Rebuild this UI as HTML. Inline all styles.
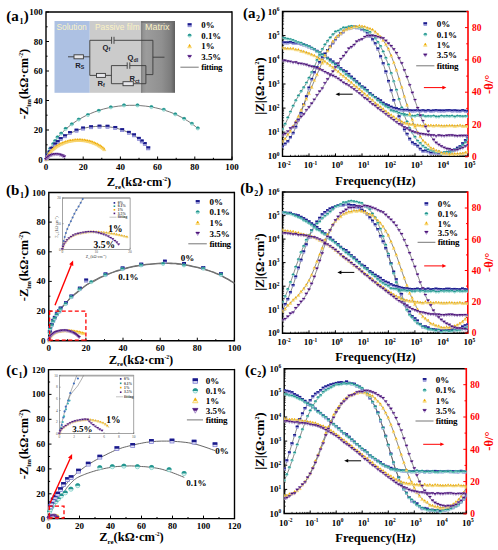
<!DOCTYPE html>
<html><head><meta charset="utf-8"><style>html,body{margin:0;padding:0;background:#fff;}svg{display:block;}</style></head>
<body><svg width="498" height="550" viewBox="0 0 498 550">
<rect width="498" height="550" fill="#fff"/>
<defs><g id="sq0.8"><rect x="-1.0" y="-1.0" width="2.0" height="2.0" fill="#a8a8dc" stroke="#7a7ad0" stroke-width="0.36000000000000004"/><rect x="-1.18" y="-1.18" width="2.36" height="1.23" fill="#1a1a8a"/></g><g id="ci0.8"><circle r="1.0" fill="#a6dcd6" stroke="#7ccfc6" stroke-width="0.36000000000000004"/><path d="M-1.18,0.1 A1.18,1.18 0 0 1 1.18,0.1 Z" fill="#23958f"/></g><g id="tu0.8"><path d="M0,-1.2000000000000002 L1.2000000000000002,0.9600000000000002 L-1.2000000000000002,0.9600000000000002 Z" fill="#f8dc8c" stroke="#f6cf55" stroke-width="0.36000000000000004"/><path d="M0,-1.3800000000000001 L0.7440000000000001,0.06000000000000001 L-0.7440000000000001,0.06000000000000001 Z" fill="#f0aa00"/></g><g id="td0.8"><path d="M0,1.2000000000000002 L1.2000000000000002,-0.9600000000000002 L-1.2000000000000002,-0.9600000000000002 Z" fill="#c4b0dc" stroke="#9a78c0" stroke-width="0.36000000000000004"/><path d="M-1.3200000000000003,-1.02 L1.3200000000000003,-1.02 L0.6240000000000001,0.12000000000000002 L-0.6240000000000001,0.12000000000000002 Z" fill="#4d1478"/></g><g id="sq1"><rect x="-1.25" y="-1.25" width="2.5" height="2.5" fill="#a8a8dc" stroke="#7a7ad0" stroke-width="0.45"/><rect x="-1.475" y="-1.475" width="2.95" height="1.5375" fill="#1a1a8a"/></g><g id="ci1"><circle r="1.25" fill="#a6dcd6" stroke="#7ccfc6" stroke-width="0.45"/><path d="M-1.475,0.1 A1.475,1.475 0 0 1 1.475,0.1 Z" fill="#23958f"/></g><g id="tu1"><path d="M0,-1.5 L1.5,1.2000000000000002 L-1.5,1.2000000000000002 Z" fill="#f8dc8c" stroke="#f6cf55" stroke-width="0.45"/><path d="M0,-1.7249999999999999 L0.9299999999999999,0.07500000000000001 L-0.9299999999999999,0.07500000000000001 Z" fill="#f0aa00"/></g><g id="td1"><path d="M0,1.5 L1.5,-1.2000000000000002 L-1.5,-1.2000000000000002 Z" fill="#c4b0dc" stroke="#9a78c0" stroke-width="0.45"/><path d="M-1.6500000000000001,-1.275 L1.6500000000000001,-1.275 L0.78,0.15000000000000002 L-0.78,0.15000000000000002 Z" fill="#4d1478"/></g><g id="sq1.1"><rect x="-1.375" y="-1.375" width="2.75" height="2.75" fill="#a8a8dc" stroke="#7a7ad0" stroke-width="0.49500000000000005"/><rect x="-1.6225" y="-1.6225" width="3.245" height="1.6912500000000001" fill="#1a1a8a"/></g><g id="ci1.1"><circle r="1.375" fill="#a6dcd6" stroke="#7ccfc6" stroke-width="0.49500000000000005"/><path d="M-1.6225,0.1 A1.6225,1.6225 0 0 1 1.6225,0.1 Z" fill="#23958f"/></g><g id="tu1.1"><path d="M0,-1.6500000000000001 L1.6500000000000001,1.3200000000000003 L-1.6500000000000001,1.3200000000000003 Z" fill="#f8dc8c" stroke="#f6cf55" stroke-width="0.49500000000000005"/><path d="M0,-1.8975 L1.0230000000000001,0.08250000000000002 L-1.0230000000000001,0.08250000000000002 Z" fill="#f0aa00"/></g><g id="td1.1"><path d="M0,1.6500000000000001 L1.6500000000000001,-1.3200000000000003 L-1.6500000000000001,-1.3200000000000003 Z" fill="#c4b0dc" stroke="#9a78c0" stroke-width="0.49500000000000005"/><path d="M-1.8150000000000004,-1.4025 L1.8150000000000004,-1.4025 L0.8580000000000001,0.16500000000000004 L-0.8580000000000001,0.16500000000000004 Z" fill="#4d1478"/></g><g id="sq1.2"><rect x="-1.5" y="-1.5" width="3.0" height="3.0" fill="#a8a8dc" stroke="#7a7ad0" stroke-width="0.54"/><rect x="-1.77" y="-1.77" width="3.54" height="1.8450000000000002" fill="#1a1a8a"/></g><g id="ci1.2"><circle r="1.5" fill="#a6dcd6" stroke="#7ccfc6" stroke-width="0.54"/><path d="M-1.77,0.1 A1.77,1.77 0 0 1 1.77,0.1 Z" fill="#23958f"/></g><g id="tu1.2"><path d="M0,-1.7999999999999998 L1.7999999999999998,1.44 L-1.7999999999999998,1.44 Z" fill="#f8dc8c" stroke="#f6cf55" stroke-width="0.54"/><path d="M0,-2.07 L1.1159999999999999,0.09 L-1.1159999999999999,0.09 Z" fill="#f0aa00"/></g><g id="td1.2"><path d="M0,1.7999999999999998 L1.7999999999999998,-1.44 L-1.7999999999999998,-1.44 Z" fill="#c4b0dc" stroke="#9a78c0" stroke-width="0.54"/><path d="M-1.98,-1.5299999999999998 L1.98,-1.5299999999999998 L0.9359999999999999,0.18 L-0.9359999999999999,0.18 Z" fill="#4d1478"/></g><g id="sq1.3"><rect x="-1.625" y="-1.625" width="3.25" height="3.25" fill="#a8a8dc" stroke="#7a7ad0" stroke-width="0.5850000000000001"/><rect x="-1.9175" y="-1.9175" width="3.835" height="1.99875" fill="#1a1a8a"/></g><g id="ci1.3"><circle r="1.625" fill="#a6dcd6" stroke="#7ccfc6" stroke-width="0.5850000000000001"/><path d="M-1.9175,0.1 A1.9175,1.9175 0 0 1 1.9175,0.1 Z" fill="#23958f"/></g><g id="tu1.3"><path d="M0,-1.9500000000000002 L1.9500000000000002,1.5600000000000003 L-1.9500000000000002,1.5600000000000003 Z" fill="#f8dc8c" stroke="#f6cf55" stroke-width="0.5850000000000001"/><path d="M0,-2.2425 L1.209,0.09750000000000002 L-1.209,0.09750000000000002 Z" fill="#f0aa00"/></g><g id="td1.3"><path d="M0,1.9500000000000002 L1.9500000000000002,-1.5600000000000003 L-1.9500000000000002,-1.5600000000000003 Z" fill="#c4b0dc" stroke="#9a78c0" stroke-width="0.5850000000000001"/><path d="M-2.1450000000000005,-1.6575000000000002 L2.1450000000000005,-1.6575000000000002 L1.0140000000000002,0.19500000000000003 L-1.0140000000000002,0.19500000000000003 Z" fill="#4d1478"/></g><g id="sq1.6"><rect x="-2.0" y="-2.0" width="4.0" height="4.0" fill="#e4e4f6" stroke="#7a7ad0" stroke-width="0.7200000000000001"/><rect x="-2.36" y="-2.36" width="4.72" height="2.46" fill="#1a1a8a"/></g><g id="ci1.6"><circle r="2.0" fill="#e0f4f1" stroke="#7ccfc6" stroke-width="0.7200000000000001"/><path d="M-2.36,0.1 A2.36,2.36 0 0 1 2.36,0.1 Z" fill="#23958f"/></g><g id="tu1.6"><path d="M0,-2.4000000000000004 L2.4000000000000004,1.9200000000000004 L-2.4000000000000004,1.9200000000000004 Z" fill="#fdf2d0" stroke="#f6cf55" stroke-width="0.7200000000000001"/><path d="M0,-2.7600000000000002 L1.4880000000000002,0.12000000000000002 L-1.4880000000000002,0.12000000000000002 Z" fill="#f0aa00"/></g><g id="td1.6"><path d="M0,2.4000000000000004 L2.4000000000000004,-1.9200000000000004 L-2.4000000000000004,-1.9200000000000004 Z" fill="#ece4f6" stroke="#9a78c0" stroke-width="0.7200000000000001"/><path d="M-2.6400000000000006,-2.04 L2.6400000000000006,-2.04 L1.2480000000000002,0.24000000000000005 L-1.2480000000000002,0.24000000000000005 Z" fill="#4d1478"/></g><g id="sq1.7"><rect x="-2.125" y="-2.125" width="4.25" height="4.25" fill="#e4e4f6" stroke="#7a7ad0" stroke-width="0.765"/><rect x="-2.5075" y="-2.5075" width="5.015" height="2.61375" fill="#1a1a8a"/></g><g id="ci1.7"><circle r="2.125" fill="#e0f4f1" stroke="#7ccfc6" stroke-width="0.765"/><path d="M-2.5075,0.1 A2.5075,2.5075 0 0 1 2.5075,0.1 Z" fill="#23958f"/></g><g id="tu1.7"><path d="M0,-2.55 L2.55,2.04 L-2.55,2.04 Z" fill="#fdf2d0" stroke="#f6cf55" stroke-width="0.765"/><path d="M0,-2.9324999999999997 L1.581,0.1275 L-1.581,0.1275 Z" fill="#f0aa00"/></g><g id="td1.7"><path d="M0,2.55 L2.55,-2.04 L-2.55,-2.04 Z" fill="#ece4f6" stroke="#9a78c0" stroke-width="0.765"/><path d="M-2.805,-2.1675 L2.805,-2.1675 L1.3259999999999998,0.255 L-1.3259999999999998,0.255 Z" fill="#4d1478"/></g><g id="sq1.8"><rect x="-2.25" y="-2.25" width="4.5" height="4.5" fill="#e4e4f6" stroke="#7a7ad0" stroke-width="0.81"/><rect x="-2.6550000000000002" y="-2.6550000000000002" width="5.3100000000000005" height="2.7675" fill="#1a1a8a"/></g><g id="ci1.8"><circle r="2.25" fill="#e0f4f1" stroke="#7ccfc6" stroke-width="0.81"/><path d="M-2.6550000000000002,0.1 A2.6550000000000002,2.6550000000000002 0 0 1 2.6550000000000002,0.1 Z" fill="#23958f"/></g><g id="tu1.8"><path d="M0,-2.7 L2.7,2.16 L-2.7,2.16 Z" fill="#fdf2d0" stroke="#f6cf55" stroke-width="0.81"/><path d="M0,-3.105 L1.6740000000000002,0.135 L-1.6740000000000002,0.135 Z" fill="#f0aa00"/></g><g id="td1.8"><path d="M0,2.7 L2.7,-2.16 L-2.7,-2.16 Z" fill="#ece4f6" stroke="#9a78c0" stroke-width="0.81"/><path d="M-2.9700000000000006,-2.295 L2.9700000000000006,-2.295 L1.4040000000000001,0.27 L-1.4040000000000001,0.27 Z" fill="#4d1478"/></g></defs>
<path d="M232,12 L46,12 L46,159.5 L232,159.5" fill="none" stroke="#000" stroke-width="1.4"/>
<line x1="232" y1="11.3" x2="232" y2="160.2" stroke="#000" stroke-width="1.4" />
<line x1="46" y1="159.5" x2="46" y2="156.5" stroke="#000" stroke-width="1" />
<text x="46" y="169.8" font-size="9" text-anchor="middle" fill="#000" font-family="Liberation Serif" font-weight="bold" >0</text>
<line x1="83.2" y1="159.5" x2="83.2" y2="156.5" stroke="#000" stroke-width="1" />
<text x="83.2" y="169.8" font-size="9" text-anchor="middle" fill="#000" font-family="Liberation Serif" font-weight="bold" >20</text>
<line x1="120.4" y1="159.5" x2="120.4" y2="156.5" stroke="#000" stroke-width="1" />
<text x="120.4" y="169.8" font-size="9" text-anchor="middle" fill="#000" font-family="Liberation Serif" font-weight="bold" >40</text>
<line x1="157.6" y1="159.5" x2="157.6" y2="156.5" stroke="#000" stroke-width="1" />
<text x="157.6" y="169.8" font-size="9" text-anchor="middle" fill="#000" font-family="Liberation Serif" font-weight="bold" >60</text>
<line x1="194.8" y1="159.5" x2="194.8" y2="156.5" stroke="#000" stroke-width="1" />
<text x="194.8" y="169.8" font-size="9" text-anchor="middle" fill="#000" font-family="Liberation Serif" font-weight="bold" >80</text>
<line x1="232" y1="159.5" x2="232" y2="156.5" stroke="#000" stroke-width="1" />
<text x="232" y="169.8" font-size="9" text-anchor="middle" fill="#000" font-family="Liberation Serif" font-weight="bold" >100</text>
<line x1="64.6" y1="159.5" x2="64.6" y2="157.8" stroke="#000" stroke-width="1" />
<line x1="101.8" y1="159.5" x2="101.8" y2="157.8" stroke="#000" stroke-width="1" />
<line x1="139" y1="159.5" x2="139" y2="157.8" stroke="#000" stroke-width="1" />
<line x1="176.2" y1="159.5" x2="176.2" y2="157.8" stroke="#000" stroke-width="1" />
<line x1="213.4" y1="159.5" x2="213.4" y2="157.8" stroke="#000" stroke-width="1" />
<line x1="46" y1="159.5" x2="49" y2="159.5" stroke="#000" stroke-width="1" />
<text x="42.8" y="162.5" font-size="9" text-anchor="end" fill="#000" font-family="Liberation Serif" font-weight="bold" >0</text>
<line x1="46" y1="130" x2="49" y2="130" stroke="#000" stroke-width="1" />
<text x="42.8" y="133" font-size="9" text-anchor="end" fill="#000" font-family="Liberation Serif" font-weight="bold" >20</text>
<line x1="46" y1="100.5" x2="49" y2="100.5" stroke="#000" stroke-width="1" />
<text x="42.8" y="103.5" font-size="9" text-anchor="end" fill="#000" font-family="Liberation Serif" font-weight="bold" >40</text>
<line x1="46" y1="71" x2="49" y2="71" stroke="#000" stroke-width="1" />
<text x="42.8" y="74" font-size="9" text-anchor="end" fill="#000" font-family="Liberation Serif" font-weight="bold" >60</text>
<line x1="46" y1="41.5" x2="49" y2="41.5" stroke="#000" stroke-width="1" />
<text x="42.8" y="44.5" font-size="9" text-anchor="end" fill="#000" font-family="Liberation Serif" font-weight="bold" >80</text>
<line x1="46" y1="12" x2="49" y2="12" stroke="#000" stroke-width="1" />
<text x="42.8" y="15" font-size="9" text-anchor="end" fill="#000" font-family="Liberation Serif" font-weight="bold" >100</text>
<line x1="46" y1="144.8" x2="47.6" y2="144.8" stroke="#000" stroke-width="1" />
<line x1="46" y1="115.2" x2="47.6" y2="115.2" stroke="#000" stroke-width="1" />
<line x1="46" y1="85.8" x2="47.6" y2="85.8" stroke="#000" stroke-width="1" />
<line x1="46" y1="56.2" x2="47.6" y2="56.2" stroke="#000" stroke-width="1" />
<line x1="46" y1="26.8" x2="47.6" y2="26.8" stroke="#000" stroke-width="1" />
<defs><linearGradient id="mgrad" x1="0" x2="1" y1="0" y2="0"><stop offset="0" stop-color="#8e8e8e"/><stop offset="0.15" stop-color="#9c9c9c"/><stop offset="0.6" stop-color="#909090"/><stop offset="0.88" stop-color="#7c7c7c"/><stop offset="1" stop-color="#5e5e5e"/></linearGradient></defs>
<rect x="54.5" y="21" width="35.3" height="71.8" fill="#adc1e3"/>
<rect x="89.8" y="21" width="51.4" height="71.8" fill="#cbcbcb"/>
<rect x="141.2" y="21" width="33.8" height="71.8" fill="url(#mgrad)"/>
<rect x="141.2" y="21" width="33.8" height="2" fill="#6a6a6a" opacity="0.6"/>
<rect x="141.2" y="21" width="1" height="71.8" fill="#6a6a6a" opacity="0.7"/>
<text x="56.5" y="30.2" font-size="8.4" font-family="Liberation Sans" fill="#fbf2c4">Solution</text>
<text x="95" y="30" font-size="8.4" font-family="Liberation Sans" fill="#fbf2c4">Passive film</text>
<text x="145" y="30" font-size="9" font-family="Liberation Sans" fill="#fbf2c4">Matrix</text>
<path d="M68,56.8 H74 M83.4,56.8 H89.8 M89.8,40.3 V75.4 M89.8,40.3 H111.6 M114,40.3 H152.9 V74.6 H145.9 M152.9,57.2 H164.5" fill="none" stroke="#3a3a3a" stroke-width="0.9"/>
<path d="M111.6,36.8 V43.8 M114,36.8 V43.8" fill="none" stroke="#3a3a3a" stroke-width="0.9"/>
<rect x="74" y="54.8" width="9.4" height="4" fill="#e6e6ea" stroke="#3a3a3a" stroke-width="0.9"/>
<path d="M89.8,75.4 H96.5 M105.4,75.4 H111.4 M111.4,65.6 V83.7 M111.4,65.6 H127.2 M129.8,65.6 H145.9 V83.7 H133.3 M123,83.7 H111.4" fill="none" stroke="#3a3a3a" stroke-width="0.9"/>
<path d="M127.2,62.4 V68.8 M129.8,62.4 V68.8" fill="none" stroke="#3a3a3a" stroke-width="0.9"/>
<rect x="96.5" y="73.4" width="8.9" height="4" fill="#e6e6ea" stroke="#3a3a3a" stroke-width="0.9"/>
<rect x="123" y="81.7" width="10.3" height="4" fill="#e6e6ea" stroke="#3a3a3a" stroke-width="0.9"/>
<text x="75.3" y="67.6" font-size="7.6" font-family="Liberation Sans" font-weight="bold" fill="#1c1c2a">R<tspan font-size="5.3" dy="1.8">S</tspan></text>
<text x="102.6" y="49.6" font-size="7.6" font-family="Liberation Sans" font-weight="bold" fill="#1c1c2a">Q<tspan font-size="5.3" dy="1.8">f</tspan></text>
<text x="97.6" y="85.6" font-size="7.6" font-family="Liberation Sans" font-weight="bold" fill="#1c1c2a">R<tspan font-size="5.3" dy="1.8">f</tspan></text>
<text x="127.6" y="60.4" font-size="7.6" font-family="Liberation Sans" font-weight="bold" fill="#1c1c2a">Q<tspan font-size="5.3" dy="1.8">dl</tspan></text>
<text x="129.4" y="80.8" font-size="7.6" font-family="Liberation Sans" font-weight="bold" fill="#1c1c2a">R<tspan font-size="5.3" dy="1.8">ct</tspan></text>
<path d="M46.1,159.4 L46.1,159.4 L46.1,159.4 L46.1,159.4 L46.1,159.4 L46.1,159.4 L46.1,159.4 L46.1,159.4 L46.1,159.4 L46.1,159.4 L46.1,159.4 L46.1,159.4 L46.1,159.4 L46.1,159.4 L46.1,159.4 L46.1,159.3 L46.1,159.3 L46.1,159.3 L46.2,159.3 L46.2,159.3 L46.2,159.3 L46.2,159.2 L46.2,159.2 L46.2,159.2 L46.2,159.2 L46.2,159.2 L46.2,159.1 L46.2,159.1 L46.2,159.1 L46.2,159 L46.2,159 L46.3,159 L46.3,158.9 L46.3,158.9 L46.3,158.8 L46.3,158.8 L46.3,158.7 L46.4,158.6 L46.4,158.6 L46.4,158.5 L46.4,158.4 L46.4,158.3 L46.5,158.2 L46.5,158.1 L46.5,158 L46.6,157.9 L46.6,157.8 L46.7,157.6 L46.7,157.5 L46.8,157.3 L46.8,157.2 L46.9,157 L47,156.8 L47,156.6 L47.1,156.3 L47.2,156.1 L47.3,155.8 L47.4,155.5 L47.5,155.2 L47.7,154.9 L47.8,154.5 L47.9,154.1 L48.1,153.7 L48.3,153.3 L48.5,152.8 L48.7,152.3 L49,151.7 L49.3,151.1 L49.6,150.5 L49.9,149.8 L50.3,149 L50.7,148.2 L51.1,147.4 L51.6,146.5 L52.2,145.5 L52.8,144.5 L53.5,143.4 L54.3,142.2 L55.2,141 L56.1,139.7 L57.2,138.3 L58.3,136.8 L59.6,135.3 L61.1,133.7 L62.7,132 L64.5,130.3 L66.4,128.5 L68.6,126.7 L71,124.8 L73.6,122.9 L76.4,121 L79.5,119.1 L82.9,117.2 L86.5,115.3 L90.4,113.6 L94.6,111.9 L99,110.4 L103.6,109 L108.5,107.8 L113.5,106.9 L118.7,106.1 L124,105.6 L129.3,105.3 L134.7,105.3 L140.1,105.6 L145.4,106.1 L150.6,106.8 L155.6,107.8 L160.5,109 L165.1,110.4 L169.5,111.9 L173.7,113.5 L177.6,115.3 L181.2,117.1 L184.6,119 L187.7,120.9 L190.6,122.8 L193.2,124.7 L195.6,126.6 L197.7,128.5" fill="none" stroke="#555555" stroke-width="0.8" />
<use href="#ci1.3" x="197.8" y="128.4"/><use href="#ci1.3" x="191.9" y="123.7"/><use href="#ci1.3" x="184.1" y="118.8"/><use href="#ci1.3" x="175.3" y="114.3"/><use href="#ci1.3" x="163.8" y="109.7"/><use href="#ci1.3" x="151.4" y="107"/><use href="#ci1.3" x="137.5" y="105.4"/><use href="#ci1.3" x="124" y="105.4"/><use href="#ci1.3" x="110.8" y="107.3"/><use href="#ci1.3" x="98.8" y="110.8"/><use href="#ci1.3" x="87.9" y="115"/><use href="#ci1.3" x="78.7" y="119.5"/><use href="#ci1.3" x="71.8" y="124.3"/><use href="#ci1.3" x="65.6" y="128.9"/><use href="#ci1.3" x="61.2" y="133.6"/><use href="#ci1.3" x="57.5" y="137.4"/><use href="#ci1.3" x="55.1" y="141.1"/><use href="#ci1.3" x="53.2" y="144.1"/><use href="#ci1.3" x="50.2" y="148.8"/><use href="#ci1.3" x="49" y="152.5"/><use href="#ci1.3" x="47.2" y="155.8"/><use href="#ci1.3" x="46.7" y="158.6"/>
<path d="M46.2,159.5 L46.2,159.5 L46.2,159.5 L46.2,159.5 L46.2,159.4 L46.2,159.4 L46.2,159.4 L46.2,159.4 L46.2,159.4 L46.2,159.4 L46.2,159.4 L46.2,159.4 L46.2,159.4 L46.2,159.4 L46.2,159.4 L46.2,159.4 L46.2,159.4 L46.2,159.4 L46.2,159.3 L46.2,159.3 L46.2,159.3 L46.2,159.3 L46.2,159.3 L46.2,159.3 L46.2,159.2 L46.2,159.2 L46.2,159.2 L46.3,159.2 L46.3,159.2 L46.3,159.1 L46.3,159.1 L46.3,159.1 L46.3,159 L46.3,159 L46.3,158.9 L46.4,158.9 L46.4,158.8 L46.4,158.8 L46.4,158.7 L46.4,158.6 L46.5,158.6 L46.5,158.5 L46.5,158.4 L46.6,158.3 L46.6,158.2 L46.6,158.1 L46.7,158 L46.7,157.9 L46.8,157.7 L46.8,157.6 L46.9,157.4 L47,157.3 L47,157.1 L47.1,156.9 L47.2,156.7 L47.3,156.4 L47.4,156.2 L47.5,155.9 L47.7,155.6 L47.8,155.3 L48,154.9 L48.1,154.6 L48.3,154.2 L48.6,153.7 L48.8,153.3 L49.1,152.8 L49.4,152.2 L49.7,151.7 L50.1,151.1 L50.5,150.4 L51,149.7 L51.5,149 L52,148.2 L52.7,147.3 L53.4,146.4 L54.2,145.5 L55.1,144.5 L56.1,143.4 L57.2,142.4 L58.4,141.2 L59.7,140.1 L61.2,138.9 L62.8,137.7 L64.6,136.4 L66.6,135.2 L68.7,134 L71.1,132.8 L73.6,131.7 L76.2,130.6 L79.1,129.6 L82.1,128.7 L85.2,127.9 L88.5,127.3 L91.9,126.8 L95.3,126.5 L98.8,126.3 L102.3,126.4 L105.8,126.6 L109.2,126.9 L112.6,127.4 L115.8,128.1 L118.9,128.9 L121.9,129.8 L124.7,130.9 L127.3,132 L129.8,133.1 L132,134.3 L134.1,135.5 L136,136.8 L137.8,138 L139.4,139.2 L140.8,140.4 L142.1,141.5 L143.3,142.6 L144.4,143.7 L145.3,144.8 L146.2,145.7 L147,146.7 L147.7,147.5 L148.3,148.4" fill="none" stroke="#555555" stroke-width="0.8" />
<use href="#sq1.3" x="148.3" y="148.3"/><use href="#sq1.3" x="144.8" y="144"/><use href="#sq1.3" x="141.8" y="141.4"/><use href="#sq1.3" x="138.9" y="138.8"/><use href="#sq1.3" x="134.1" y="135.3"/><use href="#sq1.3" x="128.9" y="132.8"/><use href="#sq1.3" x="122.2" y="130.1"/><use href="#sq1.3" x="115.3" y="127.9"/><use href="#sq1.3" x="107.5" y="126.7"/><use href="#sq1.3" x="99.5" y="126.6"/><use href="#sq1.3" x="91.1" y="127.2"/><use href="#sq1.3" x="83.1" y="128.5"/><use href="#sq1.3" x="76.5" y="130.6"/><use href="#sq1.3" x="70" y="133"/><use href="#sq1.3" x="65" y="136.2"/><use href="#sq1.3" x="60.7" y="139"/><use href="#sq1.3" x="57.7" y="142"/><use href="#sq1.3" x="55.2" y="144.5"/><use href="#sq1.3" x="51.5" y="148.7"/><use href="#sq1.3" x="49.7" y="152.3"/><use href="#sq1.3" x="47.5" y="155.5"/><use href="#sq1.3" x="47" y="158.3"/>
<path d="M46,159.5 L46,159.5 L46,159.5 L46,159.5 L46.1,159.5 L46.1,159.5 L46.1,159.5 L46.1,159.5 L46.1,159.5 L46.1,159.4 L46.1,159.4 L46.1,159.4 L46.1,159.4 L46.1,159.4 L46.1,159.4 L46.1,159.4 L46.1,159.4 L46.1,159.4 L46.1,159.4 L46.1,159.4 L46.1,159.4 L46.1,159.4 L46.1,159.4 L46.1,159.3 L46.1,159.3 L46.1,159.3 L46.1,159.3 L46.1,159.3 L46.1,159.3 L46.1,159.3 L46.1,159.2 L46.1,159.2 L46.1,159.2 L46.2,159.2 L46.2,159.2 L46.2,159.1 L46.2,159.1 L46.2,159.1 L46.2,159 L46.2,159 L46.2,159 L46.3,158.9 L46.3,158.9 L46.3,158.8 L46.3,158.8 L46.3,158.7 L46.4,158.6 L46.4,158.6 L46.4,158.5 L46.5,158.4 L46.5,158.3 L46.5,158.2 L46.6,158.1 L46.6,158 L46.7,157.9 L46.7,157.8 L46.8,157.7 L46.9,157.5 L46.9,157.4 L47,157.2 L47.1,157 L47.2,156.9 L47.3,156.7 L47.4,156.4 L47.5,156.2 L47.7,156 L47.8,155.7 L48,155.4 L48.2,155.1 L48.4,154.8 L48.6,154.4 L48.9,154.1 L49.1,153.7 L49.4,153.3 L49.8,152.8 L50.2,152.4 L50.6,151.9 L51,151.4 L51.5,150.8 L52.1,150.3 L52.7,149.7 L53.3,149.1 L54.1,148.4 L54.9,147.8 L55.7,147.1 L56.7,146.5 L57.7,145.8 L58.9,145.1 L60.1,144.5 L61.4,143.8 L62.8,143.2 L64.3,142.6 L65.8,142.1 L67.5,141.6 L69.2,141.2 L71,140.8 L72.9,140.5 L74.8,140.3 L76.7,140.2 L78.6,140.1 L80.6,140.2 L82.5,140.3 L84.4,140.5 L86.2,140.8 L88,141.2 L89.8,141.6 L91.4,142.1 L93,142.7 L94.5,143.3 L95.9,143.9 L97.2,144.5 L98.4,145.2 L99.5,145.8 L100.5,146.5 L101.5,147.2 L102.4,147.8 L103.1,148.5 L103.9,149.1 L104.5,149.7 L105.1,150.3" fill="none" stroke="#555555" stroke-width="0.8" />
<use href="#tu1.1" x="46" y="159.5"/><use href="#tu1.1" x="46.7" y="157.9"/><use href="#tu1.1" x="47.4" y="156.4"/><use href="#tu1.1" x="48.3" y="154.9"/><use href="#tu1.1" x="49.3" y="153.5"/><use href="#tu1.1" x="50.3" y="152.2"/><use href="#tu1.1" x="51.4" y="150.9"/><use href="#tu1.1" x="52.6" y="149.7"/><use href="#tu1.1" x="53.9" y="148.6"/><use href="#tu1.1" x="55.2" y="147.5"/><use href="#tu1.1" x="56.6" y="146.5"/><use href="#tu1.1" x="58.1" y="145.6"/><use href="#tu1.1" x="59.5" y="144.8"/><use href="#tu1.1" x="61.1" y="144"/><use href="#tu1.1" x="62.6" y="143.3"/><use href="#tu1.1" x="64.2" y="142.7"/><use href="#tu1.1" x="65.8" y="142.1"/><use href="#tu1.1" x="67.4" y="141.6"/><use href="#tu1.1" x="69.1" y="141.2"/><use href="#tu1.1" x="70.7" y="140.9"/><use href="#tu1.1" x="72.4" y="140.6"/><use href="#tu1.1" x="74.1" y="140.4"/><use href="#tu1.1" x="75.8" y="140.2"/><use href="#tu1.1" x="77.5" y="140.1"/><use href="#tu1.1" x="79.2" y="140.1"/><use href="#tu1.1" x="80.9" y="140.2"/><use href="#tu1.1" x="82.6" y="140.3"/><use href="#tu1.1" x="84.3" y="140.5"/><use href="#tu1.1" x="85.9" y="140.8"/><use href="#tu1.1" x="87.6" y="141.1"/><use href="#tu1.1" x="89.3" y="141.5"/><use href="#tu1.1" x="90.9" y="142"/><use href="#tu1.1" x="92.5" y="142.5"/><use href="#tu1.1" x="94.1" y="143.1"/><use href="#tu1.1" x="95.7" y="143.8"/><use href="#tu1.1" x="97.2" y="144.5"/><use href="#tu1.1" x="98.7" y="145.4"/><use href="#tu1.1" x="100.1" y="146.2"/><use href="#tu1.1" x="101.5" y="147.2"/><use href="#tu1.1" x="102.9" y="148.2"/><use href="#tu1.1" x="104.2" y="149.4"/>
<path d="M46,159.5 L46,159.5 L46,159.5 L46,159.5 L46,159.5 L46,159.5 L46,159.5 L46,159.5 L46,159.5 L46,159.5 L46,159.5 L46,159.5 L46,159.5 L46,159.5 L46,159.4 L46.1,159.4 L46.1,159.4 L46.1,159.4 L46.1,159.4 L46.1,159.4 L46.1,159.4 L46.1,159.4 L46.1,159.4 L46.1,159.4 L46.1,159.4 L46.1,159.4 L46.1,159.4 L46.1,159.4 L46.1,159.4 L46.1,159.4 L46.1,159.3 L46.1,159.3 L46.1,159.3 L46.1,159.3 L46.1,159.3 L46.1,159.3 L46.2,159.3 L46.2,159.3 L46.2,159.2 L46.2,159.2 L46.2,159.2 L46.2,159.2 L46.2,159.2 L46.2,159.1 L46.3,159.1 L46.3,159.1 L46.3,159.1 L46.3,159 L46.3,159 L46.4,159 L46.4,158.9 L46.4,158.9 L46.5,158.8 L46.5,158.8 L46.5,158.7 L46.6,158.7 L46.6,158.6 L46.6,158.6 L46.7,158.5 L46.8,158.5 L46.8,158.4 L46.9,158.3 L46.9,158.2 L47,158.2 L47.1,158.1 L47.2,158 L47.3,157.9 L47.4,157.8 L47.5,157.7 L47.6,157.6 L47.7,157.5 L47.8,157.3 L48,157.2 L48.1,157.1 L48.3,156.9 L48.5,156.8 L48.7,156.7 L48.9,156.5 L49.1,156.4 L49.4,156.2 L49.6,156.1 L49.9,155.9 L50.2,155.8 L50.5,155.6 L50.8,155.5 L51.2,155.3 L51.5,155.2 L51.9,155 L52.3,154.9 L52.8,154.8 L53.2,154.7 L53.6,154.6 L54.1,154.5 L54.6,154.4 L55.1,154.4 L55.6,154.4 L56,154.4 L56.5,154.4 L57,154.4 L57.5,154.4 L58,154.5 L58.5,154.5 L58.9,154.6 L59.4,154.7 L59.8,154.8 L60.2,154.9 L60.6,155.1 L61,155.2 L61.4,155.3 L61.7,155.5 L62.1,155.6 L62.4,155.8 L62.7,155.9 L62.9,156.1 L63.2,156.2 L63.4,156.4 L63.6,156.5 L63.9,156.7 L64,156.8 L64.2,157" fill="none" stroke="#555555" stroke-width="0.8" />
<use href="#td1.1" x="46" y="159.5"/><use href="#td1.1" x="47" y="158.1"/><use href="#td1.1" x="48.3" y="157"/><use href="#td1.1" x="49.7" y="156"/><use href="#td1.1" x="51.2" y="155.3"/><use href="#td1.1" x="52.8" y="154.8"/><use href="#td1.1" x="54.5" y="154.5"/><use href="#td1.1" x="56.2" y="154.4"/><use href="#td1.1" x="57.9" y="154.4"/><use href="#td1.1" x="59.6" y="154.8"/><use href="#td1.1" x="61.2" y="155.3"/><use href="#td1.1" x="62.7" y="156"/><use href="#td1.1" x="64.2" y="156.9"/>
<use href="#sq1.3" x="189.6" y="25.2"/>
<text x="201.3" y="28.1" font-size="8.8" text-anchor="start" fill="#000" font-family="Liberation Serif" font-weight="bold" >0%</text>
<use href="#ci1.3" x="189.6" y="35.6"/>
<text x="201.3" y="38.5" font-size="8.8" text-anchor="start" fill="#000" font-family="Liberation Serif" font-weight="bold" >0.1%</text>
<use href="#tu1.3" x="189.6" y="46.3"/>
<text x="201.3" y="49.2" font-size="8.8" text-anchor="start" fill="#000" font-family="Liberation Serif" font-weight="bold" >1%</text>
<use href="#td1.3" x="189.6" y="56.8"/>
<text x="201.3" y="59.7" font-size="8.8" text-anchor="start" fill="#000" font-family="Liberation Serif" font-weight="bold" >3.5%</text>
<line x1="180.4" y1="67.2" x2="198.7" y2="67.2" stroke="#777" stroke-width="1" />
<text x="201.3" y="70.1" font-size="8.8" text-anchor="start" fill="#000" font-family="Liberation Serif" font-weight="bold" letter-spacing="-0.3">fitting</text>
<text transform="translate(28,84) rotate(-90)" x="0" y="0" font-size="12.5" text-anchor="middle" font-family="Liberation Serif" font-weight="bold">-Z<tspan font-size="6.9" dy="2.8">im</tspan><tspan dy="-2.8">(kΩ·cm</tspan><tspan font-size="5.6" dy="-4.8">-2</tspan><tspan dy="4.8">)</tspan></text>
<text x="139" y="186" font-size="12.5" text-anchor="middle" font-family="Liberation Serif" font-weight="bold">Z<tspan font-size="6.9" dy="2.8">re</tspan><tspan dy="-2.8">(kΩ·cm</tspan><tspan font-size="5.6" dy="-4.8">-2</tspan><tspan dy="4.8">)</tspan></text>
<text x="6.3" y="21" font-size="15" font-family="Liberation Serif" font-weight="bold">(a<tspan font-size="8" dy="2.9" dx="0.6">1</tspan><tspan dy="-2.9" dx="0.3">)</tspan></text>
<text x="36" y="15.3" font-size="9" text-anchor="end" font-family="Liberation Serif" font-weight="bold"></text>
<path d="M234.4,192.5 L48.8,192.5 L48.8,340.7 L234.4,340.7" fill="none" stroke="#000" stroke-width="1.4"/>
<line x1="234.4" y1="191.8" x2="234.4" y2="341.4" stroke="#000" stroke-width="1.4" />
<line x1="48.8" y1="340.7" x2="48.8" y2="337.7" stroke="#000" stroke-width="1" />
<text x="48.8" y="351" font-size="9" text-anchor="middle" fill="#000" font-family="Liberation Serif" font-weight="bold" >0</text>
<line x1="85.9" y1="340.7" x2="85.9" y2="337.7" stroke="#000" stroke-width="1" />
<text x="85.9" y="351" font-size="9" text-anchor="middle" fill="#000" font-family="Liberation Serif" font-weight="bold" >20</text>
<line x1="123" y1="340.7" x2="123" y2="337.7" stroke="#000" stroke-width="1" />
<text x="123" y="351" font-size="9" text-anchor="middle" fill="#000" font-family="Liberation Serif" font-weight="bold" >40</text>
<line x1="160.2" y1="340.7" x2="160.2" y2="337.7" stroke="#000" stroke-width="1" />
<text x="160.2" y="351" font-size="9" text-anchor="middle" fill="#000" font-family="Liberation Serif" font-weight="bold" >60</text>
<line x1="197.3" y1="340.7" x2="197.3" y2="337.7" stroke="#000" stroke-width="1" />
<text x="197.3" y="351" font-size="9" text-anchor="middle" fill="#000" font-family="Liberation Serif" font-weight="bold" >80</text>
<line x1="234.4" y1="340.7" x2="234.4" y2="337.7" stroke="#000" stroke-width="1" />
<text x="234.4" y="351" font-size="9" text-anchor="middle" fill="#000" font-family="Liberation Serif" font-weight="bold" >100</text>
<line x1="67.4" y1="340.7" x2="67.4" y2="339.1" stroke="#000" stroke-width="1" />
<line x1="104.5" y1="340.7" x2="104.5" y2="339.1" stroke="#000" stroke-width="1" />
<line x1="141.6" y1="340.7" x2="141.6" y2="339.1" stroke="#000" stroke-width="1" />
<line x1="178.7" y1="340.7" x2="178.7" y2="339.1" stroke="#000" stroke-width="1" />
<line x1="215.8" y1="340.7" x2="215.8" y2="339.1" stroke="#000" stroke-width="1" />
<line x1="48.8" y1="340.7" x2="51.8" y2="340.7" stroke="#000" stroke-width="1" />
<text x="45.6" y="343.7" font-size="9" text-anchor="end" fill="#000" font-family="Liberation Serif" font-weight="bold" >0</text>
<line x1="48.8" y1="311.1" x2="51.8" y2="311.1" stroke="#000" stroke-width="1" />
<text x="45.6" y="314" font-size="9" text-anchor="end" fill="#000" font-family="Liberation Serif" font-weight="bold" >20</text>
<line x1="48.8" y1="281.4" x2="51.8" y2="281.4" stroke="#000" stroke-width="1" />
<text x="45.6" y="284.4" font-size="9" text-anchor="end" fill="#000" font-family="Liberation Serif" font-weight="bold" >40</text>
<line x1="48.8" y1="251.8" x2="51.8" y2="251.8" stroke="#000" stroke-width="1" />
<text x="45.6" y="254.8" font-size="9" text-anchor="end" fill="#000" font-family="Liberation Serif" font-weight="bold" >60</text>
<line x1="48.8" y1="222.1" x2="51.8" y2="222.1" stroke="#000" stroke-width="1" />
<text x="45.6" y="225.1" font-size="9" text-anchor="end" fill="#000" font-family="Liberation Serif" font-weight="bold" >80</text>
<line x1="48.8" y1="192.5" x2="51.8" y2="192.5" stroke="#000" stroke-width="1" />
<text x="45.6" y="195.5" font-size="9" text-anchor="end" fill="#000" font-family="Liberation Serif" font-weight="bold" >100</text>
<line x1="48.8" y1="325.9" x2="50.4" y2="325.9" stroke="#000" stroke-width="1" />
<line x1="48.8" y1="296.2" x2="50.4" y2="296.2" stroke="#000" stroke-width="1" />
<line x1="48.8" y1="266.6" x2="50.4" y2="266.6" stroke="#000" stroke-width="1" />
<line x1="48.8" y1="237" x2="50.4" y2="237" stroke="#000" stroke-width="1" />
<line x1="48.8" y1="207.3" x2="50.4" y2="207.3" stroke="#000" stroke-width="1" />
<path d="M48.8,340.7 L48.9,340.3 L48.9,339.8 L49,339.2 L49.1,338.5 L49.2,337.7 L49.3,337 L49.4,336.2 L49.5,335.5 L49.7,334.8 L49.8,334.1 L49.9,333.3 L50.1,332.5 L50.2,331.8 L50.4,331 L50.5,330.3 L50.7,329.6 L50.8,328.9 L51,328.2 L51.1,327.6 L51.3,327 L51.5,326.4 L51.6,325.8 L51.8,325.2 L52,324.7 L52.1,324.2 L52.2,323.8 L52.3,323.4 L52.5,323.1 L52.6,322.7 L52.7,322.4 L52.8,322 L53,321.6 L53.2,321.1 L53.3,320.7 L53.5,320.2 L53.7,319.8 L53.9,319.3 L54.1,318.8 L54.3,318.3 L54.6,317.9 L54.8,317.4 L55,317 L55.2,316.6 L55.4,316.2 L55.6,315.7 L55.9,315.3 L56.2,314.8 L56.5,314.3 L56.9,313.8 L57.2,313.2 L57.6,312.7 L58,312.1 L58.5,311.5 L58.9,310.8 L59.4,310.2 L60,309.5 L60.6,308.8 L61.2,308.1 L61.9,307.3 L62.7,306.5 L63.4,305.7 L64.2,304.9 L64.9,304.1 L65.6,303.4 L66.3,302.6 L66.9,301.9 L67.5,301.2 L68.1,300.5 L68.7,299.8 L69.4,299 L70.2,298.3 L71.1,297.4 L72,296.5 L73.1,295.6 L74.2,294.5 L75.4,293.5 L76.6,292.5 L77.8,291.4 L79.1,290.4 L80.4,289.4 L81.6,288.5 L82.9,287.6 L84.1,286.6 L85.4,285.7 L86.8,284.8 L88.2,283.9 L89.6,283.1 L91.1,282.2 L92.7,281.3 L94.3,280.3 L96,279.4 L97.8,278.5 L99.6,277.6 L101.4,276.7 L103.3,275.9 L105.2,275 L107.2,274.2 L109.3,273.4 L111.4,272.7 L113.5,271.9 L115.7,271.1 L117.9,270.4 L120.1,269.8 L122.3,269.1 L124.5,268.5 L126.6,267.9 L128.8,267.4 L131,266.9 L133.2,266.4 L135.5,265.9 L138,265.5 L140.5,265.1 L143.2,264.7 L146.1,264.4 L149.1,264.1 L152.2,263.8 L155.2,263.5 L158.2,263.3 L161.1,263.1 L163.9,263 L166.4,263 L168.8,263 L171.1,263.1 L173.3,263.2 L175.5,263.4 L177.8,263.6 L180.1,263.9 L182.4,264.2 L184.9,264.6 L187.5,265.1 L190.1,265.6 L192.8,266.2 L195.4,266.8 L198,267.4 L200.5,268 L202.8,268.7 L205.1,269.3 L207.3,270 L209.5,270.7 L211.5,271.4 L213.6,272.1 L215.6,272.9 L217.6,273.7 L219.6,274.6 L221.6,275.6 L223.7,276.7 L225.9,277.9 L228,279.1 L230,280.3 L231.8,281.4 L233.3,282.2 L234.4,282.9" fill="none" stroke="#707070" stroke-width="1.1" />
<path d="M48.8,340.7 L48.9,340.3 L48.9,339.8 L49,339.2 L49.1,338.5 L49.2,337.7 L49.3,337 L49.4,336.2 L49.5,335.5 L49.7,334.8 L49.8,334.1 L49.9,333.3 L50.1,332.5 L50.2,331.8 L50.4,331 L50.5,330.3 L50.7,329.6 L50.8,328.9 L51,328.2 L51.1,327.6 L51.3,327 L51.5,326.4 L51.6,325.8 L51.8,325.2 L52,324.7 L52.1,324.2 L52.2,323.8 L52.3,323.4 L52.5,323.1 L52.6,322.7 L52.7,322.4 L52.8,322 L53,321.6 L53.2,321.1 L53.3,320.7 L53.5,320.2 L53.7,319.8 L53.9,319.3 L54.1,318.8 L54.3,318.3 L54.6,317.9 L54.8,317.4 L55,317 L55.2,316.6 L55.4,316.2 L55.6,315.7 L55.9,315.3 L56.2,314.8 L56.5,314.3 L56.9,313.8 L57.2,313.2 L57.6,312.7 L58,312.1 L58.5,311.5 L58.9,310.8 L59.4,310.2 L60,309.5 L60.6,308.8 L61.2,308.1 L61.9,307.3 L62.7,306.5 L63.4,305.7 L64.2,304.9 L64.9,304.1 L65.6,303.4 L66.3,302.6 L66.9,301.9 L67.5,301.2 L68.1,300.5 L68.7,299.7 L69.4,299 L70.2,298.2 L71.1,297.4 L72.1,296.6 L73.2,295.6 L74.4,294.7 L75.6,293.7 L76.9,292.7 L78.1,291.8 L79.3,290.9 L80.4,290 L81.3,289.2 L82.2,288.5 L83.1,287.7 L83.9,287 L84.7,286.4 L85.4,285.7 L86.1,285.2 L86.8,284.7 L87.5,284.3 L87.9,284.1 L88.3,283.9 L88.7,283.8 L89.2,283.6 L89.7,283.4 L90.5,283.1 L91.5,282.6 L92.7,281.9 L94.2,281.2 L95.8,280.3 L97.6,279.3 L99.4,278.3 L101.3,277.3 L103.3,276.4 L105.2,275.5 L107.2,274.7 L109.2,273.9 L111.3,273.1 L113.5,272.3 L115.7,271.6 L117.9,270.9 L120.1,270.2 L122.3,269.6 L124.5,269 L126.6,268.4 L128.8,267.8 L131,267.3 L133.2,266.8 L135.5,266.4 L138,266 L140.5,265.6 L143.2,265.2 L146.1,264.8 L149.1,264.5 L152.2,264.2 L155.2,263.9 L158.2,263.7 L161.1,263.6 L163.9,263.5 L166.4,263.5 L168.8,263.5 L171.1,263.6 L173.3,263.7 L175.5,263.8 L177.8,264.1 L180.1,264.3 L182.4,264.7 L184.9,265.1 L187.5,265.5 L190.1,266 L192.8,266.6 L195.4,267.2 L198,267.8 L200.5,268.5 L202.8,269.1 L205.1,269.8 L207.3,270.4 L209.5,271.1 L211.5,271.8 L213.6,272.6 L215.6,273.4 L217.6,274.2 L219.6,275 L221.6,276 L223.7,277.2 L225.9,278.4 L228,279.6 L230,280.8 L231.8,281.9 L233.3,282.8 L234.4,283.5" fill="none" stroke="#707070" stroke-width="1.1" />
<use href="#sq1.3" x="49.8" y="332"/><use href="#sq1.3" x="50.3" y="328.2"/><use href="#sq1.3" x="51.8" y="324.8"/><use href="#sq1.3" x="53.3" y="320.8"/><use href="#sq1.3" x="54.8" y="317.8"/><use href="#sq1.3" x="56.8" y="314.2"/><use href="#sq1.3" x="59.3" y="311.2"/><use href="#sq1.3" x="60.6" y="308.5"/><use href="#sq1.3" x="65.9" y="303.2"/><use href="#sq1.3" x="71.4" y="296.5"/><use href="#sq1.3" x="79.8" y="288.6"/><use href="#sq1.3" x="86.2" y="280.5"/><use href="#sq1.3" x="105.5" y="274.4"/><use href="#sq1.3" x="122.6" y="268.4"/><use href="#sq1.3" x="141.3" y="264.6"/><use href="#sq1.3" x="164.9" y="261.6"/><use href="#sq1.3" x="184.1" y="263.9"/><use href="#sq1.3" x="203.3" y="268.1"/><use href="#sq1.3" x="221" y="274.2"/>
<use href="#ci1.3" x="49.6" y="333"/><use href="#ci1.3" x="50" y="329"/><use href="#ci1.3" x="51.5" y="325.6"/><use href="#ci1.3" x="53" y="321.6"/><use href="#ci1.3" x="54.5" y="318.6"/><use href="#ci1.3" x="56.5" y="315"/><use href="#ci1.3" x="59" y="312"/><use href="#ci1.3" x="60.3" y="309.3"/><use href="#ci1.3" x="65.6" y="304"/><use href="#ci1.3" x="71.1" y="297.2"/><use href="#ci1.3" x="79.5" y="289.4"/><use href="#ci1.3" x="91.2" y="282.1"/><use href="#ci1.3" x="105.2" y="275.1"/><use href="#ci1.3" x="122.3" y="269.1"/><use href="#ci1.3" x="141" y="265.4"/><use href="#ci1.3" x="163.1" y="263.9"/><use href="#ci1.3" x="184" y="265.4"/><use href="#ci1.3" x="203.3" y="268.7"/><use href="#ci1.3" x="221" y="274.9"/>
<path d="M48.8,340.7 L48.9,340.5 L48.9,340.3 L49,340 L49.1,339.7 L49.2,339.3 L49.3,339 L49.4,338.6 L49.5,338.3 L49.7,338 L49.8,337.7 L50,337.4 L50.2,337.1 L50.4,336.7 L50.6,336.4 L50.8,336.1 L51,335.8 L51.3,335.5 L51.5,335.2 L51.8,334.9 L52.1,334.7 L52.4,334.4 L52.7,334.1 L53.1,333.8 L53.4,333.6 L53.8,333.3 L54.2,333.1 L54.6,332.9 L55,332.6 L55.5,332.4 L56,332.2 L56.5,332 L57.2,331.8 L57.9,331.6 L58.7,331.4 L59.6,331.3 L60.5,331.1 L61.4,330.9 L62.3,330.8 L63.2,330.7 L64,330.6 L64.7,330.6 L65.4,330.6 L66.1,330.6 L66.7,330.6 L67.3,330.6 L67.9,330.7 L68.6,330.7 L69.2,330.8 L69.9,330.8 L70.6,330.9 L71.3,331 L72,331 L72.7,331.1 L73.4,331.2 L74.1,331.3 L74.8,331.4 L75.5,331.6 L76.2,331.7 L76.9,331.8 L77.6,332 L78.3,332.1 L79,332.3 L79.7,332.4 L80.4,332.5 L81,332.7 L81.6,332.9 L82.3,333 L82.9,333.2 L83.5,333.4 L84,333.5 L84.5,333.6 L84.8,333.7" fill="none" stroke="#555555" stroke-width="0.7" />
<use href="#tu1" x="48.8" y="340.7"/><use href="#tu1" x="49.2" y="339.2"/><use href="#tu1" x="49.8" y="337.7"/><use href="#tu1" x="50.7" y="336.3"/><use href="#tu1" x="51.7" y="335.1"/><use href="#tu1" x="52.9" y="334"/><use href="#tu1" x="54.2" y="333.1"/><use href="#tu1" x="55.6" y="332.4"/><use href="#tu1" x="57.1" y="331.8"/><use href="#tu1" x="58.7" y="331.4"/><use href="#tu1" x="60.2" y="331.1"/><use href="#tu1" x="61.8" y="330.9"/><use href="#tu1" x="63.4" y="330.7"/><use href="#tu1" x="65" y="330.6"/><use href="#tu1" x="66.6" y="330.6"/><use href="#tu1" x="68.2" y="330.7"/><use href="#tu1" x="69.8" y="330.8"/><use href="#tu1" x="71.4" y="331"/><use href="#tu1" x="73" y="331.2"/><use href="#tu1" x="74.5" y="331.4"/><use href="#tu1" x="76.1" y="331.7"/><use href="#tu1" x="77.7" y="332"/><use href="#tu1" x="79.3" y="332.3"/><use href="#tu1" x="80.8" y="332.7"/><use href="#tu1" x="82.4" y="333.1"/><use href="#tu1" x="83.9" y="333.5"/>
<path d="M48.8,340.7 L48.9,340.5 L48.9,340.3 L49,340 L49.1,339.7 L49.2,339.3 L49.3,339 L49.4,338.6 L49.5,338.3 L49.7,338 L49.8,337.7 L50,337.4 L50.2,337.1 L50.4,336.7 L50.6,336.4 L50.8,336.1 L51,335.8 L51.3,335.5 L51.5,335.2 L51.8,334.9 L52.1,334.7 L52.4,334.4 L52.7,334.1 L53.1,333.8 L53.4,333.6 L53.8,333.3 L54.2,333.1 L54.6,332.9 L55,332.6 L55.5,332.4 L56,332.2 L56.5,332 L57.2,331.8 L57.9,331.6 L58.7,331.4 L59.6,331.2 L60.5,331 L61.4,330.9 L62.3,330.8 L63.2,330.7 L64,330.6 L64.8,330.6 L65.4,330.7 L66.1,330.8 L66.8,330.9 L67.4,331 L68,331.2 L68.6,331.3 L69.2,331.5 L69.8,331.7 L70.4,331.9 L71,332.1 L71.6,332.3 L72.2,332.5 L72.8,332.8 L73.3,333 L73.9,333.3 L74.4,333.6 L74.9,333.9 L75.4,334.2 L75.9,334.5 L76.3,334.8 L76.8,335.2 L77.2,335.5 L77.6,335.8 L77.9,336.1 L78.3,336.5 L78.6,336.8 L78.9,337.2 L79.2,337.5 L79.4,337.8 L79.6,338 L79.8,338.2" fill="none" stroke="#555555" stroke-width="0.7" />
<use href="#td1" x="48.8" y="340.7"/><use href="#td1" x="49.2" y="339.2"/><use href="#td1" x="49.8" y="337.7"/><use href="#td1" x="50.7" y="336.3"/><use href="#td1" x="51.7" y="335.1"/><use href="#td1" x="52.9" y="334"/><use href="#td1" x="54.2" y="333.1"/><use href="#td1" x="55.6" y="332.4"/><use href="#td1" x="57.1" y="331.8"/><use href="#td1" x="58.7" y="331.4"/><use href="#td1" x="60.2" y="331.1"/><use href="#td1" x="61.8" y="330.8"/><use href="#td1" x="63.4" y="330.7"/><use href="#td1" x="65" y="330.6"/><use href="#td1" x="66.6" y="330.8"/><use href="#td1" x="68.1" y="331.2"/><use href="#td1" x="69.7" y="331.6"/><use href="#td1" x="71.2" y="332.1"/><use href="#td1" x="72.7" y="332.7"/><use href="#td1" x="74.1" y="333.4"/><use href="#td1" x="75.5" y="334.3"/><use href="#td1" x="76.8" y="335.2"/><use href="#td1" x="78" y="336.2"/><use href="#td1" x="79.1" y="337.4"/>
<path d="M48.8,311.1 L85.9,311.1 L85.9,340.7" fill="none" stroke="#ff0000" stroke-width="1.3" stroke-dasharray="4,2.5"/>
<path d="M49.6,311.1 L49.6,340.7" fill="none" stroke="#ff0000" stroke-width="1.3" stroke-dasharray="4,2.5"/>
<path d="M48.8,340.1 L85.9,340.1" fill="none" stroke="#ff0000" stroke-width="1.3" stroke-dasharray="4,2.5"/>
<line x1="55" y1="305.2" x2="71.2" y2="265" stroke="#ff0000" stroke-width="1.4" />
<path d="M73.1,260.4 L73.3,265.9 L69.1,264.2 Z" fill="#ff0000"/>
<text x="187.4" y="260.5" font-size="9" text-anchor="middle" fill="#000" font-family="Liberation Serif" font-weight="bold" >0%</text>
<text x="128.3" y="279.6" font-size="9" text-anchor="middle" fill="#000" font-family="Liberation Serif" font-weight="bold" >0.1%</text>
<use href="#sq1.3" x="197.7" y="202"/>
<text x="209.4" y="205" font-size="9" text-anchor="start" fill="#000" font-family="Liberation Serif" font-weight="bold" >0%</text>
<use href="#ci1.3" x="197.7" y="212.2"/>
<text x="209.4" y="215.2" font-size="9" text-anchor="start" fill="#000" font-family="Liberation Serif" font-weight="bold" >0.1%</text>
<use href="#tu1.3" x="197.7" y="223"/>
<text x="209.4" y="226" font-size="9" text-anchor="start" fill="#000" font-family="Liberation Serif" font-weight="bold" >1%</text>
<use href="#td1.3" x="197.7" y="233.6"/>
<text x="209.4" y="236.6" font-size="9" text-anchor="start" fill="#000" font-family="Liberation Serif" font-weight="bold" >3.5%</text>
<line x1="188.3" y1="243.8" x2="206.8" y2="243.8" stroke="#777" stroke-width="1" />
<text x="209.4" y="246.8" font-size="9" text-anchor="start" fill="#000" font-family="Liberation Serif" font-weight="bold" letter-spacing="-0.3">fitting</text>
<rect x="62.3" y="198" width="67.8" height="51.3" fill="#fff" stroke="#666" stroke-width="0.6"/>
<line x1="62.3" y1="198" x2="130.1" y2="198" stroke="#a8a8a8" stroke-width="1.6"/>
<line x1="62.3" y1="249.3" x2="62.3" y2="247.8" stroke="#666" stroke-width="0.5" />
<text x="62.3" y="253.3" font-size="3.5" text-anchor="middle" font-family="Liberation Serif" fill="#555">0</text>
<line x1="96.2" y1="249.3" x2="96.2" y2="247.8" stroke="#666" stroke-width="0.5" />
<text x="96.2" y="253.3" font-size="3.5" text-anchor="middle" font-family="Liberation Serif" fill="#555">10</text>
<line x1="130.1" y1="249.3" x2="130.1" y2="247.8" stroke="#666" stroke-width="0.5" />
<text x="130.1" y="253.3" font-size="3.5" text-anchor="middle" font-family="Liberation Serif" fill="#555">20</text>
<line x1="62.3" y1="249.3" x2="63.8" y2="249.3" stroke="#666" stroke-width="0.5" />
<text x="60.8" y="250.5" font-size="3.5" text-anchor="end" font-family="Liberation Serif" fill="#555">0</text>
<line x1="62.3" y1="223.7" x2="63.8" y2="223.7" stroke="#666" stroke-width="0.5" />
<text x="60.8" y="224.8" font-size="3.5" text-anchor="end" font-family="Liberation Serif" fill="#555">10</text>
<line x1="62.3" y1="198" x2="63.8" y2="198" stroke="#666" stroke-width="0.5" />
<text x="60.8" y="199.2" font-size="3.5" text-anchor="end" font-family="Liberation Serif" fill="#555">20</text>
<path d="M62.3,249.3 L62.4,248.8 L62.5,248.2 L62.6,247.4 L62.7,246.5 L62.8,245.6 L63,244.7 L63.2,243.8 L63.3,242.9 L63.5,242 L63.7,241.2 L63.9,240.3 L64.1,239.5 L64.3,238.6 L64.5,237.7 L64.8,236.8 L65,236 L65.3,235.1 L65.5,234.2 L65.8,233.3 L66.1,232.4 L66.4,231.5 L66.7,230.6 L67,229.7 L67.4,228.8 L67.8,227.8 L68.2,226.9 L68.6,226 L69.1,225 L69.6,224 L70,223.1 L70.5,222.1 L71,221.1 L71.4,220.1 L71.9,219 L72.4,218 L72.9,216.9 L73.4,215.9 L73.9,214.9 L74.3,213.8 L74.8,212.9 L75.3,212 L75.8,211.1 L76.4,210.2 L76.9,209.4 L77.4,208.5 L77.9,207.7 L78.4,206.8 L78.9,206 L79.4,205 L80,204 L80.6,202.9 L81.2,201.9 L81.7,200.9 L82.2,199.9 L82.6,199.1 L83,198.5 L83.2,198.1" fill="none" stroke="#555555" stroke-width="0.5" />
<circle cx="62.3" cy="249.3" r="1.0" fill="#4a72bc"/><circle cx="62.9" cy="245.1" r="1.0" fill="#4a72bc"/><circle cx="63.7" cy="241" r="1.0" fill="#4a72bc"/><circle cx="64.7" cy="236.9" r="1.0" fill="#4a72bc"/><circle cx="65.9" cy="232.9" r="1.0" fill="#4a72bc"/><circle cx="67.3" cy="229" r="1.0" fill="#4a72bc"/><circle cx="69" cy="225.1" r="1.0" fill="#4a72bc"/><circle cx="70.9" cy="221.3" r="1.0" fill="#4a72bc"/><circle cx="72.6" cy="217.5" r="1.0" fill="#4a72bc"/><circle cx="74.4" cy="213.7" r="1.0" fill="#4a72bc"/><circle cx="76.4" cy="210.1" r="1.0" fill="#4a72bc"/><circle cx="78.6" cy="206.5" r="1.0" fill="#4a72bc"/><circle cx="80.7" cy="202.8" r="1.0" fill="#4a72bc"/><circle cx="82.7" cy="199.1" r="1.0" fill="#4a72bc"/>
<path d="M62.3,249.3 L62.4,249 L62.5,248.6 L62.6,248.1 L62.8,247.5 L63,246.9 L63.2,246.3 L63.4,245.7 L63.7,245.2 L63.9,244.7 L64.2,244.1 L64.5,243.6 L64.8,243 L65.2,242.4 L65.5,241.9 L65.9,241.4 L66.4,240.8 L66.8,240.3 L67.3,239.8 L67.8,239.3 L68.3,238.8 L68.9,238.4 L69.5,237.9 L70.1,237.4 L70.8,237 L71.5,236.6 L72.2,236.1 L72.9,235.7 L73.7,235.3 L74.5,235 L75.4,234.6 L76.4,234.2 L77.6,233.9 L78.9,233.6 L80.4,233.3 L82,233 L83.7,232.7 L85.4,232.4 L87,232.2 L88.6,232 L90.1,231.9 L91.4,231.8 L92.7,231.7 L93.9,231.7 L95,231.8 L96.1,231.9 L97.2,231.9 L98.4,232 L99.6,232.1 L100.8,232.2 L102.1,232.3 L103.4,232.4 L104.6,232.6 L105.9,232.7 L107.2,232.9 L108.5,233.1 L109.8,233.3 L111,233.5 L112.4,233.7 L113.7,233.9 L115,234.2 L116.3,234.4 L117.5,234.7 L118.8,234.9 L119.9,235.2 L121.1,235.5 L122.3,235.7 L123.5,236 L124.6,236.3 L125.7,236.6 L126.7,236.9 L127.5,237.1 L128.1,237.2" fill="none" stroke="#555555" stroke-width="0.5" />
<use href="#tu0.8" x="62.3" y="249.3"/><use href="#tu0.8" x="63" y="246.8"/><use href="#tu0.8" x="64" y="244.4"/><use href="#tu0.8" x="65.4" y="242.2"/><use href="#tu0.8" x="67" y="240.2"/><use href="#tu0.8" x="68.9" y="238.4"/><use href="#tu0.8" x="71" y="236.9"/><use href="#tu0.8" x="73.2" y="235.6"/><use href="#tu0.8" x="75.6" y="234.5"/><use href="#tu0.8" x="78.1" y="233.8"/><use href="#tu0.8" x="80.6" y="233.2"/><use href="#tu0.8" x="83.2" y="232.8"/><use href="#tu0.8" x="85.8" y="232.4"/><use href="#tu0.8" x="88.4" y="232"/><use href="#tu0.8" x="90.9" y="231.8"/><use href="#tu0.8" x="93.5" y="231.7"/><use href="#tu0.8" x="96.1" y="231.9"/><use href="#tu0.8" x="98.7" y="232"/><use href="#tu0.8" x="101.3" y="232.3"/><use href="#tu0.8" x="103.9" y="232.5"/><use href="#tu0.8" x="106.5" y="232.8"/><use href="#tu0.8" x="109.1" y="233.2"/><use href="#tu0.8" x="111.6" y="233.6"/><use href="#tu0.8" x="114.2" y="234"/><use href="#tu0.8" x="116.7" y="234.5"/><use href="#tu0.8" x="119.3" y="235.1"/><use href="#tu0.8" x="121.8" y="235.6"/><use href="#tu0.8" x="124.4" y="236.3"/><use href="#tu0.8" x="126.9" y="236.9"/>
<path d="M62.3,249.3 L62.4,249 L62.5,248.6 L62.6,248.1 L62.8,247.5 L63,246.9 L63.2,246.3 L63.4,245.7 L63.7,245.2 L63.9,244.7 L64.2,244.1 L64.5,243.6 L64.8,243 L65.2,242.4 L65.5,241.9 L65.9,241.4 L66.4,240.8 L66.8,240.3 L67.3,239.8 L67.8,239.3 L68.3,238.8 L68.9,238.4 L69.5,237.9 L70.1,237.4 L70.8,237 L71.5,236.6 L72.2,236.1 L72.9,235.7 L73.7,235.3 L74.5,235 L75.4,234.6 L76.4,234.2 L77.6,233.9 L78.9,233.6 L80.4,233.2 L82,232.9 L83.7,232.6 L85.4,232.3 L87,232.1 L88.6,231.9 L90.1,231.9 L91.4,231.9 L92.7,232 L93.9,232.1 L95.1,232.3 L96.2,232.5 L97.4,232.8 L98.5,233.1 L99.6,233.4 L100.7,233.7 L101.8,234 L102.9,234.4 L104,234.8 L105.1,235.2 L106.1,235.6 L107.1,236 L108.1,236.5 L109,237 L109.9,237.5 L110.9,238 L111.7,238.6 L112.6,239.2 L113.4,239.7 L114.1,240.3 L114.8,240.8 L115.5,241.4 L116.1,242 L116.7,242.6 L117.3,243.2 L117.8,243.7 L118.2,244.2 L118.6,244.6 L118.9,244.9" fill="none" stroke="#555555" stroke-width="0.5" />
<use href="#td0.8" x="62.3" y="249.3"/><use href="#td0.8" x="63" y="246.8"/><use href="#td0.8" x="64" y="244.4"/><use href="#td0.8" x="65.4" y="242.2"/><use href="#td0.8" x="67" y="240.2"/><use href="#td0.8" x="68.9" y="238.4"/><use href="#td0.8" x="71" y="236.9"/><use href="#td0.8" x="73.2" y="235.6"/><use href="#td0.8" x="75.6" y="234.5"/><use href="#td0.8" x="78.1" y="233.8"/><use href="#td0.8" x="80.6" y="233.2"/><use href="#td0.8" x="83.2" y="232.7"/><use href="#td0.8" x="85.8" y="232.3"/><use href="#td0.8" x="88.3" y="232"/><use href="#td0.8" x="90.9" y="231.9"/><use href="#td0.8" x="93.5" y="232.1"/><use href="#td0.8" x="96.1" y="232.5"/><use href="#td0.8" x="98.6" y="233.1"/><use href="#td0.8" x="101.1" y="233.8"/><use href="#td0.8" x="103.6" y="234.6"/><use href="#td0.8" x="106" y="235.5"/><use href="#td0.8" x="108.4" y="236.6"/><use href="#td0.8" x="110.6" y="237.9"/><use href="#td0.8" x="112.8" y="239.3"/><use href="#td0.8" x="114.9" y="240.9"/><use href="#td0.8" x="116.8" y="242.6"/><use href="#td0.8" x="118.6" y="244.6"/>
<rect x="113.6" y="202.1" width="1.6" height="1.6" fill="#1a1a8a"/>
<text x="117.8" y="204.1" font-size="3.6" font-family="Liberation Serif" font-weight="bold" fill="#333">0%</text>
<rect x="113.6" y="205.4" width="1.6" height="1.6" fill="#23958f"/>
<text x="117.8" y="207.4" font-size="3.6" font-family="Liberation Serif" font-weight="bold" fill="#333">0.1%</text>
<rect x="113.6" y="209" width="1.6" height="1.6" fill="#f0aa00"/>
<text x="117.8" y="211" font-size="3.6" font-family="Liberation Serif" font-weight="bold" fill="#333">1%</text>
<rect x="113.6" y="212.6" width="1.6" height="1.6" fill="#4d1478"/>
<text x="117.8" y="214.6" font-size="3.6" font-family="Liberation Serif" font-weight="bold" fill="#333">3.5%</text>
<line x1="109.5" y1="217.2" x2="116.5" y2="217.2" stroke="#888" stroke-width="0.5" />
<text x="117.8" y="218.4" font-size="3.6" font-family="Liberation Serif" font-weight="bold" fill="#333">fitting</text>
<text x="115.3" y="231.5" font-size="9.5" text-anchor="middle" fill="#000" font-family="Liberation Serif" font-weight="bold" >1%</text>
<text x="104.2" y="248" font-size="9.5" text-anchor="middle" fill="#000" font-family="Liberation Serif" font-weight="bold" >3.5%</text>
<text x="96" y="257.8" font-size="4" text-anchor="middle" font-family="Liberation Serif" fill="#444">Z<tspan font-size="2.6" dy="1">re</tspan><tspan dy="-1">(kΩ·cm</tspan><tspan font-size="2.6" dy="-1.5">-2</tspan><tspan dy="1.5">)</tspan></text>
<text transform="translate(57.5,227) rotate(-90)" font-size="4" text-anchor="middle" font-family="Liberation Serif" fill="#444">Z<tspan font-size="2.6" dy="1">im</tspan><tspan dy="-1">(kΩ·cm</tspan><tspan font-size="2.6" dy="-1.5">-2</tspan><tspan dy="1.5">)</tspan></text>
<text transform="translate(28,266) rotate(-90)" x="0" y="0" font-size="12.5" text-anchor="middle" font-family="Liberation Serif" font-weight="bold">-Z<tspan font-size="6.9" dy="2.8">im</tspan><tspan dy="-2.8">(kΩ·cm</tspan><tspan font-size="5.6" dy="-4.8">-2</tspan><tspan dy="4.8">)</tspan></text>
<text x="141" y="363.5" font-size="12.5" text-anchor="middle" font-family="Liberation Serif" font-weight="bold">Z<tspan font-size="6.9" dy="2.8">re</tspan><tspan dy="-2.8">(kΩ·cm</tspan><tspan font-size="5.6" dy="-4.8">-2</tspan><tspan dy="4.8">)</tspan></text>
<text x="6" y="194.8" font-size="15" font-family="Liberation Serif" font-weight="bold">(b<tspan font-size="8" dy="2.9" dx="0.6">1</tspan><tspan dy="-2.9" dx="0.3">)</tspan></text>
<path d="M234.5,369.6 L48.5,369.6 L48.5,518.6 L234.5,518.6" fill="none" stroke="#000" stroke-width="1.4"/>
<line x1="234.5" y1="368.9" x2="234.5" y2="519.3" stroke="#000" stroke-width="1.4" />
<line x1="48.5" y1="518.6" x2="48.5" y2="515.6" stroke="#000" stroke-width="1" />
<text x="48.5" y="528.9" font-size="9" text-anchor="middle" fill="#000" font-family="Liberation Serif" font-weight="bold" >0</text>
<line x1="79.5" y1="518.6" x2="79.5" y2="515.6" stroke="#000" stroke-width="1" />
<text x="79.5" y="528.9" font-size="9" text-anchor="middle" fill="#000" font-family="Liberation Serif" font-weight="bold" >20</text>
<line x1="110.5" y1="518.6" x2="110.5" y2="515.6" stroke="#000" stroke-width="1" />
<text x="110.5" y="528.9" font-size="9" text-anchor="middle" fill="#000" font-family="Liberation Serif" font-weight="bold" >40</text>
<line x1="141.5" y1="518.6" x2="141.5" y2="515.6" stroke="#000" stroke-width="1" />
<text x="141.5" y="528.9" font-size="9" text-anchor="middle" fill="#000" font-family="Liberation Serif" font-weight="bold" >60</text>
<line x1="172.5" y1="518.6" x2="172.5" y2="515.6" stroke="#000" stroke-width="1" />
<text x="172.5" y="528.9" font-size="9" text-anchor="middle" fill="#000" font-family="Liberation Serif" font-weight="bold" >80</text>
<line x1="203.5" y1="518.6" x2="203.5" y2="515.6" stroke="#000" stroke-width="1" />
<text x="203.5" y="528.9" font-size="9" text-anchor="middle" fill="#000" font-family="Liberation Serif" font-weight="bold" >100</text>
<line x1="234.5" y1="518.6" x2="234.5" y2="515.6" stroke="#000" stroke-width="1" />
<text x="234.5" y="528.9" font-size="9" text-anchor="middle" fill="#000" font-family="Liberation Serif" font-weight="bold" >120</text>
<line x1="64" y1="518.6" x2="64" y2="517" stroke="#000" stroke-width="1" />
<line x1="95" y1="518.6" x2="95" y2="517" stroke="#000" stroke-width="1" />
<line x1="126" y1="518.6" x2="126" y2="517" stroke="#000" stroke-width="1" />
<line x1="157" y1="518.6" x2="157" y2="517" stroke="#000" stroke-width="1" />
<line x1="188" y1="518.6" x2="188" y2="517" stroke="#000" stroke-width="1" />
<line x1="219" y1="518.6" x2="219" y2="517" stroke="#000" stroke-width="1" />
<line x1="48.5" y1="518.6" x2="51.5" y2="518.6" stroke="#000" stroke-width="1" />
<text x="45.3" y="521.6" font-size="9" text-anchor="end" fill="#000" font-family="Liberation Serif" font-weight="bold" >0</text>
<line x1="48.5" y1="493.8" x2="51.5" y2="493.8" stroke="#000" stroke-width="1" />
<text x="45.3" y="496.7" font-size="9" text-anchor="end" fill="#000" font-family="Liberation Serif" font-weight="bold" >20</text>
<line x1="48.5" y1="468.9" x2="51.5" y2="468.9" stroke="#000" stroke-width="1" />
<text x="45.3" y="471.9" font-size="9" text-anchor="end" fill="#000" font-family="Liberation Serif" font-weight="bold" >40</text>
<line x1="48.5" y1="444.1" x2="51.5" y2="444.1" stroke="#000" stroke-width="1" />
<text x="45.3" y="447.1" font-size="9" text-anchor="end" fill="#000" font-family="Liberation Serif" font-weight="bold" >60</text>
<line x1="48.5" y1="419.3" x2="51.5" y2="419.3" stroke="#000" stroke-width="1" />
<text x="45.3" y="422.2" font-size="9" text-anchor="end" fill="#000" font-family="Liberation Serif" font-weight="bold" >80</text>
<line x1="48.5" y1="394.4" x2="51.5" y2="394.4" stroke="#000" stroke-width="1" />
<text x="45.3" y="397.4" font-size="9" text-anchor="end" fill="#000" font-family="Liberation Serif" font-weight="bold" >100</text>
<line x1="48.5" y1="369.6" x2="51.5" y2="369.6" stroke="#000" stroke-width="1" />
<text x="45.3" y="372.6" font-size="9" text-anchor="end" fill="#000" font-family="Liberation Serif" font-weight="bold" >120</text>
<line x1="48.5" y1="506.2" x2="50.1" y2="506.2" stroke="#000" stroke-width="1" />
<line x1="48.5" y1="481.4" x2="50.1" y2="481.4" stroke="#000" stroke-width="1" />
<line x1="48.5" y1="456.5" x2="50.1" y2="456.5" stroke="#000" stroke-width="1" />
<line x1="48.5" y1="431.7" x2="50.1" y2="431.7" stroke="#000" stroke-width="1" />
<line x1="48.5" y1="406.9" x2="50.1" y2="406.9" stroke="#000" stroke-width="1" />
<line x1="48.5" y1="382" x2="50.1" y2="382" stroke="#000" stroke-width="1" />
<path d="M48.5,518.6 L48.6,518.2 L48.8,517.6 L49,516.9 L49.2,516.2 L49.4,515.4 L49.6,514.5 L49.8,513.7 L50,513 L50.3,512.3 L50.5,511.7 L50.7,511 L50.9,510.3 L51.1,509.7 L51.4,509 L51.6,508.2 L51.9,507.4 L52.2,506.6 L52.5,505.7 L52.9,504.9 L53.2,504 L53.6,503 L54,502 L54.5,501 L55,500 L55.6,498.8 L56.3,497.6 L57.1,496.3 L57.9,495 L58.8,493.7 L59.6,492.5 L60.3,491.3 L61.1,490.3 L61.7,489.4 L62.3,488.6 L62.9,487.9 L63.4,487.3 L64,486.7 L64.5,486 L65.1,485.4 L65.7,484.7 L66.3,484 L67,483.2 L67.6,482.4 L68.2,481.7 L68.9,480.9 L69.6,480.1 L70.4,479.3 L71.1,478.5 L71.9,477.7 L72.8,476.8 L73.7,476 L74.6,475.1 L75.5,474.3 L76.5,473.4 L77.5,472.5 L78.6,471.7 L79.7,470.8 L80.8,469.9 L81.9,469.1 L83.1,468.2 L84.3,467.3 L85.6,466.4 L86.9,465.6 L88.2,464.7 L89.5,463.9 L90.8,463 L92.2,462.2 L93.5,461.4 L95,460.5 L96.5,459.7 L98.1,458.8 L99.8,457.9 L101.7,456.9 L103.7,455.8 L105.9,454.8 L108.1,453.6 L110.3,452.6 L112.6,451.5 L114.7,450.5 L116.9,449.7 L118.9,448.9 L120.8,448.3 L122.7,447.6 L124.7,447.1 L126.6,446.6 L128.5,446.1 L130.6,445.6 L132.7,445.1 L134.9,444.6 L137.1,444.1 L139.4,443.6 L141.7,443.2 L144.1,442.7 L146.5,442.3 L149,442 L151.4,441.7 L153.9,441.5 L156.4,441.3 L159,441.2 L161.5,441.1 L164.1,441.1 L166.7,441.1 L169.4,441.1 L172,441.2 L174.7,441.4 L177.5,441.6 L180.2,441.8 L183,442.1 L185.8,442.4 L188.6,442.8 L191.3,443.3 L194,443.9 L196.9,444.5 L199.9,445.4 L203,446.4 L206,447.4 L208.9,448.4 L211.5,449.4 L213.6,450.1 L215.3,450.7" fill="none" stroke="#555555" stroke-width="0.9" />
<path d="M48.5,518.6 L48.6,518.2 L48.8,517.6 L49,516.9 L49.3,516.1 L49.5,515.3 L49.8,514.5 L50.1,513.7 L50.4,513 L50.7,512.3 L51,511.7 L51.3,511 L51.7,510.3 L52,509.7 L52.4,509 L52.8,508.3 L53.1,507.7 L53.5,507 L54,506.4 L54.4,505.7 L54.8,505 L55.3,504.4 L55.7,503.7 L56.1,503.1 L56.6,502.5 L57,501.8 L57.4,501.2 L57.8,500.6 L58.2,500 L58.6,499.4 L59.1,498.8 L59.5,498.1 L60,497.5 L60.4,496.8 L60.9,496.1 L61.4,495.4 L61.9,494.7 L62.5,494 L63,493.3 L63.5,492.6 L64,491.9 L64.5,491.2 L65,490.5 L65.5,489.8 L65.9,489.1 L66.4,488.4 L66.9,487.7 L67.5,487 L68,486.3 L68.6,485.6 L69.3,484.9 L69.9,484.1 L70.6,483.4 L71.3,482.7 L72,482 L72.7,481.3 L73.3,480.7 L73.9,480.2 L74.4,479.7 L74.9,479.3 L75.5,478.9 L76,478.5 L76.6,478.1 L77.3,477.7 L78.1,477.3 L79,476.8 L80,476.3 L81.1,475.8 L82.2,475.4 L83.4,474.9 L84.6,474.4 L85.9,473.9 L87.2,473.4 L88.7,472.9 L90.2,472.4 L91.7,471.9 L93.3,471.4 L95,470.9 L96.6,470.4 L98.3,470 L100,469.6 L101.6,469.2 L103.3,468.8 L105,468.4 L106.7,468.1 L108.4,467.8 L110.1,467.5 L111.9,467.2 L113.6,466.9 L115.4,466.7 L117.2,466.5 L119,466.4 L120.8,466.3 L122.6,466.1 L124.5,466.1 L126.3,466 L128,466 L129.7,465.9 L131.4,465.9 L133.1,466 L134.7,466 L136.4,466.1 L138.1,466.2 L139.8,466.3 L141.5,466.5 L143.3,466.6 L145.1,466.7 L147,466.9 L148.9,467.1 L150.8,467.3 L152.6,467.5 L154.5,467.8 L156.2,468.1 L157.9,468.4 L159.6,468.7 L161.2,469.1 L162.8,469.5 L164.4,470 L166,470.5 L167.7,471 L169.4,471.5 L171.3,472.2 L173.3,473 L175.5,473.8 L177.7,474.7 L179.7,475.5 L181.6,476.3 L183.1,476.9 L184.3,477.4" fill="none" stroke="#555555" stroke-width="0.9" />
<use href="#ci1.7" x="49.6" y="512"/><use href="#ci1.7" x="50.4" y="509.7"/><use href="#ci1.7" x="51.6" y="507.3"/><use href="#ci1.7" x="53.6" y="504"/><use href="#ci1.7" x="56" y="501.6"/><use href="#ci1.7" x="58.5" y="498.8"/><use href="#ci1.7" x="61.3" y="496"/><use href="#ci1.7" x="65.3" y="492.8"/><use href="#ci1.7" x="70.9" y="489.2"/><use href="#ci1.7" x="77.7" y="485.6"/><use href="#ci1.7" x="99.8" y="467.7"/><use href="#ci1.7" x="112.3" y="466.7"/><use href="#ci1.7" x="123.9" y="466.1"/><use href="#ci1.7" x="137.4" y="466.7"/><use href="#ci1.7" x="151.6" y="467.5"/><use href="#ci1.7" x="169.1" y="469.7"/><use href="#ci1.7" x="184.1" y="473.5"/>
<use href="#sq1.6" x="50.4" y="506.5"/><use href="#sq1.6" x="51.6" y="503.3"/><use href="#sq1.6" x="53.2" y="500"/><use href="#sq1.6" x="55.2" y="497.2"/><use href="#sq1.6" x="57.7" y="494"/><use href="#sq1.6" x="60.5" y="489.6"/><use href="#sq1.6" x="63.5" y="484.4"/><use href="#sq1.6" x="67.5" y="479.5"/><use href="#sq1.6" x="71.1" y="477.6"/><use href="#sq1.6" x="78.5" y="471.1"/><use href="#sq1.6" x="88.2" y="464.1"/><use href="#sq1.6" x="99.8" y="457.1"/><use href="#sq1.6" x="116.9" y="448.6"/><use href="#sq1.6" x="132.7" y="445.4"/><use href="#sq1.6" x="151.4" y="441.4"/><use href="#sq1.6" x="172" y="441"/><use href="#sq1.6" x="194.1" y="442.1"/><use href="#sq1.6" x="215" y="444.7"/>
<use href="#tu1.2" x="48.5" y="518.6"/><use href="#tu1.2" x="49" y="517.5"/><use href="#tu1.2" x="50" y="516.8"/><use href="#tu1.2" x="51" y="516.2"/><use href="#tu1.2" x="52.2" y="515.9"/><use href="#tu1.2" x="53.4" y="515.7"/><use href="#tu1.2" x="54.6" y="515.6"/><use href="#tu1.2" x="55.7" y="515.7"/><use href="#tu1.2" x="56.9" y="516"/><use href="#tu1.2" x="58" y="516.5"/>
<use href="#td1.2" x="48.5" y="518.6"/><use href="#td1.2" x="49" y="517.5"/><use href="#td1.2" x="50" y="516.8"/><use href="#td1.2" x="51" y="516.2"/><use href="#td1.2" x="52.2" y="515.8"/><use href="#td1.2" x="53.3" y="515.6"/><use href="#td1.2" x="54.5" y="515.7"/><use href="#td1.2" x="55.3" y="516.6"/><use href="#td1.2" x="56.3" y="517.3"/><use href="#td1.2" x="57.3" y="517.9"/>
<path d="M48.5,506.2 L64,506.2 L64,518.6" fill="none" stroke="#ff0000" stroke-width="1.3" stroke-dasharray="4,2.5"/>
<path d="M49.3,506.2 L49.3,518.6" fill="none" stroke="#ff0000" stroke-width="1.3" stroke-dasharray="4,2.5"/>
<path d="M48.5,518 L64,518" fill="none" stroke="#ff0000" stroke-width="1.3" stroke-dasharray="4,2.5"/>
<line x1="50" y1="503.3" x2="70.1" y2="458.7" stroke="#ff0000" stroke-width="1.4" />
<path d="M72.1,454.1 L72.1,459.6 L68,457.7 Z" fill="#ff0000"/>
<text x="222" y="453.8" font-size="9" text-anchor="middle" fill="#000" font-family="Liberation Serif" font-weight="bold" >0%</text>
<text x="196.3" y="485.6" font-size="9" text-anchor="middle" fill="#000" font-family="Liberation Serif" font-weight="bold" >0.1%</text>
<use href="#sq1.8" x="195.3" y="381"/>
<text x="205.8" y="384" font-size="9" text-anchor="start" fill="#000" font-family="Liberation Serif" font-weight="bold" >0%</text>
<use href="#ci1.8" x="195.3" y="390.8"/>
<text x="205.8" y="393.8" font-size="9" text-anchor="start" fill="#000" font-family="Liberation Serif" font-weight="bold" >0.1%</text>
<use href="#tu1.8" x="195.3" y="400.6"/>
<text x="205.8" y="403.6" font-size="9" text-anchor="start" fill="#000" font-family="Liberation Serif" font-weight="bold" >1%</text>
<use href="#td1.8" x="195.3" y="410.5"/>
<text x="205.8" y="413.5" font-size="9" text-anchor="start" fill="#000" font-family="Liberation Serif" font-weight="bold" >3.5%</text>
<line x1="186.9" y1="419.9" x2="203" y2="419.9" stroke="#777" stroke-width="1" />
<text x="205.8" y="422.9" font-size="9" text-anchor="start" fill="#000" font-family="Liberation Serif" font-weight="bold" letter-spacing="-0.3">fitting</text>
<rect x="59.3" y="375.6" width="74.5" height="58.1" fill="#fff" stroke="#666" stroke-width="0.6"/>
<line x1="59.3" y1="375.6" x2="133.8" y2="375.6" stroke="#a8a8a8" stroke-width="1.6"/>
<line x1="59.3" y1="433.7" x2="59.3" y2="432.2" stroke="#666" stroke-width="0.5" />
<text x="59.3" y="437.7" font-size="3.5" text-anchor="middle" font-family="Liberation Serif" fill="#555">0</text>
<line x1="74.2" y1="433.7" x2="74.2" y2="432.2" stroke="#666" stroke-width="0.5" />
<text x="74.2" y="437.7" font-size="3.5" text-anchor="middle" font-family="Liberation Serif" fill="#555">2</text>
<line x1="89.1" y1="433.7" x2="89.1" y2="432.2" stroke="#666" stroke-width="0.5" />
<text x="89.1" y="437.7" font-size="3.5" text-anchor="middle" font-family="Liberation Serif" fill="#555">4</text>
<line x1="104" y1="433.7" x2="104" y2="432.2" stroke="#666" stroke-width="0.5" />
<text x="104" y="437.7" font-size="3.5" text-anchor="middle" font-family="Liberation Serif" fill="#555">6</text>
<line x1="118.9" y1="433.7" x2="118.9" y2="432.2" stroke="#666" stroke-width="0.5" />
<text x="118.9" y="437.7" font-size="3.5" text-anchor="middle" font-family="Liberation Serif" fill="#555">8</text>
<line x1="133.8" y1="433.7" x2="133.8" y2="432.2" stroke="#666" stroke-width="0.5" />
<text x="133.8" y="437.7" font-size="3.5" text-anchor="middle" font-family="Liberation Serif" fill="#555">10</text>
<line x1="59.3" y1="433.7" x2="60.8" y2="433.7" stroke="#666" stroke-width="0.5" />
<text x="57.8" y="434.9" font-size="3.5" text-anchor="end" font-family="Liberation Serif" fill="#555">0</text>
<line x1="59.3" y1="422.1" x2="60.8" y2="422.1" stroke="#666" stroke-width="0.5" />
<text x="57.8" y="423.3" font-size="3.5" text-anchor="end" font-family="Liberation Serif" fill="#555">2</text>
<line x1="59.3" y1="410.5" x2="60.8" y2="410.5" stroke="#666" stroke-width="0.5" />
<text x="57.8" y="411.7" font-size="3.5" text-anchor="end" font-family="Liberation Serif" fill="#555">4</text>
<line x1="59.3" y1="398.8" x2="60.8" y2="398.8" stroke="#666" stroke-width="0.5" />
<text x="57.8" y="400" font-size="3.5" text-anchor="end" font-family="Liberation Serif" fill="#555">6</text>
<line x1="59.3" y1="387.2" x2="60.8" y2="387.2" stroke="#666" stroke-width="0.5" />
<text x="57.8" y="388.4" font-size="3.5" text-anchor="end" font-family="Liberation Serif" fill="#555">8</text>
<line x1="59.3" y1="375.6" x2="60.8" y2="375.6" stroke="#666" stroke-width="0.5" />
<text x="57.8" y="376.8" font-size="3.5" text-anchor="end" font-family="Liberation Serif" fill="#555">10</text>
<path d="M59.3,433.7 L59.5,432.8 L59.8,431.7 L60.1,430.4 L60.4,428.8 L60.8,427.3 L61.2,425.7 L61.6,424.1 L61.9,422.7 L62.2,421.3 L62.6,420 L62.9,418.6 L63.2,417.3 L63.6,415.9 L63.9,414.6 L64.2,413.3 L64.6,412 L64.9,410.8 L65.3,409.5 L65.7,408.3 L66,407.1 L66.4,405.9 L66.8,404.7 L67.1,403.5 L67.5,402.3 L67.9,401.1 L68.2,400 L68.5,398.8 L68.9,397.6 L69.2,396.5 L69.6,395.3 L70,394.2 L70.3,393 L70.7,391.9 L71.1,390.8 L71.5,389.7 L71.9,388.6 L72.3,387.6 L72.7,386.5 L73.1,385.4 L73.5,384.3 L73.9,383.2 L74.3,381.9 L74.8,380.7 L75.3,379.4 L75.7,378.2 L76.1,377.2 L76.5,376.3 L76.7,375.6" fill="none" stroke="#555555" stroke-width="0.5" />
<path d="M68.2,400.6 L68.4,400.2 L68.5,399.8 L68.7,399.2 L68.9,398.6 L69.1,398 L69.3,397.4 L69.6,396.7 L69.9,396.1 L70.2,395.5 L70.6,394.9 L70.9,394.3 L71.3,393.7 L71.8,393.1 L72.2,392.5 L72.6,391.9 L73.1,391.3 L73.6,390.7 L74,390.1 L74.6,389.6 L75.1,389 L75.6,388.4 L76.1,387.8 L76.6,387.2 L77.1,386.6 L77.5,386 L78,385.4 L78.4,384.7 L78.8,384.1 L79.1,383.4 L79.5,382.8 L79.9,382.1 L80.3,381.4 L80.7,380.7 L81.2,379.9 L81.7,379 L82.1,378.2 L82.5,377.4 L82.9,376.7 L83.3,376.1 L83.5,375.6" fill="none" stroke="#555555" stroke-width="0.5" />
<circle cx="60.4" cy="429.6" r="1.1" fill="#3f6fc0"/><circle cx="61.8" cy="425" r="1.1" fill="#3f6fc0"/><circle cx="63.4" cy="417.4" r="1.1" fill="#3f6fc0"/><circle cx="64.6" cy="411.4" r="1.1" fill="#3f6fc0"/><circle cx="65.8" cy="406.7" r="1.1" fill="#3f6fc0"/><circle cx="68.2" cy="400.6" r="1.1" fill="#3f6fc0"/><circle cx="70.3" cy="393" r="1.1" fill="#3f6fc0"/><circle cx="73.9" cy="383.5" r="1.1" fill="#3f6fc0"/><circle cx="77.9" cy="378.5" r="1.1" fill="#3f6fc0"/>
<circle cx="61.2" cy="427.9" r="1.1" fill="#3fb0b8"/><circle cx="62.7" cy="422.1" r="1.1" fill="#3fb0b8"/><circle cx="64.1" cy="416.3" r="1.1" fill="#3fb0b8"/><circle cx="66" cy="409.3" r="1.1" fill="#3fb0b8"/><circle cx="67.9" cy="403.5" r="1.1" fill="#3fb0b8"/><circle cx="69.5" cy="400.6" r="1.1" fill="#3fb0b8"/>
<path d="M59.3,433.7 L59.4,433.4 L59.6,433 L59.8,432.4 L60,431.9 L60.2,431.3 L60.5,430.7 L60.8,430.1 L61.2,429.6 L61.5,429.2 L62,428.7 L62.4,428.3 L62.9,427.9 L63.4,427.5 L64,427 L64.6,426.6 L65.3,426.1 L66,425.7 L66.8,425.1 L67.7,424.6 L68.6,424 L69.5,423.5 L70.5,422.9 L71.4,422.5 L72.4,422.1 L73.4,421.7 L74.4,421.5 L75.5,421.2 L76.6,421 L77.7,420.8 L78.8,420.6 L79.8,420.5 L80.9,420.3 L82,420.2 L83,420.1 L84.1,419.9 L85.2,419.8 L86.2,419.8 L87.3,419.7 L88.3,419.7 L89.4,419.8 L90.5,419.8 L91.6,419.9 L92.7,420.1 L93.8,420.3 L94.8,420.5 L95.9,420.7 L96.9,421 L97.9,421.2 L98.8,421.5 L99.7,421.8 L100.6,422.1 L101.5,422.4 L102.3,422.7 L103.1,423.1 L103.8,423.4 L104.5,423.8 L105.2,424.2 L105.9,424.7 L106.5,425.2 L107.1,425.7 L107.6,426.2 L108.1,426.7 L108.5,427 L108.8,427.3" fill="none" stroke="#555555" stroke-width="0.5" />
<use href="#tu0.8" x="59.3" y="433.7"/><use href="#tu0.8" x="60.2" y="431.3"/><use href="#tu0.8" x="61.6" y="429.1"/><use href="#tu0.8" x="63.6" y="427.4"/><use href="#tu0.8" x="65.7" y="425.9"/><use href="#tu0.8" x="67.9" y="424.4"/><use href="#tu0.8" x="70.1" y="423.1"/><use href="#tu0.8" x="72.5" y="422.1"/><use href="#tu0.8" x="75" y="421.3"/><use href="#tu0.8" x="77.5" y="420.8"/><use href="#tu0.8" x="80.1" y="420.4"/><use href="#tu0.8" x="82.7" y="420.1"/><use href="#tu0.8" x="85.2" y="419.8"/><use href="#tu0.8" x="87.8" y="419.7"/><use href="#tu0.8" x="90.4" y="419.8"/><use href="#tu0.8" x="93" y="420.2"/><use href="#tu0.8" x="95.6" y="420.6"/><use href="#tu0.8" x="98.1" y="421.3"/><use href="#tu0.8" x="100.6" y="422.1"/><use href="#tu0.8" x="103" y="423"/><use href="#tu0.8" x="105.3" y="424.3"/><use href="#tu0.8" x="107.3" y="425.9"/>
<path d="M59.3,433.7 L59.4,433.4 L59.6,433 L59.8,432.4 L60,431.9 L60.2,431.3 L60.5,430.7 L60.8,430.1 L61.2,429.6 L61.5,429.2 L62,428.7 L62.4,428.3 L62.9,427.9 L63.4,427.5 L64,427 L64.6,426.6 L65.3,426.1 L66,425.7 L66.8,425.1 L67.7,424.6 L68.6,424 L69.5,423.5 L70.5,423 L71.4,422.5 L72.4,422.1 L73.4,421.7 L74.5,421.4 L75.6,421.1 L76.7,420.8 L77.8,420.6 L78.9,420.4 L79.9,420.2 L80.9,420 L81.9,419.9 L82.8,419.8 L83.7,419.7 L84.6,419.6 L85.5,419.6 L86.3,419.6 L87,419.6 L87.6,419.8 L88.1,419.9 L88.5,420.2 L88.7,420.5 L89,420.8 L89.1,421.2 L89.4,421.6 L89.6,422 L90,422.4 L90.4,422.8 L90.9,423.2 L91.4,423.6 L92,424.1 L92.6,424.5 L93.1,425 L93.7,425.4 L94.3,425.9 L94.9,426.3 L95.6,426.8 L96.2,427.2 L96.9,427.7 L97.6,428.2 L98.2,428.6 L98.8,429 L99.4,429.3 L99.9,429.7 L100.4,429.9 L100.8,430.2 L101.3,430.4 L101.7,430.6 L102,430.8 L102.3,431 L102.5,431.1" fill="none" stroke="#555555" stroke-width="0.5" />
<use href="#td0.8" x="59.3" y="433.7"/><use href="#td0.8" x="60.2" y="431.3"/><use href="#td0.8" x="61.6" y="429.1"/><use href="#td0.8" x="63.6" y="427.4"/><use href="#td0.8" x="65.7" y="425.9"/><use href="#td0.8" x="67.9" y="424.5"/><use href="#td0.8" x="70.1" y="423.2"/><use href="#td0.8" x="72.5" y="422.1"/><use href="#td0.8" x="74.9" y="421.3"/><use href="#td0.8" x="77.5" y="420.7"/><use href="#td0.8" x="80" y="420.2"/><use href="#td0.8" x="82.6" y="419.8"/><use href="#td0.8" x="85.2" y="419.6"/><use href="#td0.8" x="87.8" y="419.8"/><use href="#td0.8" x="89.4" y="421.7"/><use href="#td0.8" x="91.3" y="423.5"/><use href="#td0.8" x="93.3" y="425.1"/><use href="#td0.8" x="95.4" y="426.7"/><use href="#td0.8" x="97.6" y="428.1"/><use href="#td0.8" x="99.7" y="429.6"/><use href="#td0.8" x="102" y="430.8"/>
<rect x="119.9" y="378.1" width="1.6" height="1.6" fill="#1a1a8a"/>
<text x="124.1" y="380.1" font-size="3.6" font-family="Liberation Serif" font-weight="bold" fill="#333">0%</text>
<rect x="119.9" y="382.5" width="1.6" height="1.6" fill="#23958f"/>
<text x="124.1" y="384.5" font-size="3.6" font-family="Liberation Serif" font-weight="bold" fill="#333">0.1%</text>
<rect x="119.9" y="386.8" width="1.6" height="1.6" fill="#f0aa00"/>
<text x="124.1" y="388.8" font-size="3.6" font-family="Liberation Serif" font-weight="bold" fill="#333">1%</text>
<rect x="119.9" y="391.4" width="1.6" height="1.6" fill="#4d1478"/>
<text x="124.1" y="393.4" font-size="3.6" font-family="Liberation Serif" font-weight="bold" fill="#333">3.5%</text>
<line x1="116" y1="396.8" x2="123" y2="396.8" stroke="#888" stroke-width="0.5" />
<text x="124.1" y="398" font-size="3.6" font-family="Liberation Serif" font-weight="bold" fill="#333">fitting</text>
<text x="113.4" y="423.3" font-size="9.5" text-anchor="middle" fill="#000" font-family="Liberation Serif" font-weight="bold" >1%</text>
<text x="82.3" y="432" font-size="9" text-anchor="middle" fill="#000" font-family="Liberation Serif" font-weight="bold" >3.5%</text>
<text transform="translate(28,444) rotate(-90)" x="0" y="0" font-size="12.5" text-anchor="middle" font-family="Liberation Serif" font-weight="bold">-Z<tspan font-size="6.9" dy="2.8">im</tspan><tspan dy="-2.8">(kΩ·cm</tspan><tspan font-size="5.6" dy="-4.8">-2</tspan><tspan dy="4.8">)</tspan></text>
<text x="131.5" y="541" font-size="12.5" text-anchor="middle" font-family="Liberation Serif" font-weight="bold">Z<tspan font-size="6.9" dy="2.8">re</tspan><tspan dy="-2.8">(kΩ·cm</tspan><tspan font-size="5.6" dy="-4.8">-2</tspan><tspan dy="4.8">)</tspan></text>
<text x="6.2" y="375" font-size="15" font-family="Liberation Serif" font-weight="bold">(c<tspan font-size="8" dy="2.9" dx="0.6">1</tspan><tspan dy="-2.9" dx="0.3">)</tspan></text>
<clipPath id="clipa2"><rect x="282.5" y="11.5" width="185.5" height="144.9"/></clipPath>
<path d="M468,11.5 L282.5,11.5 L282.5,156.4 L468,156.4" fill="none" stroke="#000" stroke-width="1.4"/>
<line x1="468" y1="10.8" x2="468" y2="157.1" stroke="#ff0000" stroke-width="1.6" />
<line x1="282.5" y1="156.4" x2="282.5" y2="153.4" stroke="#000" stroke-width="1" />
<line x1="290.5" y1="156.4" x2="290.5" y2="154.8" stroke="#000" stroke-width="0.7" />
<line x1="295.1" y1="156.4" x2="295.1" y2="154.8" stroke="#000" stroke-width="0.7" />
<line x1="298.5" y1="156.4" x2="298.5" y2="154.8" stroke="#000" stroke-width="0.7" />
<line x1="301" y1="156.4" x2="301" y2="154.8" stroke="#000" stroke-width="0.7" />
<line x1="303.1" y1="156.4" x2="303.1" y2="154.8" stroke="#000" stroke-width="0.7" />
<line x1="304.9" y1="156.4" x2="304.9" y2="154.8" stroke="#000" stroke-width="0.7" />
<line x1="306.4" y1="156.4" x2="306.4" y2="154.8" stroke="#000" stroke-width="0.7" />
<line x1="307.8" y1="156.4" x2="307.8" y2="154.8" stroke="#000" stroke-width="0.7" />
<text x="284" y="168.4" font-size="9" text-anchor="middle" fill="#000" font-family="Liberation Serif" font-weight="bold">10<tspan font-size="5.4" dy="-3.4">-2</tspan></text>
<line x1="309" y1="156.4" x2="309" y2="153.4" stroke="#000" stroke-width="1" />
<line x1="317" y1="156.4" x2="317" y2="154.8" stroke="#000" stroke-width="0.7" />
<line x1="321.6" y1="156.4" x2="321.6" y2="154.8" stroke="#000" stroke-width="0.7" />
<line x1="325" y1="156.4" x2="325" y2="154.8" stroke="#000" stroke-width="0.7" />
<line x1="327.5" y1="156.4" x2="327.5" y2="154.8" stroke="#000" stroke-width="0.7" />
<line x1="329.6" y1="156.4" x2="329.6" y2="154.8" stroke="#000" stroke-width="0.7" />
<line x1="331.4" y1="156.4" x2="331.4" y2="154.8" stroke="#000" stroke-width="0.7" />
<line x1="332.9" y1="156.4" x2="332.9" y2="154.8" stroke="#000" stroke-width="0.7" />
<line x1="334.3" y1="156.4" x2="334.3" y2="154.8" stroke="#000" stroke-width="0.7" />
<text x="310.5" y="168.4" font-size="9" text-anchor="middle" fill="#000" font-family="Liberation Serif" font-weight="bold">10<tspan font-size="5.4" dy="-3.4">-1</tspan></text>
<line x1="335.5" y1="156.4" x2="335.5" y2="153.4" stroke="#000" stroke-width="1" />
<line x1="343.5" y1="156.4" x2="343.5" y2="154.8" stroke="#000" stroke-width="0.7" />
<line x1="348.1" y1="156.4" x2="348.1" y2="154.8" stroke="#000" stroke-width="0.7" />
<line x1="351.5" y1="156.4" x2="351.5" y2="154.8" stroke="#000" stroke-width="0.7" />
<line x1="354" y1="156.4" x2="354" y2="154.8" stroke="#000" stroke-width="0.7" />
<line x1="356.1" y1="156.4" x2="356.1" y2="154.8" stroke="#000" stroke-width="0.7" />
<line x1="357.9" y1="156.4" x2="357.9" y2="154.8" stroke="#000" stroke-width="0.7" />
<line x1="359.4" y1="156.4" x2="359.4" y2="154.8" stroke="#000" stroke-width="0.7" />
<line x1="360.8" y1="156.4" x2="360.8" y2="154.8" stroke="#000" stroke-width="0.7" />
<text x="337" y="168.4" font-size="9" text-anchor="middle" fill="#000" font-family="Liberation Serif" font-weight="bold">10<tspan font-size="5.4" dy="-3.4">0</tspan></text>
<line x1="362" y1="156.4" x2="362" y2="153.4" stroke="#000" stroke-width="1" />
<line x1="370" y1="156.4" x2="370" y2="154.8" stroke="#000" stroke-width="0.7" />
<line x1="374.6" y1="156.4" x2="374.6" y2="154.8" stroke="#000" stroke-width="0.7" />
<line x1="378" y1="156.4" x2="378" y2="154.8" stroke="#000" stroke-width="0.7" />
<line x1="380.5" y1="156.4" x2="380.5" y2="154.8" stroke="#000" stroke-width="0.7" />
<line x1="382.6" y1="156.4" x2="382.6" y2="154.8" stroke="#000" stroke-width="0.7" />
<line x1="384.4" y1="156.4" x2="384.4" y2="154.8" stroke="#000" stroke-width="0.7" />
<line x1="385.9" y1="156.4" x2="385.9" y2="154.8" stroke="#000" stroke-width="0.7" />
<line x1="387.3" y1="156.4" x2="387.3" y2="154.8" stroke="#000" stroke-width="0.7" />
<text x="363.5" y="168.4" font-size="9" text-anchor="middle" fill="#000" font-family="Liberation Serif" font-weight="bold">10<tspan font-size="5.4" dy="-3.4">1</tspan></text>
<line x1="388.5" y1="156.4" x2="388.5" y2="153.4" stroke="#000" stroke-width="1" />
<line x1="396.5" y1="156.4" x2="396.5" y2="154.8" stroke="#000" stroke-width="0.7" />
<line x1="401.1" y1="156.4" x2="401.1" y2="154.8" stroke="#000" stroke-width="0.7" />
<line x1="404.5" y1="156.4" x2="404.5" y2="154.8" stroke="#000" stroke-width="0.7" />
<line x1="407" y1="156.4" x2="407" y2="154.8" stroke="#000" stroke-width="0.7" />
<line x1="409.1" y1="156.4" x2="409.1" y2="154.8" stroke="#000" stroke-width="0.7" />
<line x1="410.9" y1="156.4" x2="410.9" y2="154.8" stroke="#000" stroke-width="0.7" />
<line x1="412.4" y1="156.4" x2="412.4" y2="154.8" stroke="#000" stroke-width="0.7" />
<line x1="413.8" y1="156.4" x2="413.8" y2="154.8" stroke="#000" stroke-width="0.7" />
<text x="390" y="168.4" font-size="9" text-anchor="middle" fill="#000" font-family="Liberation Serif" font-weight="bold">10<tspan font-size="5.4" dy="-3.4">2</tspan></text>
<line x1="415" y1="156.4" x2="415" y2="153.4" stroke="#000" stroke-width="1" />
<line x1="423" y1="156.4" x2="423" y2="154.8" stroke="#000" stroke-width="0.7" />
<line x1="427.6" y1="156.4" x2="427.6" y2="154.8" stroke="#000" stroke-width="0.7" />
<line x1="431" y1="156.4" x2="431" y2="154.8" stroke="#000" stroke-width="0.7" />
<line x1="433.5" y1="156.4" x2="433.5" y2="154.8" stroke="#000" stroke-width="0.7" />
<line x1="435.6" y1="156.4" x2="435.6" y2="154.8" stroke="#000" stroke-width="0.7" />
<line x1="437.4" y1="156.4" x2="437.4" y2="154.8" stroke="#000" stroke-width="0.7" />
<line x1="438.9" y1="156.4" x2="438.9" y2="154.8" stroke="#000" stroke-width="0.7" />
<line x1="440.3" y1="156.4" x2="440.3" y2="154.8" stroke="#000" stroke-width="0.7" />
<text x="416.5" y="168.4" font-size="9" text-anchor="middle" fill="#000" font-family="Liberation Serif" font-weight="bold">10<tspan font-size="5.4" dy="-3.4">3</tspan></text>
<line x1="441.5" y1="156.4" x2="441.5" y2="153.4" stroke="#000" stroke-width="1" />
<line x1="449.5" y1="156.4" x2="449.5" y2="154.8" stroke="#000" stroke-width="0.7" />
<line x1="454.1" y1="156.4" x2="454.1" y2="154.8" stroke="#000" stroke-width="0.7" />
<line x1="457.5" y1="156.4" x2="457.5" y2="154.8" stroke="#000" stroke-width="0.7" />
<line x1="460" y1="156.4" x2="460" y2="154.8" stroke="#000" stroke-width="0.7" />
<line x1="462.1" y1="156.4" x2="462.1" y2="154.8" stroke="#000" stroke-width="0.7" />
<line x1="463.9" y1="156.4" x2="463.9" y2="154.8" stroke="#000" stroke-width="0.7" />
<line x1="465.4" y1="156.4" x2="465.4" y2="154.8" stroke="#000" stroke-width="0.7" />
<line x1="466.8" y1="156.4" x2="466.8" y2="154.8" stroke="#000" stroke-width="0.7" />
<text x="443" y="168.4" font-size="9" text-anchor="middle" fill="#000" font-family="Liberation Serif" font-weight="bold">10<tspan font-size="5.4" dy="-3.4">4</tspan></text>
<line x1="468" y1="156.4" x2="468" y2="153.4" stroke="#000" stroke-width="1" />
<text x="469.5" y="168.4" font-size="9" text-anchor="middle" fill="#000" font-family="Liberation Serif" font-weight="bold">10<tspan font-size="5.4" dy="-3.4">5</tspan></text>
<line x1="282.5" y1="156.4" x2="285.5" y2="156.4" stroke="#000" stroke-width="1" />
<line x1="282.5" y1="149.1" x2="284.1" y2="149.1" stroke="#000" stroke-width="0.7" />
<line x1="282.5" y1="144.9" x2="284.1" y2="144.9" stroke="#000" stroke-width="0.7" />
<line x1="282.5" y1="141.9" x2="284.1" y2="141.9" stroke="#000" stroke-width="0.7" />
<line x1="282.5" y1="139.5" x2="284.1" y2="139.5" stroke="#000" stroke-width="0.7" />
<line x1="282.5" y1="137.6" x2="284.1" y2="137.6" stroke="#000" stroke-width="0.7" />
<line x1="282.5" y1="136" x2="284.1" y2="136" stroke="#000" stroke-width="0.7" />
<line x1="282.5" y1="134.6" x2="284.1" y2="134.6" stroke="#000" stroke-width="0.7" />
<line x1="282.5" y1="133.4" x2="284.1" y2="133.4" stroke="#000" stroke-width="0.7" />
<text x="279.5" y="159.4" font-size="9" text-anchor="end" fill="#000" font-family="Liberation Serif" font-weight="bold">10<tspan font-size="5.4" dy="-3.4">0</tspan></text>
<line x1="282.5" y1="132.2" x2="285.5" y2="132.2" stroke="#000" stroke-width="1" />
<line x1="282.5" y1="125" x2="284.1" y2="125" stroke="#000" stroke-width="0.7" />
<line x1="282.5" y1="120.7" x2="284.1" y2="120.7" stroke="#000" stroke-width="0.7" />
<line x1="282.5" y1="117.7" x2="284.1" y2="117.7" stroke="#000" stroke-width="0.7" />
<line x1="282.5" y1="115.4" x2="284.1" y2="115.4" stroke="#000" stroke-width="0.7" />
<line x1="282.5" y1="113.5" x2="284.1" y2="113.5" stroke="#000" stroke-width="0.7" />
<line x1="282.5" y1="111.8" x2="284.1" y2="111.8" stroke="#000" stroke-width="0.7" />
<line x1="282.5" y1="110.4" x2="284.1" y2="110.4" stroke="#000" stroke-width="0.7" />
<line x1="282.5" y1="109.2" x2="284.1" y2="109.2" stroke="#000" stroke-width="0.7" />
<text x="279.5" y="135.2" font-size="9" text-anchor="end" fill="#000" font-family="Liberation Serif" font-weight="bold">10<tspan font-size="5.4" dy="-3.4">1</tspan></text>
<line x1="282.5" y1="108.1" x2="285.5" y2="108.1" stroke="#000" stroke-width="1" />
<line x1="282.5" y1="100.8" x2="284.1" y2="100.8" stroke="#000" stroke-width="0.7" />
<line x1="282.5" y1="96.6" x2="284.1" y2="96.6" stroke="#000" stroke-width="0.7" />
<line x1="282.5" y1="93.6" x2="284.1" y2="93.6" stroke="#000" stroke-width="0.7" />
<line x1="282.5" y1="91.2" x2="284.1" y2="91.2" stroke="#000" stroke-width="0.7" />
<line x1="282.5" y1="89.3" x2="284.1" y2="89.3" stroke="#000" stroke-width="0.7" />
<line x1="282.5" y1="87.7" x2="284.1" y2="87.7" stroke="#000" stroke-width="0.7" />
<line x1="282.5" y1="86.3" x2="284.1" y2="86.3" stroke="#000" stroke-width="0.7" />
<line x1="282.5" y1="85.1" x2="284.1" y2="85.1" stroke="#000" stroke-width="0.7" />
<text x="279.5" y="111.1" font-size="9" text-anchor="end" fill="#000" font-family="Liberation Serif" font-weight="bold">10<tspan font-size="5.4" dy="-3.4">2</tspan></text>
<line x1="282.5" y1="84" x2="285.5" y2="84" stroke="#000" stroke-width="1" />
<line x1="282.5" y1="76.7" x2="284.1" y2="76.7" stroke="#000" stroke-width="0.7" />
<line x1="282.5" y1="72.4" x2="284.1" y2="72.4" stroke="#000" stroke-width="0.7" />
<line x1="282.5" y1="69.4" x2="284.1" y2="69.4" stroke="#000" stroke-width="0.7" />
<line x1="282.5" y1="67.1" x2="284.1" y2="67.1" stroke="#000" stroke-width="0.7" />
<line x1="282.5" y1="65.2" x2="284.1" y2="65.2" stroke="#000" stroke-width="0.7" />
<line x1="282.5" y1="63.5" x2="284.1" y2="63.5" stroke="#000" stroke-width="0.7" />
<line x1="282.5" y1="62.1" x2="284.1" y2="62.1" stroke="#000" stroke-width="0.7" />
<line x1="282.5" y1="60.9" x2="284.1" y2="60.9" stroke="#000" stroke-width="0.7" />
<text x="279.5" y="87" font-size="9" text-anchor="end" fill="#000" font-family="Liberation Serif" font-weight="bold">10<tspan font-size="5.4" dy="-3.4">3</tspan></text>
<line x1="282.5" y1="59.8" x2="285.5" y2="59.8" stroke="#000" stroke-width="1" />
<line x1="282.5" y1="52.5" x2="284.1" y2="52.5" stroke="#000" stroke-width="0.7" />
<line x1="282.5" y1="48.3" x2="284.1" y2="48.3" stroke="#000" stroke-width="0.7" />
<line x1="282.5" y1="45.3" x2="284.1" y2="45.3" stroke="#000" stroke-width="0.7" />
<line x1="282.5" y1="42.9" x2="284.1" y2="42.9" stroke="#000" stroke-width="0.7" />
<line x1="282.5" y1="41" x2="284.1" y2="41" stroke="#000" stroke-width="0.7" />
<line x1="282.5" y1="39.4" x2="284.1" y2="39.4" stroke="#000" stroke-width="0.7" />
<line x1="282.5" y1="38" x2="284.1" y2="38" stroke="#000" stroke-width="0.7" />
<line x1="282.5" y1="36.8" x2="284.1" y2="36.8" stroke="#000" stroke-width="0.7" />
<text x="279.5" y="62.8" font-size="9" text-anchor="end" fill="#000" font-family="Liberation Serif" font-weight="bold">10<tspan font-size="5.4" dy="-3.4">4</tspan></text>
<line x1="282.5" y1="35.6" x2="285.5" y2="35.6" stroke="#000" stroke-width="1" />
<line x1="282.5" y1="28.4" x2="284.1" y2="28.4" stroke="#000" stroke-width="0.7" />
<line x1="282.5" y1="24.1" x2="284.1" y2="24.1" stroke="#000" stroke-width="0.7" />
<line x1="282.5" y1="21.1" x2="284.1" y2="21.1" stroke="#000" stroke-width="0.7" />
<line x1="282.5" y1="18.8" x2="284.1" y2="18.8" stroke="#000" stroke-width="0.7" />
<line x1="282.5" y1="16.9" x2="284.1" y2="16.9" stroke="#000" stroke-width="0.7" />
<line x1="282.5" y1="15.2" x2="284.1" y2="15.2" stroke="#000" stroke-width="0.7" />
<line x1="282.5" y1="13.8" x2="284.1" y2="13.8" stroke="#000" stroke-width="0.7" />
<line x1="282.5" y1="12.6" x2="284.1" y2="12.6" stroke="#000" stroke-width="0.7" />
<text x="279.5" y="38.6" font-size="9" text-anchor="end" fill="#000" font-family="Liberation Serif" font-weight="bold">10<tspan font-size="5.4" dy="-3.4">5</tspan></text>
<line x1="282.5" y1="11.5" x2="285.5" y2="11.5" stroke="#000" stroke-width="1" />
<text x="279.5" y="14.5" font-size="9" text-anchor="end" fill="#000" font-family="Liberation Serif" font-weight="bold">10<tspan font-size="5.4" dy="-3.4">6</tspan></text>
<line x1="468" y1="156.8" x2="465" y2="156.8" stroke="#ff0000" stroke-width="1" />
<text x="472" y="160" font-size="9.5" text-anchor="start" fill="#ff0000" font-family="Liberation Serif" font-weight="bold" >0</text>
<line x1="468" y1="140.7" x2="466.2" y2="140.7" stroke="#ff0000" stroke-width="1" />
<line x1="468" y1="124.5" x2="465" y2="124.5" stroke="#ff0000" stroke-width="1" />
<text x="472" y="127.7" font-size="9.5" text-anchor="start" fill="#ff0000" font-family="Liberation Serif" font-weight="bold" >20</text>
<line x1="468" y1="108.4" x2="466.2" y2="108.4" stroke="#ff0000" stroke-width="1" />
<line x1="468" y1="92.2" x2="465" y2="92.2" stroke="#ff0000" stroke-width="1" />
<text x="472" y="95.4" font-size="9.5" text-anchor="start" fill="#ff0000" font-family="Liberation Serif" font-weight="bold" >40</text>
<line x1="468" y1="76.1" x2="466.2" y2="76.1" stroke="#ff0000" stroke-width="1" />
<line x1="468" y1="59.9" x2="465" y2="59.9" stroke="#ff0000" stroke-width="1" />
<text x="472" y="63.1" font-size="9.5" text-anchor="start" fill="#ff0000" font-family="Liberation Serif" font-weight="bold" >60</text>
<line x1="468" y1="43.8" x2="466.2" y2="43.8" stroke="#ff0000" stroke-width="1" />
<line x1="468" y1="27.6" x2="465" y2="27.6" stroke="#ff0000" stroke-width="1" />
<text x="472" y="30.8" font-size="9.5" text-anchor="start" fill="#ff0000" font-family="Liberation Serif" font-weight="bold" >80</text>
<line x1="468" y1="11.5" x2="466.2" y2="11.5" stroke="#ff0000" stroke-width="1" />
<g clip-path="url(#clipa2)">
<path d="M282.5,42.7 L283.7,42.7 L284.8,42.7 L286,42.7 L287.2,42.8 L288.3,42.8 L289.5,42.8 L290.7,42.9 L291.8,43 L293,43 L294.2,43.1 L295.3,43.2 L296.5,43.4 L297.7,43.5 L298.8,43.7 L300,43.9 L301.2,44.1 L302.3,44.4 L303.5,44.7 L304.7,45.1 L305.8,45.5 L307,46 L308.2,46.5 L309.3,47 L310.5,47.6 L311.7,48.2 L312.8,48.9 L314,49.5 L315.2,50.2 L316.3,51 L317.5,51.7 L318.7,52.4 L319.8,53.2 L321,54 L322.2,54.7 L323.3,55.5 L324.5,56.3 L325.7,57.1 L326.8,57.8 L328,58.6 L329.2,59.5 L330.3,60.3 L331.5,61.1 L332.7,62 L333.8,62.8 L335,63.7 L336.2,64.6 L337.3,65.5 L338.5,66.5 L339.7,67.4 L340.8,68.3 L342,69.3 L343.2,70.2 L344.3,71.2 L345.5,72.2 L346.7,73.2 L347.8,74.1 L349,75.1 L350.2,76.1 L351.3,77.1 L352.5,78.1 L353.7,79.1 L354.8,80.1 L356,81.1 L357.2,82.1 L358.3,83.1 L359.5,84.1 L360.7,85.1 L361.8,86.1 L363,87.1 L364.2,88.1 L365.3,89.1 L366.5,90.1 L367.7,91.1 L368.8,92.1 L370,93 L371.2,94 L372.3,95 L373.5,95.9 L374.7,96.8 L375.8,97.8 L377,98.7 L378.2,99.6 L379.3,100.4 L380.5,101.3 L381.7,102.1 L382.8,102.9 L384,103.6 L385.2,104.4 L386.3,105 L387.5,105.7 L388.7,106.3 L389.8,106.8 L391,107.3 L392.2,107.8 L393.3,108.2 L394.5,108.5 L395.7,108.9 L396.8,109.1 L398,109.4 L399.2,109.6 L400.3,109.8 L401.5,110 L402.7,110.1 L403.8,110.2 L405,110.3 L406.2,110.4 L407.3,110.5 L408.5,110.6 L409.7,110.6 L410.8,110.7 L412,110.7 L413.2,110.7 L414.3,110.8 L415.5,110.8 L416.7,110.8 L417.8,110.8 L419,110.9 L420.2,110.9 L421.3,110.9 L422.5,110.9 L423.7,110.9 L424.8,110.9 L426,110.9 L427.2,110.9 L428.3,110.9 L429.5,110.9 L430.7,110.9 L431.8,110.9 L433,110.9 L434.2,110.9 L435.3,110.9 L436.5,110.9 L437.7,110.9 L438.8,110.9 L440,110.9 L441.2,111 L442.3,111 L443.5,111 L444.7,111 L445.8,111 L447,111 L448.2,111 L449.3,111 L450.5,111 L451.7,111 L452.8,111 L454,111 L455.2,111 L456.3,111 L457.5,111 L458.7,111 L459.8,111 L461,111 L462.2,111 L463.3,111.1 L464.5,111.1 L465.7,111.1 L466.8,111.2 L468,111.2" fill="none" stroke="#555555" stroke-width="0.7" />
<path d="M282.5,146.9 L283.7,145.9 L284.8,144.7 L286,143.5 L287.2,142.1 L288.3,140.6 L289.5,139 L290.7,137.2 L291.8,135.2 L293,133.1 L294.2,130.8 L295.3,128.3 L296.5,125.6 L297.7,122.7 L298.8,119.6 L300,116.4 L301.2,113 L302.3,109.4 L303.5,105.7 L304.7,102 L305.8,98.2 L307,94.4 L308.2,90.6 L309.3,87 L310.5,83.4 L311.7,80.1 L312.8,76.9 L314,73.9 L315.2,71.1 L316.3,68.5 L317.5,66.1 L318.7,63.9 L319.8,61.9 L321,59.9 L322.2,58.1 L323.3,56.3 L324.5,54.6 L325.7,53 L326.8,51.3 L328,49.7 L329.2,48 L330.3,46.4 L331.5,44.8 L332.7,43.2 L333.8,41.7 L335,40.2 L336.2,38.8 L337.3,37.4 L338.5,36.2 L339.7,35 L340.8,33.9 L342,32.8 L343.2,31.9 L344.3,31.1 L345.5,30.3 L346.7,29.7 L347.8,29.1 L349,28.6 L350.2,28.2 L351.3,27.9 L352.5,27.7 L353.7,27.6 L354.8,27.5 L356,27.6 L357.2,27.7 L358.3,27.9 L359.5,28.2 L360.7,28.6 L361.8,29.1 L363,29.8 L364.2,30.5 L365.3,31.3 L366.5,32.3 L367.7,33.3 L368.8,34.6 L370,35.9 L371.2,37.4 L372.3,39.1 L373.5,40.9 L374.7,43 L375.8,45.2 L377,47.6 L378.2,50.2 L379.3,53 L380.5,56 L381.7,59.2 L382.8,62.6 L384,66.2 L385.2,70 L386.3,73.9 L387.5,77.9 L388.7,82 L389.8,86.1 L391,90.3 L392.2,94.4 L393.3,98.5 L394.5,102.5 L395.7,106.4 L396.8,110.1 L398,113.6 L399.2,117 L400.3,120.2 L401.5,123.2 L402.7,126 L403.8,128.6 L405,131 L406.2,133.2 L407.3,135.2 L408.5,137.1 L409.7,138.8 L410.8,140.4 L412,141.9 L413.2,143.2 L414.3,144.4 L415.5,145.5 L416.7,146.5 L417.8,147.3 L419,148.2 L420.2,148.9 L421.3,149.6 L422.5,150.2 L423.7,150.7 L424.8,151.2 L426,151.6 L427.2,152 L428.3,152.3 L429.5,152.6 L430.7,152.8 L431.8,153 L433,153.2 L434.2,153.4 L435.3,153.5 L436.5,153.5 L437.7,153.6 L438.8,153.6 L440,153.6 L441.2,153.5 L442.3,153.5 L443.5,153.3 L444.7,153.2 L445.8,153 L447,152.8 L448.2,152.5 L449.3,152.2 L450.5,151.9 L451.7,151.5 L452.8,151 L454,150.5 L455.2,149.9 L456.3,149.3 L457.5,148.5 L458.7,147.7 L459.8,146.8 L461,145.8 L462.2,144.7 L463.3,143.5 L464.5,142.1 L465.7,140.7 L466.8,139 L468,137.2" fill="none" stroke="#555555" stroke-width="0.7" />
<path d="M282.5,38 L283.7,38.2 L284.8,38.3 L286,38.6 L287.2,38.8 L288.3,39 L289.5,39.3 L290.7,39.7 L291.8,40 L293,40.4 L294.2,40.8 L295.3,41.2 L296.5,41.7 L297.7,42.2 L298.8,42.6 L300,43.1 L301.2,43.6 L302.3,44.1 L303.5,44.6 L304.7,45.1 L305.8,45.6 L307,46.1 L308.2,46.6 L309.3,47.2 L310.5,47.7 L311.7,48.3 L312.8,48.9 L314,49.5 L315.2,50.2 L316.3,50.9 L317.5,51.6 L318.7,52.3 L319.8,53.1 L321,53.9 L322.2,54.8 L323.3,55.6 L324.5,56.5 L325.7,57.3 L326.8,58.2 L328,59.1 L329.2,60.1 L330.3,61 L331.5,61.9 L332.7,62.9 L333.8,63.8 L335,64.8 L336.2,65.7 L337.3,66.7 L338.5,67.7 L339.7,68.6 L340.8,69.6 L342,70.6 L343.2,71.6 L344.3,72.5 L345.5,73.5 L346.7,74.5 L347.8,75.5 L349,76.5 L350.2,77.4 L351.3,78.4 L352.5,79.4 L353.7,80.4 L354.8,81.4 L356,82.4 L357.2,83.3 L358.3,84.3 L359.5,85.3 L360.7,86.3 L361.8,87.3 L363,88.2 L364.2,89.2 L365.3,90.2 L366.5,91.2 L367.7,92.1 L368.8,93.1 L370,94.1 L371.2,95 L372.3,96 L373.5,96.9 L374.7,97.9 L375.8,98.8 L377,99.7 L378.2,100.7 L379.3,101.6 L380.5,102.5 L381.7,103.4 L382.8,104.2 L384,105.1 L385.2,105.9 L386.3,106.7 L387.5,107.5 L388.7,108.3 L389.8,109 L391,109.7 L392.2,110.3 L393.3,110.9 L394.5,111.5 L395.7,112 L396.8,112.5 L398,113 L399.2,113.4 L400.3,113.7 L401.5,114.1 L402.7,114.4 L403.8,114.6 L405,114.8 L406.2,115 L407.3,115.2 L408.5,115.4 L409.7,115.5 L410.8,115.6 L412,115.7 L413.2,115.8 L414.3,115.9 L415.5,115.9 L416.7,116 L417.8,116 L419,116.1 L420.2,116.1 L421.3,116.1 L422.5,116.2 L423.7,116.2 L424.8,116.2 L426,116.2 L427.2,116.3 L428.3,116.3 L429.5,116.3 L430.7,116.3 L431.8,116.3 L433,116.3 L434.2,116.3 L435.3,116.3 L436.5,116.3 L437.7,116.3 L438.8,116.3 L440,116.3 L441.2,116.3 L442.3,116.3 L443.5,116.4 L444.7,116.4 L445.8,116.4 L447,116.4 L448.2,116.4 L449.3,116.4 L450.5,116.4 L451.7,116.4 L452.8,116.4 L454,116.4 L455.2,116.4 L456.3,116.4 L457.5,116.4 L458.7,116.4 L459.8,116.4 L461,116.4 L462.2,116.4 L463.3,116.5 L464.5,116.5 L465.7,116.5 L466.8,116.5 L468,116.6" fill="none" stroke="#555555" stroke-width="0.7" />
<path d="M282.5,129.7 L283.7,127.3 L284.8,124.9 L286,122.4 L287.2,119.8 L288.3,117.1 L289.5,114.4 L290.7,111.7 L291.8,109 L293,106.4 L294.2,103.9 L295.3,101.5 L296.5,99.3 L297.7,97.1 L298.8,95.1 L300,93.2 L301.2,91.4 L302.3,89.6 L303.5,87.8 L304.7,85.9 L305.8,84 L307,82 L308.2,79.8 L309.3,77.6 L310.5,75.2 L311.7,72.7 L312.8,70.2 L314,67.6 L315.2,64.9 L316.3,62.3 L317.5,59.7 L318.7,57.1 L319.8,54.6 L321,52.2 L322.2,50 L323.3,47.8 L324.5,45.8 L325.7,43.9 L326.8,42.1 L328,40.4 L329.2,38.9 L330.3,37.5 L331.5,36.2 L332.7,35.1 L333.8,34 L335,33 L336.2,32.1 L337.3,31.3 L338.5,30.6 L339.7,30 L340.8,29.4 L342,28.9 L343.2,28.4 L344.3,28.1 L345.5,27.7 L346.7,27.5 L347.8,27.3 L349,27.1 L350.2,27 L351.3,26.9 L352.5,26.9 L353.7,26.9 L354.8,27 L356,27.1 L357.2,27.3 L358.3,27.5 L359.5,27.8 L360.7,28.1 L361.8,28.5 L363,28.9 L364.2,29.4 L365.3,30 L366.5,30.7 L367.7,31.4 L368.8,32.2 L370,33.1 L371.2,34.1 L372.3,35.2 L373.5,36.4 L374.7,37.8 L375.8,39.2 L377,40.8 L378.2,42.5 L379.3,44.4 L380.5,46.5 L381.7,48.7 L382.8,51.1 L384,53.6 L385.2,56.4 L386.3,59.3 L387.5,62.4 L388.7,65.7 L389.8,69.1 L391,72.7 L392.2,76.3 L393.3,80.1 L394.5,84 L395.7,87.9 L396.8,91.8 L398,95.7 L399.2,99.5 L400.3,103.2 L401.5,106.9 L402.7,110.4 L403.8,113.8 L405,117 L406.2,120.1 L407.3,122.9 L408.5,125.6 L409.7,128.1 L410.8,130.5 L412,132.7 L413.2,134.7 L414.3,136.5 L415.5,138.2 L416.7,139.8 L417.8,141.2 L419,142.5 L420.2,143.7 L421.3,144.8 L422.5,145.8 L423.7,146.7 L424.8,147.6 L426,148.3 L427.2,149 L428.3,149.6 L429.5,150.1 L430.7,150.6 L431.8,151 L433,151.4 L434.2,151.7 L435.3,152 L436.5,152.2 L437.7,152.4 L438.8,152.5 L440,152.7 L441.2,152.7 L442.3,152.8 L443.5,152.8 L444.7,152.7 L445.8,152.6 L447,152.5 L448.2,152.3 L449.3,152.1 L450.5,151.9 L451.7,151.6 L452.8,151.2 L454,150.8 L455.2,150.3 L456.3,149.8 L457.5,149.2 L458.7,148.5 L459.8,147.7 L461,146.9 L462.2,145.9 L463.3,144.8 L464.5,143.7 L465.7,142.4 L466.8,140.9 L468,139.3" fill="none" stroke="#555555" stroke-width="0.7" />
<path d="M282.5,48.2 L283.7,48.2 L284.8,48.3 L286,48.4 L287.2,48.5 L288.3,48.6 L289.5,48.7 L290.7,48.9 L291.8,49 L293,49.2 L294.2,49.4 L295.3,49.6 L296.5,49.8 L297.7,50 L298.8,50.3 L300,50.6 L301.2,50.9 L302.3,51.2 L303.5,51.6 L304.7,52 L305.8,52.3 L307,52.8 L308.2,53.2 L309.3,53.6 L310.5,54.1 L311.7,54.6 L312.8,55.1 L314,55.7 L315.2,56.2 L316.3,56.8 L317.5,57.4 L318.7,58 L319.8,58.7 L321,59.4 L322.2,60.1 L323.3,60.8 L324.5,61.6 L325.7,62.4 L326.8,63.2 L328,64 L329.2,64.8 L330.3,65.7 L331.5,66.6 L332.7,67.5 L333.8,68.4 L335,69.3 L336.2,70.2 L337.3,71.2 L338.5,72.1 L339.7,73 L340.8,74 L342,75 L343.2,75.9 L344.3,76.9 L345.5,77.9 L346.7,78.8 L347.8,79.8 L349,80.8 L350.2,81.8 L351.3,82.8 L352.5,83.7 L353.7,84.7 L354.8,85.7 L356,86.7 L357.2,87.7 L358.3,88.7 L359.5,89.7 L360.7,90.6 L361.8,91.6 L363,92.6 L364.2,93.6 L365.3,94.6 L366.5,95.6 L367.7,96.6 L368.8,97.5 L370,98.5 L371.2,99.5 L372.3,100.5 L373.5,101.5 L374.7,102.4 L375.8,103.4 L377,104.4 L378.2,105.3 L379.3,106.3 L380.5,107.2 L381.7,108.2 L382.8,109.1 L384,110.1 L385.2,111 L386.3,111.9 L387.5,112.8 L388.7,113.7 L389.8,114.5 L391,115.4 L392.2,116.2 L393.3,117 L394.5,117.7 L395.7,118.5 L396.8,119.2 L398,119.8 L399.2,120.4 L400.3,121 L401.5,121.6 L402.7,122.1 L403.8,122.5 L405,122.9 L406.2,123.3 L407.3,123.6 L408.5,123.9 L409.7,124.2 L410.8,124.4 L412,124.6 L413.2,124.8 L414.3,125 L415.5,125.1 L416.7,125.2 L417.8,125.3 L419,125.4 L420.2,125.5 L421.3,125.5 L422.5,125.6 L423.7,125.6 L424.8,125.7 L426,125.7 L427.2,125.7 L428.3,125.8 L429.5,125.8 L430.7,125.8 L431.8,125.8 L433,125.8 L434.2,125.9 L435.3,125.9 L436.5,125.9 L437.7,125.9 L438.8,125.9 L440,125.9 L441.2,125.9 L442.3,125.9 L443.5,125.9 L444.7,125.9 L445.8,125.9 L447,125.9 L448.2,125.9 L449.3,125.9 L450.5,125.9 L451.7,125.9 L452.8,125.9 L454,125.9 L455.2,125.9 L456.3,125.9 L457.5,125.9 L458.7,125.9 L459.8,125.9 L461,126 L462.2,126 L463.3,126 L464.5,126 L465.7,126 L466.8,126 L468,126" fill="none" stroke="#555555" stroke-width="0.7" />
<path d="M282.5,141.7 L283.7,140.4 L284.8,139 L286,137.5 L287.2,135.9 L288.3,134.3 L289.5,132.5 L290.7,130.6 L291.8,128.7 L293,126.6 L294.2,124.5 L295.3,122.3 L296.5,120 L297.7,117.6 L298.8,115.2 L300,112.8 L301.2,110.3 L302.3,107.8 L303.5,105.2 L304.7,102.7 L305.8,100.1 L307,97.5 L308.2,94.9 L309.3,92.3 L310.5,89.7 L311.7,87 L312.8,84.3 L314,81.6 L315.2,78.9 L316.3,76.1 L317.5,73.3 L318.7,70.6 L319.8,67.8 L321,65.1 L322.2,62.4 L323.3,59.8 L324.5,57.3 L325.7,54.8 L326.8,52.4 L328,50.2 L329.2,48 L330.3,46 L331.5,44.1 L332.7,42.3 L333.8,40.6 L335,39 L336.2,37.6 L337.3,36.3 L338.5,35.1 L339.7,34 L340.8,32.9 L342,32 L343.2,31.2 L344.3,30.4 L345.5,29.7 L346.7,29.1 L347.8,28.6 L349,28.1 L350.2,27.7 L351.3,27.3 L352.5,27.1 L353.7,26.8 L354.8,26.6 L356,26.5 L357.2,26.4 L358.3,26.3 L359.5,26.3 L360.7,26.4 L361.8,26.5 L363,26.6 L364.2,26.8 L365.3,27.1 L366.5,27.4 L367.7,27.8 L368.8,28.2 L370,28.7 L371.2,29.3 L372.3,29.9 L373.5,30.6 L374.7,31.4 L375.8,32.3 L377,33.3 L378.2,34.3 L379.3,35.5 L380.5,36.9 L381.7,38.3 L382.8,39.9 L384,41.6 L385.2,43.5 L386.3,45.5 L387.5,47.7 L388.7,50.1 L389.8,52.6 L391,55.3 L392.2,58.3 L393.3,61.4 L394.5,64.6 L395.7,68.1 L396.8,71.6 L398,75.3 L399.2,79.2 L400.3,83 L401.5,87 L402.7,90.9 L403.8,94.9 L405,98.8 L406.2,102.6 L407.3,106.3 L408.5,109.9 L409.7,113.3 L410.8,116.6 L412,119.7 L413.2,122.6 L414.3,125.3 L415.5,127.9 L416.7,130.3 L417.8,132.5 L419,134.5 L420.2,136.4 L421.3,138.2 L422.5,139.8 L423.7,141.2 L424.8,142.6 L426,143.8 L427.2,144.9 L428.3,146 L429.5,146.9 L430.7,147.7 L431.8,148.5 L433,149.2 L434.2,149.9 L435.3,150.4 L436.5,150.9 L437.7,151.4 L438.8,151.8 L440,152.2 L441.2,152.5 L442.3,152.8 L443.5,153.1 L444.7,153.3 L445.8,153.5 L447,153.7 L448.2,153.8 L449.3,153.9 L450.5,154 L451.7,154 L452.8,154.1 L454,154.1 L455.2,154.1 L456.3,154 L457.5,153.9 L458.7,153.8 L459.8,153.7 L461,153.5 L462.2,153.3 L463.3,153.1 L464.5,152.8 L465.7,152.5 L466.8,152.1 L468,151.7" fill="none" stroke="#555555" stroke-width="0.7" />
<path d="M282.5,60.7 L283.7,60.9 L284.8,61 L286,61.1 L287.2,61.3 L288.3,61.5 L289.5,61.6 L290.7,61.8 L291.8,62 L293,62.2 L294.2,62.4 L295.3,62.6 L296.5,62.9 L297.7,63.1 L298.8,63.3 L300,63.6 L301.2,63.9 L302.3,64.1 L303.5,64.4 L304.7,64.7 L305.8,65.1 L307,65.4 L308.2,65.7 L309.3,66.1 L310.5,66.4 L311.7,66.8 L312.8,67.2 L314,67.6 L315.2,68 L316.3,68.4 L317.5,68.8 L318.7,69.3 L319.8,69.8 L321,70.2 L322.2,70.7 L323.3,71.2 L324.5,71.7 L325.7,72.3 L326.8,72.8 L328,73.4 L329.2,74 L330.3,74.5 L331.5,75.1 L332.7,75.8 L333.8,76.4 L335,77.1 L336.2,77.7 L337.3,78.4 L338.5,79.1 L339.7,79.8 L340.8,80.5 L342,81.3 L343.2,82 L344.3,82.8 L345.5,83.6 L346.7,84.4 L347.8,85.2 L349,86 L350.2,86.8 L351.3,87.7 L352.5,88.5 L353.7,89.4 L354.8,90.2 L356,91.1 L357.2,92 L358.3,92.8 L359.5,93.7 L360.7,94.6 L361.8,95.5 L363,96.4 L364.2,97.3 L365.3,98.2 L366.5,99.1 L367.7,100.1 L368.8,101 L370,101.9 L371.2,102.8 L372.3,103.7 L373.5,104.7 L374.7,105.6 L375.8,106.5 L377,107.4 L378.2,108.3 L379.3,109.3 L380.5,110.2 L381.7,111.1 L382.8,112 L384,112.9 L385.2,113.8 L386.3,114.7 L387.5,115.6 L388.7,116.5 L389.8,117.4 L391,118.3 L392.2,119.2 L393.3,120.1 L394.5,120.9 L395.7,121.8 L396.8,122.6 L398,123.4 L399.2,124.2 L400.3,125 L401.5,125.8 L402.7,126.5 L403.8,127.3 L405,128 L406.2,128.6 L407.3,129.3 L408.5,129.9 L409.7,130.4 L410.8,131 L412,131.5 L413.2,131.9 L414.3,132.3 L415.5,132.7 L416.7,133.1 L417.8,133.4 L419,133.7 L420.2,133.9 L421.3,134.2 L422.5,134.4 L423.7,134.6 L424.8,134.7 L426,134.9 L427.2,135 L428.3,135.1 L429.5,135.2 L430.7,135.3 L431.8,135.4 L433,135.4 L434.2,135.5 L435.3,135.6 L436.5,135.6 L437.7,135.6 L438.8,135.7 L440,135.7 L441.2,135.7 L442.3,135.8 L443.5,135.8 L444.7,135.8 L445.8,135.8 L447,135.8 L448.2,135.9 L449.3,135.9 L450.5,135.9 L451.7,135.9 L452.8,135.9 L454,135.9 L455.2,135.9 L456.3,135.9 L457.5,135.9 L458.7,135.9 L459.8,135.9 L461,136 L462.2,136 L463.3,136 L464.5,136 L465.7,136 L466.8,136 L468,136" fill="none" stroke="#555555" stroke-width="0.7" />
<path d="M282.5,136.3 L283.7,135.3 L284.8,134.3 L286,133.3 L287.2,132.3 L288.3,131.2 L289.5,130.1 L290.7,129 L291.8,127.8 L293,126.6 L294.2,125.4 L295.3,124.1 L296.5,122.8 L297.7,121.5 L298.8,120.1 L300,118.7 L301.2,117.3 L302.3,115.9 L303.5,114.4 L304.7,112.9 L305.8,111.4 L307,109.9 L308.2,108.3 L309.3,106.7 L310.5,105.1 L311.7,103.5 L312.8,101.9 L314,100.2 L315.2,98.6 L316.3,96.9 L317.5,95.2 L318.7,93.4 L319.8,91.7 L321,89.9 L322.2,88.2 L323.3,86.4 L324.5,84.6 L325.7,82.8 L326.8,80.9 L328,79.1 L329.2,77.3 L330.3,75.4 L331.5,73.6 L332.7,71.8 L333.8,70 L335,68.2 L336.2,66.4 L337.3,64.6 L338.5,62.9 L339.7,61.2 L340.8,59.5 L342,57.9 L343.2,56.3 L344.3,54.8 L345.5,53.3 L346.7,51.9 L347.8,50.5 L349,49.2 L350.2,47.9 L351.3,46.8 L352.5,45.6 L353.7,44.6 L354.8,43.6 L356,42.7 L357.2,41.8 L358.3,41 L359.5,40.3 L360.7,39.6 L361.8,39 L363,38.5 L364.2,38 L365.3,37.6 L366.5,37.2 L367.7,36.9 L368.8,36.7 L370,36.5 L371.2,36.4 L372.3,36.4 L373.5,36.4 L374.7,36.4 L375.8,36.6 L377,36.8 L378.2,37.1 L379.3,37.4 L380.5,37.8 L381.7,38.3 L382.8,38.9 L384,39.6 L385.2,40.3 L386.3,41.2 L387.5,42.1 L388.7,43.2 L389.8,44.3 L391,45.6 L392.2,47 L393.3,48.5 L394.5,50.2 L395.7,52 L396.8,54 L398,56.1 L399.2,58.3 L400.3,60.7 L401.5,63.3 L402.7,66 L403.8,68.8 L405,71.8 L406.2,74.9 L407.3,78.1 L408.5,81.5 L409.7,84.9 L410.8,88.3 L412,91.8 L413.2,95.3 L414.3,98.7 L415.5,102.1 L416.7,105.5 L417.8,108.7 L419,111.9 L420.2,114.9 L421.3,117.8 L422.5,120.6 L423.7,123.2 L424.8,125.7 L426,128 L427.2,130.2 L428.3,132.2 L429.5,134.1 L430.7,135.9 L431.8,137.5 L433,139 L434.2,140.3 L435.3,141.6 L436.5,142.7 L437.7,143.7 L438.8,144.7 L440,145.5 L441.2,146.3 L442.3,147 L443.5,147.6 L444.7,148.1 L445.8,148.6 L447,149 L448.2,149.3 L449.3,149.6 L450.5,149.8 L451.7,149.9 L452.8,150 L454,150 L455.2,150 L456.3,149.9 L457.5,149.7 L458.7,149.4 L459.8,149.1 L461,148.7 L462.2,148.3 L463.3,147.7 L464.5,147.1 L465.7,146.4 L466.8,145.6 L468,144.6" fill="none" stroke="#555555" stroke-width="0.7" />
<use href="#sq1" x="282.5" y="42.8"/><use href="#sq1" x="285.1" y="42.9"/><use href="#sq1" x="287.8" y="42.9"/><use href="#sq1" x="290.4" y="42.5"/><use href="#sq1" x="293.1" y="43.3"/><use href="#sq1" x="295.8" y="43.4"/><use href="#sq1" x="298.4" y="43.5"/><use href="#sq1" x="301.1" y="44.3"/><use href="#sq1" x="303.7" y="44.9"/><use href="#sq1" x="306.4" y="45.8"/><use href="#sq1" x="309" y="46.9"/><use href="#sq1" x="311.7" y="48.4"/><use href="#sq1" x="314.3" y="49.5"/><use href="#sq1" x="317" y="51.3"/><use href="#sq1" x="319.6" y="52.9"/><use href="#sq1" x="322.3" y="55"/><use href="#sq1" x="324.9" y="56.6"/><use href="#sq1" x="327.6" y="58.3"/><use href="#sq1" x="330.2" y="60"/><use href="#sq1" x="332.9" y="62"/><use href="#sq1" x="335.5" y="64.1"/><use href="#sq1" x="338.2" y="66.1"/><use href="#sq1" x="340.8" y="68.7"/><use href="#sq1" x="343.5" y="70.8"/><use href="#sq1" x="346.1" y="71.9"/><use href="#sq1" x="348.8" y="74.4"/><use href="#sq1" x="351.4" y="77.1"/><use href="#sq1" x="354.1" y="79.3"/><use href="#sq1" x="356.7" y="81.8"/><use href="#sq1" x="359.4" y="84.1"/><use href="#sq1" x="362" y="86.9"/><use href="#sq1" x="364.7" y="88.2"/><use href="#sq1" x="367.3" y="90.6"/><use href="#sq1" x="370" y="93.6"/><use href="#sq1" x="372.6" y="95.4"/><use href="#sq1" x="375.3" y="97.5"/><use href="#sq1" x="377.9" y="99.2"/><use href="#sq1" x="380.6" y="100.8"/><use href="#sq1" x="383.2" y="103.2"/><use href="#sq1" x="385.9" y="104.8"/><use href="#sq1" x="388.5" y="105.8"/><use href="#sq1" x="391.2" y="107.2"/><use href="#sq1" x="393.8" y="108.3"/><use href="#sq1" x="396.5" y="108.8"/><use href="#sq1" x="399.1" y="109.6"/><use href="#sq1" x="401.8" y="110"/><use href="#sq1" x="404.4" y="110.3"/><use href="#sq1" x="407.1" y="110.3"/><use href="#sq1" x="409.7" y="110.8"/><use href="#sq1" x="412.4" y="111"/><use href="#sq1" x="415" y="110.9"/><use href="#sq1" x="417.7" y="110.6"/><use href="#sq1" x="420.3" y="111.1"/><use href="#sq1" x="423" y="110.7"/><use href="#sq1" x="425.6" y="111.2"/><use href="#sq1" x="428.3" y="110.6"/><use href="#sq1" x="430.9" y="111.2"/><use href="#sq1" x="433.6" y="110.9"/><use href="#sq1" x="436.2" y="110.6"/><use href="#sq1" x="438.9" y="110.9"/><use href="#sq1" x="441.5" y="111"/><use href="#sq1" x="444.2" y="111"/><use href="#sq1" x="446.8" y="110.7"/><use href="#sq1" x="449.5" y="110.6"/><use href="#sq1" x="452.1" y="111"/><use href="#sq1" x="454.8" y="110.8"/><use href="#sq1" x="457.4" y="111.1"/><use href="#sq1" x="460.1" y="111.2"/><use href="#sq1" x="462.7" y="110.6"/><use href="#sq1" x="465.4" y="111.2"/><use href="#sq1" x="468" y="111.6"/>
<use href="#sq1" x="282.5" y="146.8"/><use href="#sq1" x="285.1" y="144.1"/><use href="#sq1" x="287.8" y="141.6"/><use href="#sq1" x="290.4" y="137.6"/><use href="#sq1" x="293.1" y="133.3"/><use href="#sq1" x="295.8" y="127.2"/><use href="#sq1" x="298.4" y="120.2"/><use href="#sq1" x="301.1" y="113.3"/><use href="#sq1" x="303.7" y="104.9"/><use href="#sq1" x="306.4" y="96.8"/><use href="#sq1" x="309" y="88.1"/><use href="#sq1" x="311.7" y="79.4"/><use href="#sq1" x="314.3" y="72.7"/><use href="#sq1" x="317" y="67.6"/><use href="#sq1" x="319.6" y="62.5"/><use href="#sq1" x="322.3" y="57.7"/><use href="#sq1" x="324.9" y="54.1"/><use href="#sq1" x="327.6" y="50.5"/><use href="#sq1" x="330.2" y="46.8"/><use href="#sq1" x="332.9" y="43.3"/><use href="#sq1" x="335.5" y="39.7"/><use href="#sq1" x="338.2" y="36.5"/><use href="#sq1" x="340.8" y="33.8"/><use href="#sq1" x="343.5" y="32.1"/><use href="#sq1" x="346.1" y="29.1"/><use href="#sq1" x="348.8" y="28.7"/><use href="#sq1" x="351.4" y="27.9"/><use href="#sq1" x="354.1" y="27"/><use href="#sq1" x="356.7" y="27.8"/><use href="#sq1" x="359.4" y="27.9"/><use href="#sq1" x="362" y="29.6"/><use href="#sq1" x="364.7" y="30.8"/><use href="#sq1" x="367.3" y="33.2"/><use href="#sq1" x="370" y="36.3"/><use href="#sq1" x="372.6" y="39.7"/><use href="#sq1" x="375.3" y="43.7"/><use href="#sq1" x="377.9" y="49"/><use href="#sq1" x="380.6" y="56.8"/><use href="#sq1" x="383.2" y="63.7"/><use href="#sq1" x="385.9" y="72"/><use href="#sq1" x="388.5" y="81.4"/><use href="#sq1" x="391.2" y="90.8"/><use href="#sq1" x="393.8" y="100.5"/><use href="#sq1" x="396.5" y="108.9"/><use href="#sq1" x="399.1" y="116.8"/><use href="#sq1" x="401.8" y="123.5"/><use href="#sq1" x="404.4" y="130"/><use href="#sq1" x="407.1" y="134.3"/><use href="#sq1" x="409.7" y="139.2"/><use href="#sq1" x="412.4" y="142.9"/><use href="#sq1" x="415" y="144.4"/><use href="#sq1" x="417.7" y="146.2"/><use href="#sq1" x="420.3" y="149.2"/><use href="#sq1" x="423" y="151.4"/><use href="#sq1" x="425.6" y="151"/><use href="#sq1" x="428.3" y="151.8"/><use href="#sq1" x="430.9" y="153.1"/><use href="#sq1" x="433.6" y="153"/><use href="#sq1" x="436.2" y="153.3"/><use href="#sq1" x="438.9" y="153.5"/><use href="#sq1" x="441.5" y="153.7"/><use href="#sq1" x="444.2" y="153.1"/><use href="#sq1" x="446.8" y="152.9"/><use href="#sq1" x="449.5" y="152.1"/><use href="#sq1" x="452.1" y="151"/><use href="#sq1" x="454.8" y="150"/><use href="#sq1" x="457.4" y="148.2"/><use href="#sq1" x="460.1" y="146.7"/><use href="#sq1" x="462.7" y="143.7"/><use href="#sq1" x="465.4" y="140.6"/><use href="#sq1" x="468" y="137.8"/>
<use href="#ci1" x="282.5" y="38"/><use href="#ci1" x="285.1" y="38.4"/><use href="#ci1" x="287.8" y="39.1"/><use href="#ci1" x="290.4" y="39.5"/><use href="#ci1" x="293.1" y="40.4"/><use href="#ci1" x="295.8" y="41.5"/><use href="#ci1" x="298.4" y="42.5"/><use href="#ci1" x="301.1" y="43.2"/><use href="#ci1" x="303.7" y="44.9"/><use href="#ci1" x="306.4" y="45.6"/><use href="#ci1" x="309" y="46.7"/><use href="#ci1" x="311.7" y="48"/><use href="#ci1" x="314.3" y="49.6"/><use href="#ci1" x="317" y="51.7"/><use href="#ci1" x="319.6" y="52.6"/><use href="#ci1" x="322.3" y="54.9"/><use href="#ci1" x="324.9" y="56.1"/><use href="#ci1" x="327.6" y="58.8"/><use href="#ci1" x="330.2" y="61.2"/><use href="#ci1" x="332.9" y="63"/><use href="#ci1" x="335.5" y="65"/><use href="#ci1" x="338.2" y="67.5"/><use href="#ci1" x="340.8" y="69.8"/><use href="#ci1" x="343.5" y="72"/><use href="#ci1" x="346.1" y="74.6"/><use href="#ci1" x="348.8" y="76.3"/><use href="#ci1" x="351.4" y="78.3"/><use href="#ci1" x="354.1" y="80.7"/><use href="#ci1" x="356.7" y="82.9"/><use href="#ci1" x="359.4" y="85.2"/><use href="#ci1" x="362" y="87.4"/><use href="#ci1" x="364.7" y="89.7"/><use href="#ci1" x="367.3" y="91.3"/><use href="#ci1" x="370" y="94.3"/><use href="#ci1" x="372.6" y="96"/><use href="#ci1" x="375.3" y="98"/><use href="#ci1" x="377.9" y="100.6"/><use href="#ci1" x="380.6" y="102.9"/><use href="#ci1" x="383.2" y="104.7"/><use href="#ci1" x="385.9" y="106.4"/><use href="#ci1" x="388.5" y="107.9"/><use href="#ci1" x="391.2" y="110.6"/><use href="#ci1" x="393.8" y="111.4"/><use href="#ci1" x="396.5" y="112"/><use href="#ci1" x="399.1" y="113.1"/><use href="#ci1" x="401.8" y="114.2"/><use href="#ci1" x="404.4" y="114.3"/><use href="#ci1" x="407.1" y="115.2"/><use href="#ci1" x="409.7" y="115.4"/><use href="#ci1" x="412.4" y="116.1"/><use href="#ci1" x="415" y="116.2"/><use href="#ci1" x="417.7" y="115.2"/><use href="#ci1" x="420.3" y="116.1"/><use href="#ci1" x="423" y="115.7"/><use href="#ci1" x="425.6" y="116.6"/><use href="#ci1" x="428.3" y="116.3"/><use href="#ci1" x="430.9" y="116.5"/><use href="#ci1" x="433.6" y="116"/><use href="#ci1" x="436.2" y="116.9"/><use href="#ci1" x="438.9" y="116.9"/><use href="#ci1" x="441.5" y="116"/><use href="#ci1" x="444.2" y="116.5"/><use href="#ci1" x="446.8" y="116.2"/><use href="#ci1" x="449.5" y="116.4"/><use href="#ci1" x="452.1" y="116"/><use href="#ci1" x="454.8" y="116.9"/><use href="#ci1" x="457.4" y="116.1"/><use href="#ci1" x="460.1" y="116.3"/><use href="#ci1" x="462.7" y="116.6"/><use href="#ci1" x="465.4" y="116.3"/><use href="#ci1" x="468" y="116.5"/>
<use href="#ci1" x="282.5" y="129.4"/><use href="#ci1" x="285.1" y="124.2"/><use href="#ci1" x="287.8" y="117.8"/><use href="#ci1" x="290.4" y="112"/><use href="#ci1" x="293.1" y="106.1"/><use href="#ci1" x="295.8" y="100.6"/><use href="#ci1" x="298.4" y="95.9"/><use href="#ci1" x="301.1" y="91.4"/><use href="#ci1" x="303.7" y="87.7"/><use href="#ci1" x="306.4" y="83"/><use href="#ci1" x="309" y="78.2"/><use href="#ci1" x="311.7" y="72.5"/><use href="#ci1" x="314.3" y="66.7"/><use href="#ci1" x="317" y="60.4"/><use href="#ci1" x="319.6" y="55.3"/><use href="#ci1" x="322.3" y="49.3"/><use href="#ci1" x="324.9" y="44.8"/><use href="#ci1" x="327.6" y="41.2"/><use href="#ci1" x="330.2" y="37.8"/><use href="#ci1" x="332.9" y="34.7"/><use href="#ci1" x="335.5" y="31.8"/><use href="#ci1" x="338.2" y="31"/><use href="#ci1" x="340.8" y="29.5"/><use href="#ci1" x="343.5" y="27.8"/><use href="#ci1" x="346.1" y="27.9"/><use href="#ci1" x="348.8" y="26.8"/><use href="#ci1" x="351.4" y="26.4"/><use href="#ci1" x="354.1" y="27"/><use href="#ci1" x="356.7" y="27.1"/><use href="#ci1" x="359.4" y="27.8"/><use href="#ci1" x="362" y="27.9"/><use href="#ci1" x="364.7" y="30.4"/><use href="#ci1" x="367.3" y="30.9"/><use href="#ci1" x="370" y="32.4"/><use href="#ci1" x="372.6" y="35.7"/><use href="#ci1" x="375.3" y="38.3"/><use href="#ci1" x="377.9" y="42.3"/><use href="#ci1" x="380.6" y="46.4"/><use href="#ci1" x="383.2" y="51.8"/><use href="#ci1" x="385.9" y="58.2"/><use href="#ci1" x="388.5" y="64.9"/><use href="#ci1" x="391.2" y="73.4"/><use href="#ci1" x="393.8" y="81.5"/><use href="#ci1" x="396.5" y="90.1"/><use href="#ci1" x="399.1" y="99.3"/><use href="#ci1" x="401.8" y="107.8"/><use href="#ci1" x="404.4" y="115.3"/><use href="#ci1" x="407.1" y="121.9"/><use href="#ci1" x="409.7" y="128.5"/><use href="#ci1" x="412.4" y="132.6"/><use href="#ci1" x="415" y="137.1"/><use href="#ci1" x="417.7" y="141"/><use href="#ci1" x="420.3" y="143.3"/><use href="#ci1" x="423" y="146.2"/><use href="#ci1" x="425.6" y="148"/><use href="#ci1" x="428.3" y="149.9"/><use href="#ci1" x="430.9" y="150.3"/><use href="#ci1" x="433.6" y="151.3"/><use href="#ci1" x="436.2" y="152.3"/><use href="#ci1" x="438.9" y="151.6"/><use href="#ci1" x="441.5" y="154"/><use href="#ci1" x="444.2" y="152.5"/><use href="#ci1" x="446.8" y="152.2"/><use href="#ci1" x="449.5" y="152.5"/><use href="#ci1" x="452.1" y="151.4"/><use href="#ci1" x="454.8" y="149.8"/><use href="#ci1" x="457.4" y="149.5"/><use href="#ci1" x="460.1" y="147.9"/><use href="#ci1" x="462.7" y="145.3"/><use href="#ci1" x="465.4" y="142.6"/><use href="#ci1" x="468" y="139.5"/>
<use href="#tu1" x="282.5" y="47.9"/><use href="#tu1" x="285.1" y="48.5"/><use href="#tu1" x="287.8" y="48.6"/><use href="#tu1" x="290.4" y="48.6"/><use href="#tu1" x="293.1" y="48.8"/><use href="#tu1" x="295.8" y="49.6"/><use href="#tu1" x="298.4" y="49.9"/><use href="#tu1" x="301.1" y="51.2"/><use href="#tu1" x="303.7" y="51.7"/><use href="#tu1" x="306.4" y="52.8"/><use href="#tu1" x="309" y="53.6"/><use href="#tu1" x="311.7" y="54.7"/><use href="#tu1" x="314.3" y="55.6"/><use href="#tu1" x="317" y="57.3"/><use href="#tu1" x="319.6" y="59.1"/><use href="#tu1" x="322.3" y="60"/><use href="#tu1" x="324.9" y="61.7"/><use href="#tu1" x="327.6" y="63.6"/><use href="#tu1" x="330.2" y="65.5"/><use href="#tu1" x="332.9" y="67.4"/><use href="#tu1" x="335.5" y="69.7"/><use href="#tu1" x="338.2" y="71.7"/><use href="#tu1" x="340.8" y="74.4"/><use href="#tu1" x="343.5" y="76.2"/><use href="#tu1" x="346.1" y="78.5"/><use href="#tu1" x="348.8" y="80.9"/><use href="#tu1" x="351.4" y="82.7"/><use href="#tu1" x="354.1" y="85.5"/><use href="#tu1" x="356.7" y="87.1"/><use href="#tu1" x="359.4" y="89.3"/><use href="#tu1" x="362" y="91.7"/><use href="#tu1" x="364.7" y="94"/><use href="#tu1" x="367.3" y="95.8"/><use href="#tu1" x="370" y="98.5"/><use href="#tu1" x="372.6" y="100.2"/><use href="#tu1" x="375.3" y="103.3"/><use href="#tu1" x="377.9" y="105.1"/><use href="#tu1" x="380.6" y="107.1"/><use href="#tu1" x="383.2" y="109.1"/><use href="#tu1" x="385.9" y="111.4"/><use href="#tu1" x="388.5" y="113.5"/><use href="#tu1" x="391.2" y="115.2"/><use href="#tu1" x="393.8" y="117"/><use href="#tu1" x="396.5" y="118.9"/><use href="#tu1" x="399.1" y="120.3"/><use href="#tu1" x="401.8" y="122"/><use href="#tu1" x="404.4" y="123.1"/><use href="#tu1" x="407.1" y="123.6"/><use href="#tu1" x="409.7" y="124.3"/><use href="#tu1" x="412.4" y="124.3"/><use href="#tu1" x="415" y="125.2"/><use href="#tu1" x="417.7" y="125.3"/><use href="#tu1" x="420.3" y="125.6"/><use href="#tu1" x="423" y="126.1"/><use href="#tu1" x="425.6" y="125"/><use href="#tu1" x="428.3" y="125.8"/><use href="#tu1" x="430.9" y="125.5"/><use href="#tu1" x="433.6" y="126"/><use href="#tu1" x="436.2" y="125.5"/><use href="#tu1" x="438.9" y="125.7"/><use href="#tu1" x="441.5" y="126"/><use href="#tu1" x="444.2" y="126.1"/><use href="#tu1" x="446.8" y="125.9"/><use href="#tu1" x="449.5" y="125.7"/><use href="#tu1" x="452.1" y="125.8"/><use href="#tu1" x="454.8" y="126.2"/><use href="#tu1" x="457.4" y="125.9"/><use href="#tu1" x="460.1" y="125.4"/><use href="#tu1" x="462.7" y="126.2"/><use href="#tu1" x="465.4" y="126.1"/><use href="#tu1" x="468" y="126.2"/>
<use href="#tu1" x="282.5" y="141.5"/><use href="#tu1" x="285.1" y="138.9"/><use href="#tu1" x="287.8" y="134.6"/><use href="#tu1" x="290.4" y="131.2"/><use href="#tu1" x="293.1" y="126.3"/><use href="#tu1" x="295.8" y="121.7"/><use href="#tu1" x="298.4" y="116.5"/><use href="#tu1" x="301.1" y="110.2"/><use href="#tu1" x="303.7" y="104.8"/><use href="#tu1" x="306.4" y="99"/><use href="#tu1" x="309" y="93.5"/><use href="#tu1" x="311.7" y="87.3"/><use href="#tu1" x="314.3" y="80.4"/><use href="#tu1" x="317" y="74.8"/><use href="#tu1" x="319.6" y="68.7"/><use href="#tu1" x="322.3" y="63.1"/><use href="#tu1" x="324.9" y="55.7"/><use href="#tu1" x="327.6" y="50.8"/><use href="#tu1" x="330.2" y="46.7"/><use href="#tu1" x="332.9" y="41.5"/><use href="#tu1" x="335.5" y="37.9"/><use href="#tu1" x="338.2" y="35.6"/><use href="#tu1" x="340.8" y="33.4"/><use href="#tu1" x="343.5" y="30.7"/><use href="#tu1" x="346.1" y="29.6"/><use href="#tu1" x="348.8" y="28.3"/><use href="#tu1" x="351.4" y="27.9"/><use href="#tu1" x="354.1" y="26.7"/><use href="#tu1" x="356.7" y="26.8"/><use href="#tu1" x="359.4" y="26"/><use href="#tu1" x="362" y="26.4"/><use href="#tu1" x="364.7" y="26.9"/><use href="#tu1" x="367.3" y="28.1"/><use href="#tu1" x="370" y="28.9"/><use href="#tu1" x="372.6" y="29.8"/><use href="#tu1" x="375.3" y="32.1"/><use href="#tu1" x="377.9" y="34.4"/><use href="#tu1" x="380.6" y="36.9"/><use href="#tu1" x="383.2" y="40.3"/><use href="#tu1" x="385.9" y="44.6"/><use href="#tu1" x="388.5" y="49"/><use href="#tu1" x="391.2" y="55.8"/><use href="#tu1" x="393.8" y="62.7"/><use href="#tu1" x="396.5" y="70.1"/><use href="#tu1" x="399.1" y="79.2"/><use href="#tu1" x="401.8" y="87.3"/><use href="#tu1" x="404.4" y="96.5"/><use href="#tu1" x="407.1" y="105.2"/><use href="#tu1" x="409.7" y="114.2"/><use href="#tu1" x="412.4" y="119.9"/><use href="#tu1" x="415" y="127"/><use href="#tu1" x="417.7" y="132.5"/><use href="#tu1" x="420.3" y="136.8"/><use href="#tu1" x="423" y="140.8"/><use href="#tu1" x="425.6" y="143"/><use href="#tu1" x="428.3" y="145"/><use href="#tu1" x="430.9" y="148.2"/><use href="#tu1" x="433.6" y="149"/><use href="#tu1" x="436.2" y="150.7"/><use href="#tu1" x="438.9" y="151.4"/><use href="#tu1" x="441.5" y="153"/><use href="#tu1" x="444.2" y="153.6"/><use href="#tu1" x="446.8" y="153.4"/><use href="#tu1" x="449.5" y="154.3"/><use href="#tu1" x="452.1" y="154.1"/><use href="#tu1" x="454.8" y="154"/><use href="#tu1" x="457.4" y="154"/><use href="#tu1" x="460.1" y="153.6"/><use href="#tu1" x="462.7" y="153.5"/><use href="#tu1" x="465.4" y="152.7"/><use href="#tu1" x="468" y="151.6"/>
<use href="#td1" x="282.5" y="61"/><use href="#td1" x="285.1" y="60.9"/><use href="#td1" x="287.8" y="61.5"/><use href="#td1" x="290.4" y="61.9"/><use href="#td1" x="293.1" y="62.7"/><use href="#td1" x="295.8" y="62.6"/><use href="#td1" x="298.4" y="63.8"/><use href="#td1" x="301.1" y="63.9"/><use href="#td1" x="303.7" y="64.4"/><use href="#td1" x="306.4" y="65"/><use href="#td1" x="309" y="66.1"/><use href="#td1" x="311.7" y="66.8"/><use href="#td1" x="314.3" y="67.3"/><use href="#td1" x="317" y="68.3"/><use href="#td1" x="319.6" y="69.5"/><use href="#td1" x="322.3" y="70.6"/><use href="#td1" x="324.9" y="72.2"/><use href="#td1" x="327.6" y="73.6"/><use href="#td1" x="330.2" y="74.7"/><use href="#td1" x="332.9" y="76"/><use href="#td1" x="335.5" y="77.2"/><use href="#td1" x="338.2" y="78.9"/><use href="#td1" x="340.8" y="80.8"/><use href="#td1" x="343.5" y="82.9"/><use href="#td1" x="346.1" y="84.3"/><use href="#td1" x="348.8" y="85.7"/><use href="#td1" x="351.4" y="87.7"/><use href="#td1" x="354.1" y="89.5"/><use href="#td1" x="356.7" y="91.4"/><use href="#td1" x="359.4" y="93.6"/><use href="#td1" x="362" y="95.7"/><use href="#td1" x="364.7" y="98.3"/><use href="#td1" x="367.3" y="99.8"/><use href="#td1" x="370" y="102.3"/><use href="#td1" x="372.6" y="104.5"/><use href="#td1" x="375.3" y="106.1"/><use href="#td1" x="377.9" y="108.6"/><use href="#td1" x="380.6" y="110.4"/><use href="#td1" x="383.2" y="112.2"/><use href="#td1" x="385.9" y="114.4"/><use href="#td1" x="388.5" y="116.4"/><use href="#td1" x="391.2" y="118.4"/><use href="#td1" x="393.8" y="120.3"/><use href="#td1" x="396.5" y="122.4"/><use href="#td1" x="399.1" y="124.3"/><use href="#td1" x="401.8" y="125.7"/><use href="#td1" x="404.4" y="127.6"/><use href="#td1" x="407.1" y="128.6"/><use href="#td1" x="409.7" y="130.5"/><use href="#td1" x="412.4" y="131.8"/><use href="#td1" x="415" y="132.6"/><use href="#td1" x="417.7" y="133.4"/><use href="#td1" x="420.3" y="134.1"/><use href="#td1" x="423" y="134.3"/><use href="#td1" x="425.6" y="134.8"/><use href="#td1" x="428.3" y="135.3"/><use href="#td1" x="430.9" y="135.6"/><use href="#td1" x="433.6" y="135.6"/><use href="#td1" x="436.2" y="136.4"/><use href="#td1" x="438.9" y="135.6"/><use href="#td1" x="441.5" y="136"/><use href="#td1" x="444.2" y="136.2"/><use href="#td1" x="446.8" y="135.8"/><use href="#td1" x="449.5" y="135.6"/><use href="#td1" x="452.1" y="135.5"/><use href="#td1" x="454.8" y="136"/><use href="#td1" x="457.4" y="136.3"/><use href="#td1" x="460.1" y="136"/><use href="#td1" x="462.7" y="136"/><use href="#td1" x="465.4" y="135.9"/><use href="#td1" x="468" y="136.2"/>
<use href="#td1" x="282.5" y="135.4"/><use href="#td1" x="285.1" y="134.2"/><use href="#td1" x="287.8" y="131.7"/><use href="#td1" x="290.4" y="128.6"/><use href="#td1" x="293.1" y="127.4"/><use href="#td1" x="295.8" y="123.1"/><use href="#td1" x="298.4" y="120.2"/><use href="#td1" x="301.1" y="117"/><use href="#td1" x="303.7" y="114.6"/><use href="#td1" x="306.4" y="110.4"/><use href="#td1" x="309" y="107.5"/><use href="#td1" x="311.7" y="103.8"/><use href="#td1" x="314.3" y="99.9"/><use href="#td1" x="317" y="95.4"/><use href="#td1" x="319.6" y="91.8"/><use href="#td1" x="322.3" y="88.7"/><use href="#td1" x="324.9" y="83.4"/><use href="#td1" x="327.6" y="79.5"/><use href="#td1" x="330.2" y="75.6"/><use href="#td1" x="332.9" y="71.8"/><use href="#td1" x="335.5" y="67.5"/><use href="#td1" x="338.2" y="63.7"/><use href="#td1" x="340.8" y="59.2"/><use href="#td1" x="343.5" y="56.3"/><use href="#td1" x="346.1" y="52.8"/><use href="#td1" x="348.8" y="48.8"/><use href="#td1" x="351.4" y="47.3"/><use href="#td1" x="354.1" y="45.2"/><use href="#td1" x="356.7" y="41.8"/><use href="#td1" x="359.4" y="40.4"/><use href="#td1" x="362" y="39.5"/><use href="#td1" x="364.7" y="37.2"/><use href="#td1" x="367.3" y="36.2"/><use href="#td1" x="370" y="36"/><use href="#td1" x="372.6" y="36.1"/><use href="#td1" x="375.3" y="36.3"/><use href="#td1" x="377.9" y="37.2"/><use href="#td1" x="380.6" y="38"/><use href="#td1" x="383.2" y="38.6"/><use href="#td1" x="385.9" y="41"/><use href="#td1" x="388.5" y="43.8"/><use href="#td1" x="391.2" y="46.3"/><use href="#td1" x="393.8" y="49.6"/><use href="#td1" x="396.5" y="53.3"/><use href="#td1" x="399.1" y="58.6"/><use href="#td1" x="401.8" y="63.5"/><use href="#td1" x="404.4" y="70.6"/><use href="#td1" x="407.1" y="77.3"/><use href="#td1" x="409.7" y="85.4"/><use href="#td1" x="412.4" y="93"/><use href="#td1" x="415" y="100.2"/><use href="#td1" x="417.7" y="108.3"/><use href="#td1" x="420.3" y="115.8"/><use href="#td1" x="423" y="121.2"/><use href="#td1" x="425.6" y="127"/><use href="#td1" x="428.3" y="131.8"/><use href="#td1" x="430.9" y="135.6"/><use href="#td1" x="433.6" y="140"/><use href="#td1" x="436.2" y="143"/><use href="#td1" x="438.9" y="145"/><use href="#td1" x="441.5" y="146.6"/><use href="#td1" x="444.2" y="147.9"/><use href="#td1" x="446.8" y="149"/><use href="#td1" x="449.5" y="149.3"/><use href="#td1" x="452.1" y="150.3"/><use href="#td1" x="454.8" y="150.4"/><use href="#td1" x="457.4" y="150.1"/><use href="#td1" x="460.1" y="148.9"/><use href="#td1" x="462.7" y="148.1"/><use href="#td1" x="465.4" y="146.5"/><use href="#td1" x="468" y="145.3"/>
</g>
<use href="#sq1.2" x="425.3" y="24.1"/>
<text x="436.8" y="27.1" font-size="9" text-anchor="start" fill="#000" font-family="Liberation Serif" font-weight="bold" >0%</text>
<use href="#ci1.2" x="425.3" y="34.6"/>
<text x="436.8" y="37.6" font-size="9" text-anchor="start" fill="#000" font-family="Liberation Serif" font-weight="bold" >0.1%</text>
<use href="#tu1.2" x="425.3" y="44.9"/>
<text x="436.8" y="47.9" font-size="9" text-anchor="start" fill="#000" font-family="Liberation Serif" font-weight="bold" >1%</text>
<use href="#td1.2" x="425.3" y="55.3"/>
<text x="436.8" y="58.3" font-size="9" text-anchor="start" fill="#000" font-family="Liberation Serif" font-weight="bold" >3.5%</text>
<line x1="416.2" y1="65.8" x2="434.4" y2="65.8" stroke="#777" stroke-width="1" />
<text x="436.8" y="68.8" font-size="9" text-anchor="start" fill="#000" font-family="Liberation Serif" font-weight="bold" letter-spacing="-0.3">fitting</text>
<text transform="translate(263.5,86) rotate(-90)" font-size="13" text-anchor="middle" font-family="Liberation Serif" font-weight="bold">|Z|(Ω·cm<tspan font-size="5.9" dy="-4.9">2</tspan><tspan dy="4.9">)</tspan></text>
<text transform="translate(493,84.3) rotate(-90)" font-size="12.5" text-anchor="middle" fill="#ff0000" font-family="Liberation Serif" font-weight="bold">-θ/°</text>
<text x="375.5" y="185" font-size="12.5" text-anchor="middle" fill="#000" font-family="Liberation Serif" font-weight="bold" >Frequency(Hz)</text>
<line x1="338.5" y1="94.2" x2="352.7" y2="94.2" stroke="#000" stroke-width="1" />
<path d="M335.5,94.2 l4,-1.8 l0,3.6 Z" fill="#000"/>
<line x1="423.9" y1="87.6" x2="443.4" y2="87.6" stroke="#ff0000" stroke-width="1" />
<path d="M446.4,87.6 l-4,-1.8 l0,3.6 Z" fill="#ff0000"/>
<text x="243" y="18" font-size="15" font-family="Liberation Serif" font-weight="bold">(a<tspan font-size="8" dy="2.9" dx="0.6">2</tspan><tspan dy="-2.9" dx="0.3">)</tspan></text>
<clipPath id="clipb2"><rect x="282.5" y="192" width="185.3" height="141.3"/></clipPath>
<path d="M467.8,192 L282.5,192 L282.5,333.3 L467.8,333.3" fill="none" stroke="#000" stroke-width="1.4"/>
<line x1="467.8" y1="191.3" x2="467.8" y2="334" stroke="#ff0000" stroke-width="1.6" />
<line x1="282.5" y1="333.3" x2="282.5" y2="330.3" stroke="#000" stroke-width="1" />
<line x1="290.5" y1="333.3" x2="290.5" y2="331.7" stroke="#000" stroke-width="0.7" />
<line x1="295.1" y1="333.3" x2="295.1" y2="331.7" stroke="#000" stroke-width="0.7" />
<line x1="298.4" y1="333.3" x2="298.4" y2="331.7" stroke="#000" stroke-width="0.7" />
<line x1="301" y1="333.3" x2="301" y2="331.7" stroke="#000" stroke-width="0.7" />
<line x1="303.1" y1="333.3" x2="303.1" y2="331.7" stroke="#000" stroke-width="0.7" />
<line x1="304.9" y1="333.3" x2="304.9" y2="331.7" stroke="#000" stroke-width="0.7" />
<line x1="306.4" y1="333.3" x2="306.4" y2="331.7" stroke="#000" stroke-width="0.7" />
<line x1="307.8" y1="333.3" x2="307.8" y2="331.7" stroke="#000" stroke-width="0.7" />
<text x="284" y="345.3" font-size="9" text-anchor="middle" fill="#000" font-family="Liberation Serif" font-weight="bold">10<tspan font-size="5.4" dy="-3.4">-2</tspan></text>
<line x1="309" y1="333.3" x2="309" y2="330.3" stroke="#000" stroke-width="1" />
<line x1="316.9" y1="333.3" x2="316.9" y2="331.7" stroke="#000" stroke-width="0.7" />
<line x1="321.6" y1="333.3" x2="321.6" y2="331.7" stroke="#000" stroke-width="0.7" />
<line x1="324.9" y1="333.3" x2="324.9" y2="331.7" stroke="#000" stroke-width="0.7" />
<line x1="327.5" y1="333.3" x2="327.5" y2="331.7" stroke="#000" stroke-width="0.7" />
<line x1="329.6" y1="333.3" x2="329.6" y2="331.7" stroke="#000" stroke-width="0.7" />
<line x1="331.3" y1="333.3" x2="331.3" y2="331.7" stroke="#000" stroke-width="0.7" />
<line x1="332.9" y1="333.3" x2="332.9" y2="331.7" stroke="#000" stroke-width="0.7" />
<line x1="334.2" y1="333.3" x2="334.2" y2="331.7" stroke="#000" stroke-width="0.7" />
<text x="310.5" y="345.3" font-size="9" text-anchor="middle" fill="#000" font-family="Liberation Serif" font-weight="bold">10<tspan font-size="5.4" dy="-3.4">-1</tspan></text>
<line x1="335.4" y1="333.3" x2="335.4" y2="330.3" stroke="#000" stroke-width="1" />
<line x1="343.4" y1="333.3" x2="343.4" y2="331.7" stroke="#000" stroke-width="0.7" />
<line x1="348.1" y1="333.3" x2="348.1" y2="331.7" stroke="#000" stroke-width="0.7" />
<line x1="351.4" y1="333.3" x2="351.4" y2="331.7" stroke="#000" stroke-width="0.7" />
<line x1="353.9" y1="333.3" x2="353.9" y2="331.7" stroke="#000" stroke-width="0.7" />
<line x1="356" y1="333.3" x2="356" y2="331.7" stroke="#000" stroke-width="0.7" />
<line x1="357.8" y1="333.3" x2="357.8" y2="331.7" stroke="#000" stroke-width="0.7" />
<line x1="359.3" y1="333.3" x2="359.3" y2="331.7" stroke="#000" stroke-width="0.7" />
<line x1="360.7" y1="333.3" x2="360.7" y2="331.7" stroke="#000" stroke-width="0.7" />
<text x="336.9" y="345.3" font-size="9" text-anchor="middle" fill="#000" font-family="Liberation Serif" font-weight="bold">10<tspan font-size="5.4" dy="-3.4">0</tspan></text>
<line x1="361.9" y1="333.3" x2="361.9" y2="330.3" stroke="#000" stroke-width="1" />
<line x1="369.9" y1="333.3" x2="369.9" y2="331.7" stroke="#000" stroke-width="0.7" />
<line x1="374.5" y1="333.3" x2="374.5" y2="331.7" stroke="#000" stroke-width="0.7" />
<line x1="377.9" y1="333.3" x2="377.9" y2="331.7" stroke="#000" stroke-width="0.7" />
<line x1="380.4" y1="333.3" x2="380.4" y2="331.7" stroke="#000" stroke-width="0.7" />
<line x1="382.5" y1="333.3" x2="382.5" y2="331.7" stroke="#000" stroke-width="0.7" />
<line x1="384.3" y1="333.3" x2="384.3" y2="331.7" stroke="#000" stroke-width="0.7" />
<line x1="385.8" y1="333.3" x2="385.8" y2="331.7" stroke="#000" stroke-width="0.7" />
<line x1="387.2" y1="333.3" x2="387.2" y2="331.7" stroke="#000" stroke-width="0.7" />
<text x="363.4" y="345.3" font-size="9" text-anchor="middle" fill="#000" font-family="Liberation Serif" font-weight="bold">10<tspan font-size="5.4" dy="-3.4">1</tspan></text>
<line x1="388.4" y1="333.3" x2="388.4" y2="330.3" stroke="#000" stroke-width="1" />
<line x1="396.4" y1="333.3" x2="396.4" y2="331.7" stroke="#000" stroke-width="0.7" />
<line x1="401" y1="333.3" x2="401" y2="331.7" stroke="#000" stroke-width="0.7" />
<line x1="404.3" y1="333.3" x2="404.3" y2="331.7" stroke="#000" stroke-width="0.7" />
<line x1="406.9" y1="333.3" x2="406.9" y2="331.7" stroke="#000" stroke-width="0.7" />
<line x1="409" y1="333.3" x2="409" y2="331.7" stroke="#000" stroke-width="0.7" />
<line x1="410.8" y1="333.3" x2="410.8" y2="331.7" stroke="#000" stroke-width="0.7" />
<line x1="412.3" y1="333.3" x2="412.3" y2="331.7" stroke="#000" stroke-width="0.7" />
<line x1="413.6" y1="333.3" x2="413.6" y2="331.7" stroke="#000" stroke-width="0.7" />
<text x="389.9" y="345.3" font-size="9" text-anchor="middle" fill="#000" font-family="Liberation Serif" font-weight="bold">10<tspan font-size="5.4" dy="-3.4">2</tspan></text>
<line x1="414.9" y1="333.3" x2="414.9" y2="330.3" stroke="#000" stroke-width="1" />
<line x1="422.8" y1="333.3" x2="422.8" y2="331.7" stroke="#000" stroke-width="0.7" />
<line x1="427.5" y1="333.3" x2="427.5" y2="331.7" stroke="#000" stroke-width="0.7" />
<line x1="430.8" y1="333.3" x2="430.8" y2="331.7" stroke="#000" stroke-width="0.7" />
<line x1="433.4" y1="333.3" x2="433.4" y2="331.7" stroke="#000" stroke-width="0.7" />
<line x1="435.5" y1="333.3" x2="435.5" y2="331.7" stroke="#000" stroke-width="0.7" />
<line x1="437.2" y1="333.3" x2="437.2" y2="331.7" stroke="#000" stroke-width="0.7" />
<line x1="438.8" y1="333.3" x2="438.8" y2="331.7" stroke="#000" stroke-width="0.7" />
<line x1="440.1" y1="333.3" x2="440.1" y2="331.7" stroke="#000" stroke-width="0.7" />
<text x="416.4" y="345.3" font-size="9" text-anchor="middle" fill="#000" font-family="Liberation Serif" font-weight="bold">10<tspan font-size="5.4" dy="-3.4">3</tspan></text>
<line x1="441.3" y1="333.3" x2="441.3" y2="330.3" stroke="#000" stroke-width="1" />
<line x1="449.3" y1="333.3" x2="449.3" y2="331.7" stroke="#000" stroke-width="0.7" />
<line x1="454" y1="333.3" x2="454" y2="331.7" stroke="#000" stroke-width="0.7" />
<line x1="457.3" y1="333.3" x2="457.3" y2="331.7" stroke="#000" stroke-width="0.7" />
<line x1="459.8" y1="333.3" x2="459.8" y2="331.7" stroke="#000" stroke-width="0.7" />
<line x1="461.9" y1="333.3" x2="461.9" y2="331.7" stroke="#000" stroke-width="0.7" />
<line x1="463.7" y1="333.3" x2="463.7" y2="331.7" stroke="#000" stroke-width="0.7" />
<line x1="465.2" y1="333.3" x2="465.2" y2="331.7" stroke="#000" stroke-width="0.7" />
<line x1="466.6" y1="333.3" x2="466.6" y2="331.7" stroke="#000" stroke-width="0.7" />
<text x="442.8" y="345.3" font-size="9" text-anchor="middle" fill="#000" font-family="Liberation Serif" font-weight="bold">10<tspan font-size="5.4" dy="-3.4">4</tspan></text>
<line x1="467.8" y1="333.3" x2="467.8" y2="330.3" stroke="#000" stroke-width="1" />
<text x="469.3" y="345.3" font-size="9" text-anchor="middle" fill="#000" font-family="Liberation Serif" font-weight="bold">10<tspan font-size="5.4" dy="-3.4">5</tspan></text>
<line x1="282.5" y1="333.3" x2="285.5" y2="333.3" stroke="#000" stroke-width="1" />
<line x1="282.5" y1="326.2" x2="284.1" y2="326.2" stroke="#000" stroke-width="0.7" />
<line x1="282.5" y1="322.1" x2="284.1" y2="322.1" stroke="#000" stroke-width="0.7" />
<line x1="282.5" y1="319.1" x2="284.1" y2="319.1" stroke="#000" stroke-width="0.7" />
<line x1="282.5" y1="316.8" x2="284.1" y2="316.8" stroke="#000" stroke-width="0.7" />
<line x1="282.5" y1="315" x2="284.1" y2="315" stroke="#000" stroke-width="0.7" />
<line x1="282.5" y1="313.4" x2="284.1" y2="313.4" stroke="#000" stroke-width="0.7" />
<line x1="282.5" y1="312" x2="284.1" y2="312" stroke="#000" stroke-width="0.7" />
<line x1="282.5" y1="310.8" x2="284.1" y2="310.8" stroke="#000" stroke-width="0.7" />
<text x="279.5" y="336.3" font-size="9" text-anchor="end" fill="#000" font-family="Liberation Serif" font-weight="bold">10<tspan font-size="5.4" dy="-3.4">0</tspan></text>
<line x1="282.5" y1="309.8" x2="285.5" y2="309.8" stroke="#000" stroke-width="1" />
<line x1="282.5" y1="302.7" x2="284.1" y2="302.7" stroke="#000" stroke-width="0.7" />
<line x1="282.5" y1="298.5" x2="284.1" y2="298.5" stroke="#000" stroke-width="0.7" />
<line x1="282.5" y1="295.6" x2="284.1" y2="295.6" stroke="#000" stroke-width="0.7" />
<line x1="282.5" y1="293.3" x2="284.1" y2="293.3" stroke="#000" stroke-width="0.7" />
<line x1="282.5" y1="291.4" x2="284.1" y2="291.4" stroke="#000" stroke-width="0.7" />
<line x1="282.5" y1="289.8" x2="284.1" y2="289.8" stroke="#000" stroke-width="0.7" />
<line x1="282.5" y1="288.5" x2="284.1" y2="288.5" stroke="#000" stroke-width="0.7" />
<line x1="282.5" y1="287.3" x2="284.1" y2="287.3" stroke="#000" stroke-width="0.7" />
<text x="279.5" y="312.8" font-size="9" text-anchor="end" fill="#000" font-family="Liberation Serif" font-weight="bold">10<tspan font-size="5.4" dy="-3.4">1</tspan></text>
<line x1="282.5" y1="286.2" x2="285.5" y2="286.2" stroke="#000" stroke-width="1" />
<line x1="282.5" y1="279.1" x2="284.1" y2="279.1" stroke="#000" stroke-width="0.7" />
<line x1="282.5" y1="275" x2="284.1" y2="275" stroke="#000" stroke-width="0.7" />
<line x1="282.5" y1="272" x2="284.1" y2="272" stroke="#000" stroke-width="0.7" />
<line x1="282.5" y1="269.7" x2="284.1" y2="269.7" stroke="#000" stroke-width="0.7" />
<line x1="282.5" y1="267.9" x2="284.1" y2="267.9" stroke="#000" stroke-width="0.7" />
<line x1="282.5" y1="266.3" x2="284.1" y2="266.3" stroke="#000" stroke-width="0.7" />
<line x1="282.5" y1="264.9" x2="284.1" y2="264.9" stroke="#000" stroke-width="0.7" />
<line x1="282.5" y1="263.7" x2="284.1" y2="263.7" stroke="#000" stroke-width="0.7" />
<text x="279.5" y="289.2" font-size="9" text-anchor="end" fill="#000" font-family="Liberation Serif" font-weight="bold">10<tspan font-size="5.4" dy="-3.4">2</tspan></text>
<line x1="282.5" y1="262.6" x2="285.5" y2="262.6" stroke="#000" stroke-width="1" />
<line x1="282.5" y1="255.6" x2="284.1" y2="255.6" stroke="#000" stroke-width="0.7" />
<line x1="282.5" y1="251.4" x2="284.1" y2="251.4" stroke="#000" stroke-width="0.7" />
<line x1="282.5" y1="248.5" x2="284.1" y2="248.5" stroke="#000" stroke-width="0.7" />
<line x1="282.5" y1="246.2" x2="284.1" y2="246.2" stroke="#000" stroke-width="0.7" />
<line x1="282.5" y1="244.3" x2="284.1" y2="244.3" stroke="#000" stroke-width="0.7" />
<line x1="282.5" y1="242.7" x2="284.1" y2="242.7" stroke="#000" stroke-width="0.7" />
<line x1="282.5" y1="241.4" x2="284.1" y2="241.4" stroke="#000" stroke-width="0.7" />
<line x1="282.5" y1="240.2" x2="284.1" y2="240.2" stroke="#000" stroke-width="0.7" />
<text x="279.5" y="265.6" font-size="9" text-anchor="end" fill="#000" font-family="Liberation Serif" font-weight="bold">10<tspan font-size="5.4" dy="-3.4">3</tspan></text>
<line x1="282.5" y1="239.1" x2="285.5" y2="239.1" stroke="#000" stroke-width="1" />
<line x1="282.5" y1="232" x2="284.1" y2="232" stroke="#000" stroke-width="0.7" />
<line x1="282.5" y1="227.9" x2="284.1" y2="227.9" stroke="#000" stroke-width="0.7" />
<line x1="282.5" y1="224.9" x2="284.1" y2="224.9" stroke="#000" stroke-width="0.7" />
<line x1="282.5" y1="222.6" x2="284.1" y2="222.6" stroke="#000" stroke-width="0.7" />
<line x1="282.5" y1="220.8" x2="284.1" y2="220.8" stroke="#000" stroke-width="0.7" />
<line x1="282.5" y1="219.2" x2="284.1" y2="219.2" stroke="#000" stroke-width="0.7" />
<line x1="282.5" y1="217.8" x2="284.1" y2="217.8" stroke="#000" stroke-width="0.7" />
<line x1="282.5" y1="216.6" x2="284.1" y2="216.6" stroke="#000" stroke-width="0.7" />
<text x="279.5" y="242.1" font-size="9" text-anchor="end" fill="#000" font-family="Liberation Serif" font-weight="bold">10<tspan font-size="5.4" dy="-3.4">4</tspan></text>
<line x1="282.5" y1="215.6" x2="285.5" y2="215.6" stroke="#000" stroke-width="1" />
<line x1="282.5" y1="208.5" x2="284.1" y2="208.5" stroke="#000" stroke-width="0.7" />
<line x1="282.5" y1="204.3" x2="284.1" y2="204.3" stroke="#000" stroke-width="0.7" />
<line x1="282.5" y1="201.4" x2="284.1" y2="201.4" stroke="#000" stroke-width="0.7" />
<line x1="282.5" y1="199.1" x2="284.1" y2="199.1" stroke="#000" stroke-width="0.7" />
<line x1="282.5" y1="197.2" x2="284.1" y2="197.2" stroke="#000" stroke-width="0.7" />
<line x1="282.5" y1="195.6" x2="284.1" y2="195.6" stroke="#000" stroke-width="0.7" />
<line x1="282.5" y1="194.3" x2="284.1" y2="194.3" stroke="#000" stroke-width="0.7" />
<line x1="282.5" y1="193.1" x2="284.1" y2="193.1" stroke="#000" stroke-width="0.7" />
<text x="279.5" y="218.6" font-size="9" text-anchor="end" fill="#000" font-family="Liberation Serif" font-weight="bold">10<tspan font-size="5.4" dy="-3.4">5</tspan></text>
<line x1="282.5" y1="192" x2="285.5" y2="192" stroke="#000" stroke-width="1" />
<text x="279.5" y="195" font-size="9" text-anchor="end" fill="#000" font-family="Liberation Serif" font-weight="bold">10<tspan font-size="5.4" dy="-3.4">6</tspan></text>
<line x1="467.8" y1="333" x2="464.8" y2="333" stroke="#ff0000" stroke-width="1" />
<text x="471.8" y="336.2" font-size="9.5" text-anchor="start" fill="#ff0000" font-family="Liberation Serif" font-weight="bold" >0</text>
<line x1="467.8" y1="317.4" x2="466" y2="317.4" stroke="#ff0000" stroke-width="1" />
<line x1="467.8" y1="301.8" x2="464.8" y2="301.8" stroke="#ff0000" stroke-width="1" />
<text x="471.8" y="305" font-size="9.5" text-anchor="start" fill="#ff0000" font-family="Liberation Serif" font-weight="bold" >20</text>
<line x1="467.8" y1="286.1" x2="466" y2="286.1" stroke="#ff0000" stroke-width="1" />
<line x1="467.8" y1="270.5" x2="464.8" y2="270.5" stroke="#ff0000" stroke-width="1" />
<text x="471.8" y="273.7" font-size="9.5" text-anchor="start" fill="#ff0000" font-family="Liberation Serif" font-weight="bold" >40</text>
<line x1="467.8" y1="254.9" x2="466" y2="254.9" stroke="#ff0000" stroke-width="1" />
<line x1="467.8" y1="239.3" x2="464.8" y2="239.3" stroke="#ff0000" stroke-width="1" />
<text x="471.8" y="242.5" font-size="9.5" text-anchor="start" fill="#ff0000" font-family="Liberation Serif" font-weight="bold" >60</text>
<line x1="467.8" y1="223.6" x2="466" y2="223.6" stroke="#ff0000" stroke-width="1" />
<line x1="467.8" y1="208" x2="464.8" y2="208" stroke="#ff0000" stroke-width="1" />
<text x="471.8" y="211.2" font-size="9.5" text-anchor="start" fill="#ff0000" font-family="Liberation Serif" font-weight="bold" >80</text>
<line x1="467.8" y1="192.4" x2="466" y2="192.4" stroke="#ff0000" stroke-width="1" />
<g clip-path="url(#clipb2)">
<path d="M282.5,212.6 L283.7,212.7 L284.8,212.8 L286,213 L287.2,213.1 L288.3,213.3 L289.5,213.5 L290.7,213.7 L291.8,213.9 L293,214.2 L294.2,214.5 L295.3,214.9 L296.5,215.3 L297.7,215.7 L298.8,216.2 L300,216.7 L301.1,217.2 L302.3,217.8 L303.5,218.4 L304.6,219.1 L305.8,219.7 L307,220.5 L308.1,221.2 L309.3,222 L310.5,222.8 L311.6,223.6 L312.8,224.5 L314,225.3 L315.1,226.2 L316.3,227.1 L317.5,228 L318.6,228.9 L319.8,229.8 L321,230.7 L322.1,231.6 L323.3,232.6 L324.5,233.5 L325.6,234.5 L326.8,235.4 L328,236.4 L329.1,237.3 L330.3,238.3 L331.4,239.2 L332.6,240.2 L333.8,241.2 L334.9,242.1 L336.1,243.1 L337.3,244.1 L338.4,245 L339.6,246 L340.8,247 L341.9,247.9 L343.1,248.9 L344.3,249.9 L345.4,250.8 L346.6,251.8 L347.8,252.8 L348.9,253.8 L350.1,254.7 L351.3,255.7 L352.4,256.7 L353.6,257.6 L354.8,258.6 L355.9,259.6 L357.1,260.5 L358.3,261.5 L359.4,262.5 L360.6,263.4 L361.7,264.4 L362.9,265.4 L364.1,266.3 L365.2,267.3 L366.4,268.2 L367.6,269.1 L368.7,270.1 L369.9,271 L371.1,271.9 L372.2,272.8 L373.4,273.7 L374.6,274.6 L375.7,275.4 L376.9,276.3 L378.1,277.1 L379.2,277.9 L380.4,278.7 L381.6,279.5 L382.7,280.2 L383.9,281 L385.1,281.7 L386.2,282.3 L387.4,283 L388.6,283.6 L389.7,284.2 L390.9,284.7 L392,285.2 L393.2,285.7 L394.4,286.2 L395.5,286.6 L396.7,287 L397.9,287.3 L399,287.6 L400.2,287.9 L401.4,288.1 L402.5,288.3 L403.7,288.5 L404.9,288.7 L406,288.8 L407.2,288.9 L408.4,289 L409.5,289.1 L410.7,289.2 L411.9,289.2 L413,289.3 L414.2,289.3 L415.4,289.3 L416.5,289.4 L417.7,289.4 L418.9,289.4 L420,289.4 L421.2,289.4 L422.3,289.4 L423.5,289.5 L424.7,289.5 L425.8,289.5 L427,289.5 L428.2,289.5 L429.3,289.5 L430.5,289.5 L431.7,289.5 L432.8,289.5 L434,289.5 L435.2,289.5 L436.3,289.5 L437.5,289.5 L438.7,289.5 L439.8,289.5 L441,289.5 L442.2,289.5 L443.3,289.5 L444.5,289.5 L445.7,289.5 L446.8,289.5 L448,289.5 L449.2,289.5 L450.3,289.5 L451.5,289.5 L452.6,289.5 L453.8,289.5 L455,289.5 L456.1,289.5 L457.3,289.5 L458.5,289.5 L459.6,289.5 L460.8,289.5 L462,289.5 L463.1,289.5 L464.3,289.5 L465.5,289.5 L466.6,289.5 L467.8,289.5" fill="none" stroke="#555555" stroke-width="0.7" />
<path d="M282.5,309.8 L283.7,307.7 L284.8,305.5 L286,303.1 L287.2,300.6 L288.3,297.8 L289.5,295 L290.7,291.9 L291.8,288.7 L293,285.4 L294.2,282 L295.3,278.4 L296.5,274.8 L297.7,271.1 L298.8,267.3 L300,263.6 L301.1,259.9 L302.3,256.3 L303.5,252.7 L304.6,249.2 L305.8,245.9 L307,242.7 L308.1,239.6 L309.3,236.7 L310.5,234 L311.6,231.4 L312.8,229 L314,226.8 L315.1,224.7 L316.3,222.7 L317.5,220.9 L318.6,219.3 L319.8,217.8 L321,216.4 L322.1,215.1 L323.3,213.9 L324.5,212.8 L325.6,211.8 L326.8,211 L328,210.1 L329.1,209.4 L330.3,208.7 L331.4,208.1 L332.6,207.6 L333.8,207.1 L334.9,206.7 L336.1,206.3 L337.3,206 L338.4,205.7 L339.6,205.5 L340.8,205.3 L341.9,205.1 L343.1,205 L344.3,205 L345.4,204.9 L346.6,205 L347.8,205 L348.9,205.1 L350.1,205.3 L351.3,205.5 L352.4,205.7 L353.6,206 L354.8,206.4 L355.9,206.8 L357.1,207.2 L358.3,207.7 L359.4,208.3 L360.6,209 L361.7,209.7 L362.9,210.5 L364.1,211.4 L365.2,212.4 L366.4,213.5 L367.6,214.7 L368.7,216 L369.9,217.4 L371.1,218.9 L372.2,220.5 L373.4,222.3 L374.6,224.2 L375.7,226.2 L376.9,228.3 L378.1,230.6 L379.2,233 L380.4,235.6 L381.6,238.3 L382.7,241 L383.9,243.9 L385.1,247 L386.2,250.1 L387.4,253.3 L388.6,256.6 L389.7,259.9 L390.9,263.3 L392,266.8 L393.2,270.3 L394.4,273.8 L395.5,277.3 L396.7,280.8 L397.9,284.2 L399,287.6 L400.2,290.9 L401.4,294 L402.5,297 L403.7,299.9 L404.9,302.6 L406,305.2 L407.2,307.5 L408.4,309.8 L409.5,311.8 L410.7,313.7 L411.9,315.5 L413,317.1 L414.2,318.5 L415.4,319.9 L416.5,321.1 L417.7,322.2 L418.9,323.2 L420,324.1 L421.2,324.9 L422.3,325.7 L423.5,326.3 L424.7,326.9 L425.8,327.5 L427,328 L428.2,328.4 L429.3,328.8 L430.5,329.1 L431.7,329.4 L432.8,329.7 L434,329.9 L435.2,330.1 L436.3,330.3 L437.5,330.5 L438.7,330.6 L439.8,330.7 L441,330.8 L442.2,330.8 L443.3,330.8 L444.5,330.8 L445.7,330.8 L446.8,330.8 L448,330.7 L449.2,330.6 L450.3,330.5 L451.5,330.4 L452.6,330.2 L453.8,330 L455,329.8 L456.1,329.6 L457.3,329.3 L458.5,328.9 L459.6,328.6 L460.8,328.2 L462,327.7 L463.1,327.2 L464.3,326.6 L465.5,326 L466.6,325.2 L467.8,324.5" fill="none" stroke="#555555" stroke-width="0.7" />
<path d="M282.5,212.5 L283.7,212.7 L284.8,212.8 L286,213 L287.2,213.3 L288.3,213.5 L289.5,213.8 L290.7,214.2 L291.8,214.5 L293,214.9 L294.2,215.4 L295.3,215.8 L296.5,216.3 L297.7,216.9 L298.8,217.5 L300,218.1 L301.1,218.7 L302.3,219.4 L303.5,220.1 L304.6,220.8 L305.8,221.5 L307,222.3 L308.1,223 L309.3,223.8 L310.5,224.6 L311.6,225.4 L312.8,226.2 L314,227.1 L315.1,227.9 L316.3,228.7 L317.5,229.6 L318.6,230.4 L319.8,231.3 L321,232.1 L322.1,233 L323.3,233.8 L324.5,234.7 L325.6,235.6 L326.8,236.5 L328,237.4 L329.1,238.3 L330.3,239.2 L331.4,240.1 L332.6,241 L333.8,242 L334.9,242.9 L336.1,243.9 L337.3,244.8 L338.4,245.8 L339.6,246.8 L340.8,247.8 L341.9,248.7 L343.1,249.7 L344.3,250.7 L345.4,251.7 L346.6,252.7 L347.8,253.7 L348.9,254.7 L350.1,255.7 L351.3,256.7 L352.4,257.7 L353.6,258.7 L354.8,259.7 L355.9,260.8 L357.1,261.8 L358.3,262.8 L359.4,263.8 L360.6,264.8 L361.7,265.8 L362.9,266.8 L364.1,267.8 L365.2,268.8 L366.4,269.8 L367.6,270.8 L368.7,271.8 L369.9,272.8 L371.1,273.8 L372.2,274.7 L373.4,275.7 L374.6,276.7 L375.7,277.6 L376.9,278.5 L378.1,279.5 L379.2,280.4 L380.4,281.2 L381.6,282.1 L382.7,282.9 L383.9,283.7 L385.1,284.5 L386.2,285.2 L387.4,285.9 L388.6,286.5 L389.7,287.1 L390.9,287.7 L392,288.2 L393.2,288.6 L394.4,289 L395.5,289.3 L396.7,289.7 L397.9,289.9 L399,290.2 L400.2,290.3 L401.4,290.5 L402.5,290.7 L403.7,290.8 L404.9,290.9 L406,291 L407.2,291.1 L408.4,291.1 L409.5,291.2 L410.7,291.2 L411.9,291.2 L413,291.3 L414.2,291.3 L415.4,291.3 L416.5,291.3 L417.7,291.4 L418.9,291.4 L420,291.4 L421.2,291.4 L422.3,291.4 L423.5,291.4 L424.7,291.4 L425.8,291.4 L427,291.4 L428.2,291.4 L429.3,291.4 L430.5,291.4 L431.7,291.4 L432.8,291.4 L434,291.4 L435.2,291.4 L436.3,291.4 L437.5,291.4 L438.7,291.4 L439.8,291.4 L441,291.4 L442.2,291.4 L443.3,291.4 L444.5,291.4 L445.7,291.4 L446.8,291.4 L448,291.4 L449.2,291.4 L450.3,291.4 L451.5,291.4 L452.6,291.4 L453.8,291.4 L455,291.4 L456.1,291.4 L457.3,291.4 L458.5,291.4 L459.6,291.4 L460.8,291.4 L462,291.4 L463.1,291.4 L464.3,291.4 L465.5,291.5 L466.6,291.5 L467.8,291.5" fill="none" stroke="#555555" stroke-width="0.7" />
<path d="M282.5,302.5 L283.7,300 L284.8,297.3 L286,294.5 L287.2,291.5 L288.3,288.5 L289.5,285.3 L290.7,282 L291.8,278.7 L293,275.3 L294.2,271.8 L295.3,268.4 L296.5,265 L297.7,261.7 L298.8,258.4 L300,255.2 L301.1,252.2 L302.3,249.3 L303.5,246.5 L304.6,243.9 L305.8,241.4 L307,239.1 L308.1,236.9 L309.3,234.9 L310.5,233 L311.6,231.2 L312.8,229.5 L314,228 L315.1,226.5 L316.3,225.1 L317.5,223.8 L318.6,222.6 L319.8,221.3 L321,220.2 L322.1,219 L323.3,217.9 L324.5,216.8 L325.6,215.7 L326.8,214.7 L328,213.6 L329.1,212.6 L330.3,211.6 L331.4,210.6 L332.6,209.7 L333.8,208.8 L334.9,207.9 L336.1,207.1 L337.3,206.4 L338.4,205.7 L339.6,205 L340.8,204.4 L341.9,203.9 L343.1,203.4 L344.3,203 L345.4,202.6 L346.6,202.3 L347.8,202 L348.9,201.9 L350.1,201.7 L351.3,201.6 L352.4,201.6 L353.6,201.7 L354.8,201.8 L355.9,202 L357.1,202.2 L358.3,202.5 L359.4,202.9 L360.6,203.3 L361.7,203.8 L362.9,204.5 L364.1,205.2 L365.2,206 L366.4,206.9 L367.6,207.9 L368.7,209 L369.9,210.3 L371.1,211.7 L372.2,213.2 L373.4,215 L374.6,216.8 L375.7,218.9 L376.9,221.2 L378.1,223.6 L379.2,226.3 L380.4,229.2 L381.6,232.3 L382.7,235.6 L383.9,239.1 L385.1,242.8 L386.2,246.7 L387.4,250.7 L388.6,254.9 L389.7,259.1 L390.9,263.4 L392,267.7 L393.2,272 L394.4,276.2 L395.5,280.3 L396.7,284.2 L397.9,288 L399,291.6 L400.2,295 L401.4,298.2 L402.5,301.2 L403.7,303.9 L404.9,306.5 L406,308.9 L407.2,311 L408.4,313 L409.5,314.8 L410.7,316.5 L411.9,318 L413,319.4 L414.2,320.7 L415.4,321.8 L416.5,322.8 L417.7,323.8 L418.9,324.6 L420,325.4 L421.2,326.1 L422.3,326.7 L423.5,327.3 L424.7,327.8 L425.8,328.3 L427,328.7 L428.2,329.1 L429.3,329.4 L430.5,329.7 L431.7,330 L432.8,330.2 L434,330.4 L435.2,330.6 L436.3,330.8 L437.5,330.9 L438.7,331 L439.8,331.1 L441,331.2 L442.2,331.3 L443.3,331.3 L444.5,331.3 L445.7,331.3 L446.8,331.3 L448,331.3 L449.2,331.3 L450.3,331.2 L451.5,331.1 L452.6,331 L453.8,330.9 L455,330.8 L456.1,330.6 L457.3,330.4 L458.5,330.2 L459.6,330 L460.8,329.7 L462,329.4 L463.1,329.1 L464.3,328.7 L465.5,328.3 L466.6,327.8 L467.8,327.3" fill="none" stroke="#555555" stroke-width="0.7" />
<path d="M282.5,230.4 L283.7,230.5 L284.8,230.7 L286,230.9 L287.2,231.1 L288.3,231.3 L289.5,231.5 L290.7,231.7 L291.8,231.9 L293,232.1 L294.2,232.4 L295.3,232.6 L296.5,232.9 L297.7,233.1 L298.8,233.4 L300,233.6 L301.1,233.9 L302.3,234.1 L303.5,234.4 L304.6,234.7 L305.8,234.9 L307,235.2 L308.1,235.5 L309.3,235.8 L310.5,236.2 L311.6,236.5 L312.8,236.9 L314,237.3 L315.1,237.7 L316.3,238.2 L317.5,238.7 L318.6,239.3 L319.8,239.8 L321,240.4 L322.1,241.1 L323.3,241.8 L324.5,242.5 L325.6,243.2 L326.8,244 L328,244.8 L329.1,245.6 L330.3,246.4 L331.4,247.3 L332.6,248.1 L333.8,249 L334.9,249.9 L336.1,250.8 L337.3,251.7 L338.4,252.6 L339.6,253.5 L340.8,254.4 L341.9,255.3 L343.1,256.3 L344.3,257.2 L345.4,258.1 L346.6,259 L347.8,260 L348.9,260.9 L350.1,261.8 L351.3,262.8 L352.4,263.7 L353.6,264.7 L354.8,265.6 L355.9,266.5 L357.1,267.5 L358.3,268.4 L359.4,269.3 L360.6,270.3 L361.7,271.2 L362.9,272.1 L364.1,273 L365.2,274 L366.4,274.9 L367.6,275.8 L368.7,276.7 L369.9,277.7 L371.1,278.6 L372.2,279.5 L373.4,280.4 L374.6,281.3 L375.7,282.2 L376.9,283.1 L378.1,284 L379.2,284.9 L380.4,285.8 L381.6,286.6 L382.7,287.5 L383.9,288.3 L385.1,289.2 L386.2,290 L387.4,290.8 L388.6,291.6 L389.7,292.4 L390.9,293.1 L392,293.9 L393.2,294.6 L394.4,295.3 L395.5,295.9 L396.7,296.5 L397.9,297.1 L399,297.7 L400.2,298.2 L401.4,298.7 L402.5,299.1 L403.7,299.5 L404.9,299.9 L406,300.3 L407.2,300.6 L408.4,300.8 L409.5,301.1 L410.7,301.3 L411.9,301.5 L413,301.7 L414.2,301.9 L415.4,302 L416.5,302.1 L417.7,302.2 L418.9,302.3 L420,302.4 L421.2,302.5 L422.3,302.6 L423.5,302.6 L424.7,302.7 L425.8,302.7 L427,302.7 L428.2,302.8 L429.3,302.8 L430.5,302.8 L431.7,302.9 L432.8,302.9 L434,302.9 L435.2,302.9 L436.3,302.9 L437.5,303 L438.7,303 L439.8,303 L441,303 L442.2,303 L443.3,303 L444.5,303 L445.7,303 L446.8,303 L448,303 L449.2,303.1 L450.3,303.1 L451.5,303.1 L452.6,303.1 L453.8,303.1 L455,303.1 L456.1,303.1 L457.3,303.1 L458.5,303.1 L459.6,303.1 L460.8,303.1 L462,303.1 L463.1,303.2 L464.3,303.2 L465.5,303.2 L466.6,303.2 L467.8,303.3" fill="none" stroke="#555555" stroke-width="0.7" />
<path d="M282.5,311.3 L283.7,310.1 L284.8,308.9 L286,307.7 L287.2,306.4 L288.3,305.2 L289.5,304 L290.7,302.8 L291.8,301.6 L293,300.4 L294.2,299.3 L295.3,298.1 L296.5,296.9 L297.7,295.8 L298.8,294.6 L300,293.3 L301.1,292 L302.3,290.6 L303.5,289.1 L304.6,287.5 L305.8,285.8 L307,283.9 L308.1,281.9 L309.3,279.7 L310.5,277.3 L311.6,274.8 L312.8,272.1 L314,269.3 L315.1,266.3 L316.3,263.3 L317.5,260.2 L318.6,257 L319.8,253.9 L321,250.8 L322.1,247.7 L323.3,244.7 L324.5,241.8 L325.6,239 L326.8,236.4 L328,233.9 L329.1,231.6 L330.3,229.4 L331.4,227.4 L332.6,225.5 L333.8,223.8 L334.9,222.2 L336.1,220.8 L337.3,219.5 L338.4,218.3 L339.6,217.2 L340.8,216.2 L341.9,215.4 L343.1,214.6 L344.3,213.9 L345.4,213.3 L346.6,212.8 L347.8,212.3 L348.9,211.9 L350.1,211.6 L351.3,211.3 L352.4,211.1 L353.6,211 L354.8,210.9 L355.9,210.8 L357.1,210.8 L358.3,210.9 L359.4,211 L360.6,211.1 L361.7,211.3 L362.9,211.6 L364.1,211.9 L365.2,212.2 L366.4,212.6 L367.6,213.1 L368.7,213.6 L369.9,214.2 L371.1,214.9 L372.2,215.6 L373.4,216.4 L374.6,217.3 L375.7,218.3 L376.9,219.4 L378.1,220.5 L379.2,221.8 L380.4,223.2 L381.6,224.7 L382.7,226.3 L383.9,228 L385.1,229.9 L386.2,231.9 L387.4,234 L388.6,236.3 L389.7,238.8 L390.9,241.4 L392,244.1 L393.2,247 L394.4,250 L395.5,253.1 L396.7,256.3 L397.9,259.6 L399,263 L400.2,266.4 L401.4,269.8 L402.5,273.2 L403.7,276.6 L404.9,280 L406,283.2 L407.2,286.4 L408.4,289.5 L409.5,292.5 L410.7,295.3 L411.9,298 L413,300.5 L414.2,302.9 L415.4,305.2 L416.5,307.3 L417.7,309.3 L418.9,311.1 L420,312.8 L421.2,314.4 L422.3,315.8 L423.5,317.2 L424.7,318.4 L425.8,319.5 L427,320.5 L428.2,321.5 L429.3,322.3 L430.5,323.1 L431.7,323.8 L432.8,324.4 L434,325 L435.2,325.5 L436.3,325.9 L437.5,326.3 L438.7,326.7 L439.8,326.9 L441,327.2 L442.2,327.4 L443.3,327.5 L444.5,327.6 L445.7,327.6 L446.8,327.6 L448,327.5 L449.2,327.4 L450.3,327.2 L451.5,327 L452.6,326.8 L453.8,326.4 L455,326 L456.1,325.6 L457.3,325 L458.5,324.4 L459.6,323.7 L460.8,322.9 L462,322 L463.1,321 L464.3,319.9 L465.5,318.7 L466.6,317.3 L467.8,315.8" fill="none" stroke="#555555" stroke-width="0.7" />
<path d="M282.5,233.3 L283.7,233.4 L284.8,233.4 L286,233.5 L287.2,233.6 L288.3,233.7 L289.5,233.8 L290.7,233.9 L291.8,234 L293,234.1 L294.2,234.3 L295.3,234.4 L296.5,234.6 L297.7,234.7 L298.8,234.9 L300,235 L301.1,235.2 L302.3,235.4 L303.5,235.6 L304.6,235.8 L305.8,236 L307,236.2 L308.1,236.4 L309.3,236.7 L310.5,236.9 L311.6,237.2 L312.8,237.5 L314,237.8 L315.1,238.2 L316.3,238.6 L317.5,239 L318.6,239.4 L319.8,239.9 L321,240.5 L322.1,241.1 L323.3,241.7 L324.5,242.4 L325.6,243.1 L326.8,243.8 L328,244.6 L329.1,245.4 L330.3,246.3 L331.4,247.1 L332.6,248 L333.8,248.9 L334.9,249.8 L336.1,250.7 L337.3,251.6 L338.4,252.6 L339.6,253.5 L340.8,254.5 L341.9,255.4 L343.1,256.4 L344.3,257.3 L345.4,258.3 L346.6,259.3 L347.8,260.2 L348.9,261.2 L350.1,262.2 L351.3,263.1 L352.4,264.1 L353.6,265 L354.8,266 L355.9,267 L357.1,267.9 L358.3,268.9 L359.4,269.8 L360.6,270.8 L361.7,271.8 L362.9,272.7 L364.1,273.7 L365.2,274.6 L366.4,275.6 L367.6,276.5 L368.7,277.5 L369.9,278.4 L371.1,279.4 L372.2,280.3 L373.4,281.2 L374.6,282.2 L375.7,283.1 L376.9,284.1 L378.1,285 L379.2,285.9 L380.4,286.8 L381.6,287.8 L382.7,288.7 L383.9,289.6 L385.1,290.5 L386.2,291.4 L387.4,292.3 L388.6,293.3 L389.7,294.1 L390.9,295 L392,295.9 L393.2,296.8 L394.4,297.7 L395.5,298.5 L396.7,299.4 L397.9,300.2 L399,301.1 L400.2,301.9 L401.4,302.7 L402.5,303.5 L403.7,304.2 L404.9,305 L406,305.7 L407.2,306.4 L408.4,307.1 L409.5,307.7 L410.7,308.4 L411.9,309 L413,309.5 L414.2,310 L415.4,310.5 L416.5,311 L417.7,311.4 L418.9,311.8 L420,312.2 L421.2,312.5 L422.3,312.8 L423.5,313 L424.7,313.3 L425.8,313.5 L427,313.7 L428.2,313.9 L429.3,314 L430.5,314.2 L431.7,314.3 L432.8,314.4 L434,314.5 L435.2,314.6 L436.3,314.7 L437.5,314.8 L438.7,314.8 L439.8,314.9 L441,314.9 L442.2,315 L443.3,315 L444.5,315.1 L445.7,315.1 L446.8,315.1 L448,315.1 L449.2,315.2 L450.3,315.2 L451.5,315.2 L452.6,315.2 L453.8,315.2 L455,315.3 L456.1,315.3 L457.3,315.3 L458.5,315.3 L459.6,315.3 L460.8,315.3 L462,315.3 L463.1,315.3 L464.3,315.3 L465.5,315.3 L466.6,315.4 L467.8,315.4" fill="none" stroke="#555555" stroke-width="0.7" />
<path d="M282.5,321.1 L283.7,320.2 L284.8,319.4 L286,318.4 L287.2,317.5 L288.3,316.4 L289.5,315.4 L290.7,314.3 L291.8,313.1 L293,311.9 L294.2,310.7 L295.3,309.4 L296.5,308.1 L297.7,306.7 L298.8,305.3 L300,303.9 L301.1,302.3 L302.3,300.7 L303.5,299 L304.6,297.2 L305.8,295.3 L307,293.3 L308.1,291.2 L309.3,288.8 L310.5,286.4 L311.6,283.7 L312.8,280.9 L314,277.8 L315.1,274.6 L316.3,271.3 L317.5,267.8 L318.6,264.2 L319.8,260.6 L321,256.9 L322.1,253.2 L323.3,249.5 L324.5,246 L325.6,242.5 L326.8,239.2 L328,236.1 L329.1,233.1 L330.3,230.4 L331.4,227.8 L332.6,225.4 L333.8,223.3 L334.9,221.3 L336.1,219.4 L337.3,217.8 L338.4,216.3 L339.6,215 L340.8,213.8 L341.9,212.7 L343.1,211.8 L344.3,210.9 L345.4,210.2 L346.6,209.5 L347.8,208.9 L348.9,208.4 L350.1,208 L351.3,207.6 L352.4,207.3 L353.6,207.1 L354.8,206.8 L355.9,206.7 L357.1,206.6 L358.3,206.5 L359.4,206.5 L360.6,206.5 L361.7,206.5 L362.9,206.6 L364.1,206.7 L365.2,206.8 L366.4,206.9 L367.6,207.1 L368.7,207.4 L369.9,207.6 L371.1,207.9 L372.2,208.2 L373.4,208.6 L374.6,208.9 L375.7,209.4 L376.9,209.8 L378.1,210.3 L379.2,210.8 L380.4,211.4 L381.6,212.1 L382.7,212.7 L383.9,213.5 L385.1,214.3 L386.2,215.1 L387.4,216 L388.6,217 L389.7,218.1 L390.9,219.3 L392,220.5 L393.2,221.8 L394.4,223.3 L395.5,224.8 L396.7,226.5 L397.9,228.2 L399,230.1 L400.2,232.1 L401.4,234.3 L402.5,236.5 L403.7,238.9 L404.9,241.4 L406,244.1 L407.2,246.9 L408.4,249.8 L409.5,252.8 L410.7,255.8 L411.9,259 L413,262.2 L414.2,265.5 L415.4,268.8 L416.5,272.1 L417.7,275.4 L418.9,278.6 L420,281.8 L421.2,284.9 L422.3,287.9 L423.5,290.9 L424.7,293.7 L425.8,296.3 L427,298.9 L428.2,301.3 L429.3,303.6 L430.5,305.7 L431.7,307.7 L432.8,309.6 L434,311.4 L435.2,313 L436.3,314.5 L437.5,315.9 L438.7,317.3 L439.8,318.5 L441,319.6 L442.2,320.6 L443.3,321.6 L444.5,322.4 L445.7,323.2 L446.8,324 L448,324.6 L449.2,325.3 L450.3,325.8 L451.5,326.3 L452.6,326.8 L453.8,327.2 L455,327.6 L456.1,327.9 L457.3,328.2 L458.5,328.5 L459.6,328.7 L460.8,328.9 L462,329 L463.1,329.2 L464.3,329.3 L465.5,329.3 L466.6,329.4 L467.8,329.4" fill="none" stroke="#555555" stroke-width="0.7" />
<use href="#sq1" x="282.5" y="212.7"/><use href="#sq1" x="285.1" y="213.1"/><use href="#sq1" x="287.8" y="213.3"/><use href="#sq1" x="290.4" y="213.3"/><use href="#sq1" x="293.1" y="214.5"/><use href="#sq1" x="295.7" y="215.2"/><use href="#sq1" x="298.4" y="215.8"/><use href="#sq1" x="301" y="217.3"/><use href="#sq1" x="303.7" y="218.6"/><use href="#sq1" x="306.3" y="220.2"/><use href="#sq1" x="309" y="221.8"/><use href="#sq1" x="311.6" y="223.8"/><use href="#sq1" x="314.3" y="225.3"/><use href="#sq1" x="316.9" y="227.5"/><use href="#sq1" x="319.6" y="229.5"/><use href="#sq1" x="322.2" y="231.9"/><use href="#sq1" x="324.9" y="233.8"/><use href="#sq1" x="327.5" y="235.9"/><use href="#sq1" x="330.1" y="237.9"/><use href="#sq1" x="332.8" y="240.3"/><use href="#sq1" x="335.4" y="242.5"/><use href="#sq1" x="338.1" y="244.6"/><use href="#sq1" x="340.7" y="247.3"/><use href="#sq1" x="343.4" y="249.4"/><use href="#sq1" x="346" y="250.5"/><use href="#sq1" x="348.7" y="253"/><use href="#sq1" x="351.3" y="255.7"/><use href="#sq1" x="354" y="257.8"/><use href="#sq1" x="356.6" y="260.2"/><use href="#sq1" x="359.3" y="262.4"/><use href="#sq1" x="361.9" y="265.2"/><use href="#sq1" x="364.6" y="266.4"/><use href="#sq1" x="367.2" y="268.7"/><use href="#sq1" x="369.9" y="271.6"/><use href="#sq1" x="372.5" y="273.2"/><use href="#sq1" x="375.2" y="275.2"/><use href="#sq1" x="377.8" y="276.8"/><use href="#sq1" x="380.4" y="278.3"/><use href="#sq1" x="383.1" y="280.5"/><use href="#sq1" x="385.7" y="282.1"/><use href="#sq1" x="388.4" y="283.1"/><use href="#sq1" x="391" y="284.6"/><use href="#sq1" x="393.7" y="285.9"/><use href="#sq1" x="396.3" y="286.5"/><use href="#sq1" x="399" y="287.6"/><use href="#sq1" x="401.6" y="288.2"/><use href="#sq1" x="404.3" y="288.6"/><use href="#sq1" x="406.9" y="288.7"/><use href="#sq1" x="409.6" y="289.3"/><use href="#sq1" x="412.2" y="289.5"/><use href="#sq1" x="414.9" y="289.4"/><use href="#sq1" x="417.5" y="289.1"/><use href="#sq1" x="420.2" y="289.6"/><use href="#sq1" x="422.8" y="289.3"/><use href="#sq1" x="425.4" y="289.7"/><use href="#sq1" x="428.1" y="289.1"/><use href="#sq1" x="430.7" y="289.8"/><use href="#sq1" x="433.4" y="289.5"/><use href="#sq1" x="436" y="289.1"/><use href="#sq1" x="438.7" y="289.4"/><use href="#sq1" x="441.3" y="289.5"/><use href="#sq1" x="444" y="289.6"/><use href="#sq1" x="446.6" y="289.2"/><use href="#sq1" x="449.3" y="289.2"/><use href="#sq1" x="451.9" y="289.6"/><use href="#sq1" x="454.6" y="289.4"/><use href="#sq1" x="457.2" y="289.6"/><use href="#sq1" x="459.9" y="289.7"/><use href="#sq1" x="462.5" y="289"/><use href="#sq1" x="465.2" y="289.6"/><use href="#sq1" x="467.8" y="289.9"/>
<use href="#sq1" x="282.5" y="309.6"/><use href="#sq1" x="285.1" y="304.5"/><use href="#sq1" x="287.8" y="299.4"/><use href="#sq1" x="290.4" y="292.6"/><use href="#sq1" x="293.1" y="285.5"/><use href="#sq1" x="295.7" y="277"/><use href="#sq1" x="298.4" y="268.1"/><use href="#sq1" x="301" y="260.2"/><use href="#sq1" x="303.7" y="251.9"/><use href="#sq1" x="306.3" y="244.8"/><use href="#sq1" x="309" y="237.6"/><use href="#sq1" x="311.6" y="230.8"/><use href="#sq1" x="314.3" y="225.7"/><use href="#sq1" x="316.9" y="222.1"/><use href="#sq1" x="319.6" y="218.3"/><use href="#sq1" x="322.2" y="214.7"/><use href="#sq1" x="324.9" y="212.5"/><use href="#sq1" x="327.5" y="210.6"/><use href="#sq1" x="330.1" y="209"/><use href="#sq1" x="332.8" y="207.9"/><use href="#sq1" x="335.4" y="206.6"/><use href="#sq1" x="338.1" y="205.7"/><use href="#sq1" x="340.7" y="205.2"/><use href="#sq1" x="343.4" y="205.4"/><use href="#sq1" x="346" y="204"/><use href="#sq1" x="348.7" y="205"/><use href="#sq1" x="351.3" y="205.5"/><use href="#sq1" x="354" y="205.5"/><use href="#sq1" x="356.6" y="207.2"/><use href="#sq1" x="359.3" y="208"/><use href="#sq1" x="361.9" y="210.2"/><use href="#sq1" x="364.6" y="211.8"/><use href="#sq1" x="367.2" y="214.6"/><use href="#sq1" x="369.9" y="217.8"/><use href="#sq1" x="372.5" y="221.1"/><use href="#sq1" x="375.2" y="224.8"/><use href="#sq1" x="377.8" y="229.5"/><use href="#sq1" x="380.4" y="236.4"/><use href="#sq1" x="383.1" y="241.9"/><use href="#sq1" x="385.7" y="248.5"/><use href="#sq1" x="388.4" y="256.1"/><use href="#sq1" x="391" y="263.7"/><use href="#sq1" x="393.7" y="272.1"/><use href="#sq1" x="396.3" y="279.7"/><use href="#sq1" x="399" y="287.4"/><use href="#sq1" x="401.6" y="294.4"/><use href="#sq1" x="404.3" y="301.4"/><use href="#sq1" x="406.9" y="306.6"/><use href="#sq1" x="409.6" y="312.1"/><use href="#sq1" x="412.2" y="316.6"/><use href="#sq1" x="414.9" y="318.7"/><use href="#sq1" x="417.5" y="321"/><use href="#sq1" x="420.2" y="324.4"/><use href="#sq1" x="422.8" y="326.9"/><use href="#sq1" x="425.4" y="326.9"/><use href="#sq1" x="428.1" y="327.9"/><use href="#sq1" x="430.7" y="329.4"/><use href="#sq1" x="433.4" y="329.5"/><use href="#sq1" x="436" y="330.1"/><use href="#sq1" x="438.7" y="330.4"/><use href="#sq1" x="441.3" y="331"/><use href="#sq1" x="444" y="330.7"/><use href="#sq1" x="446.6" y="330.9"/><use href="#sq1" x="449.3" y="330.6"/><use href="#sq1" x="451.9" y="330"/><use href="#sq1" x="454.6" y="329.8"/><use href="#sq1" x="457.2" y="328.9"/><use href="#sq1" x="459.9" y="328.5"/><use href="#sq1" x="462.5" y="327"/><use href="#sq1" x="465.2" y="325.7"/><use href="#sq1" x="467.8" y="325"/>
<use href="#ci1" x="282.5" y="212.5"/><use href="#ci1" x="285.1" y="212.9"/><use href="#ci1" x="287.8" y="213.6"/><use href="#ci1" x="290.4" y="214"/><use href="#ci1" x="293.1" y="214.9"/><use href="#ci1" x="295.7" y="216.1"/><use href="#ci1" x="298.4" y="217.3"/><use href="#ci1" x="301" y="218.3"/><use href="#ci1" x="303.7" y="220.4"/><use href="#ci1" x="306.3" y="221.7"/><use href="#ci1" x="309" y="223.3"/><use href="#ci1" x="311.6" y="225.2"/><use href="#ci1" x="314.3" y="227.2"/><use href="#ci1" x="316.9" y="229.7"/><use href="#ci1" x="319.6" y="230.7"/><use href="#ci1" x="322.2" y="233.1"/><use href="#ci1" x="324.9" y="234.4"/><use href="#ci1" x="327.5" y="237"/><use href="#ci1" x="330.1" y="239.4"/><use href="#ci1" x="332.8" y="241.1"/><use href="#ci1" x="335.4" y="243.1"/><use href="#ci1" x="338.1" y="245.6"/><use href="#ci1" x="340.7" y="247.9"/><use href="#ci1" x="343.4" y="250.2"/><use href="#ci1" x="346" y="252.8"/><use href="#ci1" x="348.7" y="254.6"/><use href="#ci1" x="351.3" y="256.6"/><use href="#ci1" x="354" y="259"/><use href="#ci1" x="356.6" y="261.3"/><use href="#ci1" x="359.3" y="263.7"/><use href="#ci1" x="361.9" y="265.9"/><use href="#ci1" x="364.6" y="268.3"/><use href="#ci1" x="367.2" y="270"/><use href="#ci1" x="369.9" y="273"/><use href="#ci1" x="372.5" y="274.8"/><use href="#ci1" x="375.2" y="276.8"/><use href="#ci1" x="377.8" y="279.4"/><use href="#ci1" x="380.4" y="281.7"/><use href="#ci1" x="383.1" y="283.3"/><use href="#ci1" x="385.7" y="285"/><use href="#ci1" x="388.4" y="286.2"/><use href="#ci1" x="391" y="288.6"/><use href="#ci1" x="393.7" y="289"/><use href="#ci1" x="396.3" y="289.2"/><use href="#ci1" x="399" y="289.9"/><use href="#ci1" x="401.6" y="290.6"/><use href="#ci1" x="404.3" y="290.4"/><use href="#ci1" x="406.9" y="291.1"/><use href="#ci1" x="409.6" y="291"/><use href="#ci1" x="412.2" y="291.6"/><use href="#ci1" x="414.9" y="291.6"/><use href="#ci1" x="417.5" y="290.5"/><use href="#ci1" x="420.2" y="291.4"/><use href="#ci1" x="422.8" y="290.9"/><use href="#ci1" x="425.4" y="291.7"/><use href="#ci1" x="428.1" y="291.5"/><use href="#ci1" x="430.7" y="291.6"/><use href="#ci1" x="433.4" y="291.1"/><use href="#ci1" x="436" y="292"/><use href="#ci1" x="438.7" y="292"/><use href="#ci1" x="441.3" y="291.1"/><use href="#ci1" x="444" y="291.5"/><use href="#ci1" x="446.6" y="291.2"/><use href="#ci1" x="449.3" y="291.4"/><use href="#ci1" x="451.9" y="291.1"/><use href="#ci1" x="454.6" y="292"/><use href="#ci1" x="457.2" y="291.1"/><use href="#ci1" x="459.9" y="291.4"/><use href="#ci1" x="462.5" y="291.6"/><use href="#ci1" x="465.2" y="291.3"/><use href="#ci1" x="467.8" y="291.4"/>
<use href="#ci1" x="282.5" y="302.2"/><use href="#ci1" x="285.1" y="296.5"/><use href="#ci1" x="287.8" y="289.4"/><use href="#ci1" x="290.4" y="282.4"/><use href="#ci1" x="293.1" y="274.9"/><use href="#ci1" x="295.7" y="267.1"/><use href="#ci1" x="298.4" y="259.6"/><use href="#ci1" x="301" y="252.4"/><use href="#ci1" x="303.7" y="246.3"/><use href="#ci1" x="306.3" y="240.2"/><use href="#ci1" x="309" y="235.4"/><use href="#ci1" x="311.6" y="230.9"/><use href="#ci1" x="314.3" y="227.4"/><use href="#ci1" x="316.9" y="223.9"/><use href="#ci1" x="319.6" y="221.8"/><use href="#ci1" x="322.2" y="218.5"/><use href="#ci1" x="324.9" y="216.1"/><use href="#ci1" x="327.5" y="214.2"/><use href="#ci1" x="330.1" y="211.9"/><use href="#ci1" x="332.8" y="209.4"/><use href="#ci1" x="335.4" y="206.8"/><use href="#ci1" x="338.1" y="206"/><use href="#ci1" x="340.7" y="204.5"/><use href="#ci1" x="343.4" y="202.7"/><use href="#ci1" x="346" y="202.7"/><use href="#ci1" x="348.7" y="201.6"/><use href="#ci1" x="351.3" y="201.2"/><use href="#ci1" x="354" y="201.7"/><use href="#ci1" x="356.6" y="202"/><use href="#ci1" x="359.3" y="202.9"/><use href="#ci1" x="361.9" y="203.3"/><use href="#ci1" x="364.6" y="206.2"/><use href="#ci1" x="367.2" y="207.3"/><use href="#ci1" x="369.9" y="209.6"/><use href="#ci1" x="372.5" y="213.9"/><use href="#ci1" x="375.2" y="217.7"/><use href="#ci1" x="377.8" y="223.2"/><use href="#ci1" x="380.4" y="229.2"/><use href="#ci1" x="383.1" y="236.6"/><use href="#ci1" x="385.7" y="245.1"/><use href="#ci1" x="388.4" y="254"/><use href="#ci1" x="391" y="264.2"/><use href="#ci1" x="393.7" y="273.5"/><use href="#ci1" x="396.3" y="282.6"/><use href="#ci1" x="399" y="291.4"/><use href="#ci1" x="401.6" y="299"/><use href="#ci1" x="404.3" y="305.1"/><use href="#ci1" x="406.9" y="310.2"/><use href="#ci1" x="409.6" y="315.1"/><use href="#ci1" x="412.2" y="317.7"/><use href="#ci1" x="414.9" y="320.9"/><use href="#ci1" x="417.5" y="323.6"/><use href="#ci1" x="420.2" y="324.9"/><use href="#ci1" x="422.8" y="327"/><use href="#ci1" x="425.4" y="328.1"/><use href="#ci1" x="428.1" y="329.4"/><use href="#ci1" x="430.7" y="329.4"/><use href="#ci1" x="433.4" y="330.1"/><use href="#ci1" x="436" y="330.9"/><use href="#ci1" x="438.7" y="330"/><use href="#ci1" x="441.3" y="332.5"/><use href="#ci1" x="444" y="331"/><use href="#ci1" x="446.6" y="331"/><use href="#ci1" x="449.3" y="331.6"/><use href="#ci1" x="451.9" y="331.1"/><use href="#ci1" x="454.6" y="330.1"/><use href="#ci1" x="457.2" y="330.7"/><use href="#ci1" x="459.9" y="330.3"/><use href="#ci1" x="462.5" y="329.1"/><use href="#ci1" x="465.2" y="328.3"/><use href="#ci1" x="467.8" y="327.5"/>
<use href="#tu1" x="282.5" y="230.1"/><use href="#tu1" x="285.1" y="230.9"/><use href="#tu1" x="287.8" y="231.2"/><use href="#tu1" x="290.4" y="231.4"/><use href="#tu1" x="293.1" y="231.7"/><use href="#tu1" x="295.7" y="232.6"/><use href="#tu1" x="298.4" y="233"/><use href="#tu1" x="301" y="234.1"/><use href="#tu1" x="303.7" y="234.5"/><use href="#tu1" x="306.3" y="235.3"/><use href="#tu1" x="309" y="235.8"/><use href="#tu1" x="311.6" y="236.6"/><use href="#tu1" x="314.3" y="237.2"/><use href="#tu1" x="316.9" y="238.7"/><use href="#tu1" x="319.6" y="240.2"/><use href="#tu1" x="322.2" y="241"/><use href="#tu1" x="324.9" y="242.5"/><use href="#tu1" x="327.5" y="244.4"/><use href="#tu1" x="330.1" y="246.2"/><use href="#tu1" x="332.8" y="248"/><use href="#tu1" x="335.4" y="250.3"/><use href="#tu1" x="338.1" y="252.2"/><use href="#tu1" x="340.7" y="254.8"/><use href="#tu1" x="343.4" y="256.5"/><use href="#tu1" x="346" y="258.7"/><use href="#tu1" x="348.7" y="261"/><use href="#tu1" x="351.3" y="262.7"/><use href="#tu1" x="354" y="265.4"/><use href="#tu1" x="356.6" y="266.9"/><use href="#tu1" x="359.3" y="269"/><use href="#tu1" x="361.9" y="271.2"/><use href="#tu1" x="364.6" y="273.4"/><use href="#tu1" x="367.2" y="275.1"/><use href="#tu1" x="369.9" y="277.6"/><use href="#tu1" x="372.5" y="279.2"/><use href="#tu1" x="375.2" y="282.2"/><use href="#tu1" x="377.8" y="283.8"/><use href="#tu1" x="380.4" y="285.6"/><use href="#tu1" x="383.1" y="287.5"/><use href="#tu1" x="385.7" y="289.6"/><use href="#tu1" x="388.4" y="291.4"/><use href="#tu1" x="391" y="292.9"/><use href="#tu1" x="393.7" y="294.6"/><use href="#tu1" x="396.3" y="296.3"/><use href="#tu1" x="399" y="297.5"/><use href="#tu1" x="401.6" y="299.1"/><use href="#tu1" x="404.3" y="300.1"/><use href="#tu1" x="406.9" y="300.5"/><use href="#tu1" x="409.6" y="301.2"/><use href="#tu1" x="412.2" y="301.2"/><use href="#tu1" x="414.9" y="302.1"/><use href="#tu1" x="417.5" y="302.2"/><use href="#tu1" x="420.2" y="302.6"/><use href="#tu1" x="422.8" y="303.1"/><use href="#tu1" x="425.4" y="302"/><use href="#tu1" x="428.1" y="302.9"/><use href="#tu1" x="430.7" y="302.5"/><use href="#tu1" x="433.4" y="303.1"/><use href="#tu1" x="436" y="302.5"/><use href="#tu1" x="438.7" y="302.8"/><use href="#tu1" x="441.3" y="303.1"/><use href="#tu1" x="444" y="303.2"/><use href="#tu1" x="446.6" y="303.1"/><use href="#tu1" x="449.3" y="302.8"/><use href="#tu1" x="451.9" y="302.9"/><use href="#tu1" x="454.6" y="303.3"/><use href="#tu1" x="457.2" y="303.1"/><use href="#tu1" x="459.9" y="302.6"/><use href="#tu1" x="462.5" y="303.4"/><use href="#tu1" x="465.2" y="303.3"/><use href="#tu1" x="467.8" y="303.5"/>
<use href="#tu1" x="282.5" y="311.2"/><use href="#tu1" x="285.1" y="308.9"/><use href="#tu1" x="287.8" y="305.4"/><use href="#tu1" x="290.4" y="303.3"/><use href="#tu1" x="293.1" y="300.1"/><use href="#tu1" x="295.7" y="298"/><use href="#tu1" x="298.4" y="295.4"/><use href="#tu1" x="301" y="291.8"/><use href="#tu1" x="303.7" y="288.8"/><use href="#tu1" x="306.3" y="285"/><use href="#tu1" x="309" y="280.8"/><use href="#tu1" x="311.6" y="275.1"/><use href="#tu1" x="314.3" y="268"/><use href="#tu1" x="316.9" y="261.8"/><use href="#tu1" x="319.6" y="254.8"/><use href="#tu1" x="322.2" y="248.3"/><use href="#tu1" x="324.9" y="240.2"/><use href="#tu1" x="327.5" y="234.6"/><use href="#tu1" x="330.1" y="230.2"/><use href="#tu1" x="332.8" y="224.7"/><use href="#tu1" x="335.4" y="221.1"/><use href="#tu1" x="338.1" y="218.8"/><use href="#tu1" x="340.7" y="216.7"/><use href="#tu1" x="343.4" y="214.1"/><use href="#tu1" x="346" y="213.2"/><use href="#tu1" x="348.7" y="212"/><use href="#tu1" x="351.3" y="211.9"/><use href="#tu1" x="354" y="210.9"/><use href="#tu1" x="356.6" y="211.2"/><use href="#tu1" x="359.3" y="210.6"/><use href="#tu1" x="361.9" y="211.3"/><use href="#tu1" x="364.6" y="212"/><use href="#tu1" x="367.2" y="213.4"/><use href="#tu1" x="369.9" y="214.4"/><use href="#tu1" x="372.5" y="215.5"/><use href="#tu1" x="375.2" y="218.1"/><use href="#tu1" x="377.8" y="220.6"/><use href="#tu1" x="380.4" y="223.2"/><use href="#tu1" x="383.1" y="226.7"/><use href="#tu1" x="385.7" y="231"/><use href="#tu1" x="388.4" y="235.3"/><use href="#tu1" x="391" y="241.8"/><use href="#tu1" x="393.7" y="248.2"/><use href="#tu1" x="396.3" y="254.9"/><use href="#tu1" x="399" y="263.1"/><use href="#tu1" x="401.6" y="270"/><use href="#tu1" x="404.3" y="278"/><use href="#tu1" x="406.9" y="285.5"/><use href="#tu1" x="409.6" y="293.3"/><use href="#tu1" x="412.2" y="298.1"/><use href="#tu1" x="414.9" y="304.5"/><use href="#tu1" x="417.5" y="309.4"/><use href="#tu1" x="420.2" y="313.1"/><use href="#tu1" x="422.8" y="316.8"/><use href="#tu1" x="425.4" y="318.7"/><use href="#tu1" x="428.1" y="320.5"/><use href="#tu1" x="430.7" y="323.6"/><use href="#tu1" x="433.4" y="324.2"/><use href="#tu1" x="436" y="325.7"/><use href="#tu1" x="438.7" y="326.2"/><use href="#tu1" x="441.3" y="327.6"/><use href="#tu1" x="444" y="327.9"/><use href="#tu1" x="446.6" y="327.3"/><use href="#tu1" x="449.3" y="327.8"/><use href="#tu1" x="451.9" y="327"/><use href="#tu1" x="454.6" y="326.1"/><use href="#tu1" x="457.2" y="325.1"/><use href="#tu1" x="459.9" y="323.5"/><use href="#tu1" x="462.5" y="321.8"/><use href="#tu1" x="465.2" y="319.2"/><use href="#tu1" x="467.8" y="315.6"/>
<use href="#td1" x="282.5" y="233.6"/><use href="#td1" x="285.1" y="233.3"/><use href="#td1" x="287.8" y="233.7"/><use href="#td1" x="290.4" y="234"/><use href="#td1" x="293.1" y="234.6"/><use href="#td1" x="295.7" y="234.3"/><use href="#td1" x="298.4" y="235.3"/><use href="#td1" x="301" y="235.2"/><use href="#td1" x="303.7" y="235.6"/><use href="#td1" x="306.3" y="235.9"/><use href="#td1" x="309" y="236.8"/><use href="#td1" x="311.6" y="237.2"/><use href="#td1" x="314.3" y="237.6"/><use href="#td1" x="316.9" y="238.4"/><use href="#td1" x="319.6" y="239.7"/><use href="#td1" x="322.2" y="240.9"/><use href="#td1" x="324.9" y="242.9"/><use href="#td1" x="327.5" y="244.7"/><use href="#td1" x="330.1" y="246.4"/><use href="#td1" x="332.8" y="248.2"/><use href="#td1" x="335.4" y="250.1"/><use href="#td1" x="338.1" y="252.3"/><use href="#td1" x="340.7" y="254.7"/><use href="#td1" x="343.4" y="257.3"/><use href="#td1" x="346" y="259.1"/><use href="#td1" x="348.7" y="260.9"/><use href="#td1" x="351.3" y="263.2"/><use href="#td1" x="354" y="265.2"/><use href="#td1" x="356.6" y="267.3"/><use href="#td1" x="359.3" y="269.7"/><use href="#td1" x="361.9" y="272"/><use href="#td1" x="364.6" y="274.6"/><use href="#td1" x="367.2" y="276.2"/><use href="#td1" x="369.9" y="278.8"/><use href="#td1" x="372.5" y="281"/><use href="#td1" x="375.2" y="282.7"/><use href="#td1" x="377.8" y="285.3"/><use href="#td1" x="380.4" y="287.1"/><use href="#td1" x="383.1" y="288.9"/><use href="#td1" x="385.7" y="291.1"/><use href="#td1" x="388.4" y="293.1"/><use href="#td1" x="391" y="295.1"/><use href="#td1" x="393.7" y="297.1"/><use href="#td1" x="396.3" y="299.2"/><use href="#td1" x="399" y="301.2"/><use href="#td1" x="401.6" y="302.6"/><use href="#td1" x="404.3" y="304.6"/><use href="#td1" x="406.9" y="305.8"/><use href="#td1" x="409.6" y="307.8"/><use href="#td1" x="412.2" y="309.3"/><use href="#td1" x="414.9" y="310.4"/><use href="#td1" x="417.5" y="311.4"/><use href="#td1" x="420.2" y="312.4"/><use href="#td1" x="422.8" y="312.7"/><use href="#td1" x="425.4" y="313.4"/><use href="#td1" x="428.1" y="314"/><use href="#td1" x="430.7" y="314.5"/><use href="#td1" x="433.4" y="314.6"/><use href="#td1" x="436" y="315.4"/><use href="#td1" x="438.7" y="314.8"/><use href="#td1" x="441.3" y="315.2"/><use href="#td1" x="444" y="315.4"/><use href="#td1" x="446.6" y="315.1"/><use href="#td1" x="449.3" y="314.9"/><use href="#td1" x="451.9" y="314.9"/><use href="#td1" x="454.6" y="315.3"/><use href="#td1" x="457.2" y="315.6"/><use href="#td1" x="459.9" y="315.4"/><use href="#td1" x="462.5" y="315.4"/><use href="#td1" x="465.2" y="315.2"/><use href="#td1" x="467.8" y="315.5"/>
<use href="#td1" x="282.5" y="320.2"/><use href="#td1" x="285.1" y="319.2"/><use href="#td1" x="287.8" y="316.9"/><use href="#td1" x="290.4" y="313.9"/><use href="#td1" x="293.1" y="312.7"/><use href="#td1" x="295.7" y="308.4"/><use href="#td1" x="298.4" y="305.4"/><use href="#td1" x="301" y="302"/><use href="#td1" x="303.7" y="299.2"/><use href="#td1" x="306.3" y="294.1"/><use href="#td1" x="309" y="289.8"/><use href="#td1" x="311.6" y="284"/><use href="#td1" x="314.3" y="277.1"/><use href="#td1" x="316.9" y="268.9"/><use href="#td1" x="319.6" y="261"/><use href="#td1" x="322.2" y="253.6"/><use href="#td1" x="324.9" y="244.3"/><use href="#td1" x="327.5" y="236.9"/><use href="#td1" x="330.1" y="230.6"/><use href="#td1" x="332.8" y="225.4"/><use href="#td1" x="335.4" y="220.6"/><use href="#td1" x="338.1" y="217"/><use href="#td1" x="340.7" y="213.4"/><use href="#td1" x="343.4" y="211.9"/><use href="#td1" x="346" y="210"/><use href="#td1" x="348.7" y="207.9"/><use href="#td1" x="351.3" y="208.2"/><use href="#td1" x="354" y="207.9"/><use href="#td1" x="356.6" y="206.3"/><use href="#td1" x="359.3" y="206.5"/><use href="#td1" x="361.9" y="207.1"/><use href="#td1" x="364.6" y="206.1"/><use href="#td1" x="367.2" y="206.3"/><use href="#td1" x="369.9" y="207.1"/><use href="#td1" x="372.5" y="208.1"/><use href="#td1" x="375.2" y="208.9"/><use href="#td1" x="377.8" y="210.4"/><use href="#td1" x="380.4" y="211.6"/><use href="#td1" x="383.1" y="212.5"/><use href="#td1" x="385.7" y="215"/><use href="#td1" x="388.4" y="217.6"/><use href="#td1" x="391" y="219.9"/><use href="#td1" x="393.7" y="222.8"/><use href="#td1" x="396.3" y="225.9"/><use href="#td1" x="399" y="230.4"/><use href="#td1" x="401.6" y="234.3"/><use href="#td1" x="404.3" y="240.4"/><use href="#td1" x="406.9" y="246.2"/><use href="#td1" x="409.6" y="253.3"/><use href="#td1" x="412.2" y="260.2"/><use href="#td1" x="414.9" y="267"/><use href="#td1" x="417.5" y="274.9"/><use href="#td1" x="420.2" y="282.7"/><use href="#td1" x="422.8" y="288.6"/><use href="#td1" x="425.4" y="295.2"/><use href="#td1" x="428.1" y="300.8"/><use href="#td1" x="430.7" y="305.5"/><use href="#td1" x="433.4" y="310.8"/><use href="#td1" x="436" y="314.7"/><use href="#td1" x="438.7" y="317.6"/><use href="#td1" x="441.3" y="320"/><use href="#td1" x="444" y="322"/><use href="#td1" x="446.6" y="323.9"/><use href="#td1" x="449.3" y="325"/><use href="#td1" x="451.9" y="326.9"/><use href="#td1" x="454.6" y="327.9"/><use href="#td1" x="457.2" y="328.5"/><use href="#td1" x="459.9" y="328.5"/><use href="#td1" x="462.5" y="329.1"/><use href="#td1" x="465.2" y="329.3"/><use href="#td1" x="467.8" y="330.1"/>
</g>
<use href="#sq1.2" x="426.4" y="204.1"/>
<text x="437.7" y="207.1" font-size="9" text-anchor="start" fill="#000" font-family="Liberation Serif" font-weight="bold" >0%</text>
<use href="#ci1.2" x="426.4" y="213.9"/>
<text x="437.7" y="216.9" font-size="9" text-anchor="start" fill="#000" font-family="Liberation Serif" font-weight="bold" >0.1%</text>
<use href="#tu1.2" x="426.4" y="223.5"/>
<text x="437.7" y="226.5" font-size="9" text-anchor="start" fill="#000" font-family="Liberation Serif" font-weight="bold" >1%</text>
<use href="#td1.2" x="426.4" y="232.6"/>
<text x="437.7" y="235.6" font-size="9" text-anchor="start" fill="#000" font-family="Liberation Serif" font-weight="bold" >3.5%</text>
<line x1="417.6" y1="242.3" x2="435.4" y2="242.3" stroke="#777" stroke-width="1" />
<text x="437.7" y="245.3" font-size="9" text-anchor="start" fill="#000" font-family="Liberation Serif" font-weight="bold" letter-spacing="-0.3">fitting</text>
<text transform="translate(263.5,262) rotate(-90)" font-size="13" text-anchor="middle" font-family="Liberation Serif" font-weight="bold">|Z|(Ω·cm<tspan font-size="5.9" dy="-4.9">2</tspan><tspan dy="4.9">)</tspan></text>
<text transform="translate(493,262.3) rotate(-90)" font-size="12.5" text-anchor="middle" fill="#ff0000" font-family="Liberation Serif" font-weight="bold">-θ/°</text>
<text x="375.5" y="361" font-size="12.5" text-anchor="middle" fill="#000" font-family="Liberation Serif" font-weight="bold" >Frequency(Hz)</text>
<line x1="340.4" y1="272.4" x2="354.3" y2="272.4" stroke="#000" stroke-width="1" />
<path d="M337.4,272.4 l4,-1.8 l0,3.6 Z" fill="#000"/>
<line x1="424.2" y1="265.9" x2="443.3" y2="265.9" stroke="#ff0000" stroke-width="1" />
<path d="M446.3,265.9 l-4,-1.8 l0,3.6 Z" fill="#ff0000"/>
<text x="240.2" y="193.4" font-size="15" font-family="Liberation Serif" font-weight="bold">(b<tspan font-size="8" dy="2.9" dx="0.6">2</tspan><tspan dy="-2.9" dx="0.3">)</tspan></text>
<clipPath id="clipc2"><rect x="284.2" y="368.7" width="182.10000000000002" height="144.8"/></clipPath>
<path d="M466.3,368.7 L284.2,368.7 L284.2,513.5 L466.3,513.5" fill="none" stroke="#000" stroke-width="1.4"/>
<line x1="466.3" y1="368" x2="466.3" y2="514.2" stroke="#ff0000" stroke-width="1.6" />
<line x1="284.2" y1="513.5" x2="284.2" y2="510.5" stroke="#000" stroke-width="1" />
<line x1="292" y1="513.5" x2="292" y2="511.9" stroke="#000" stroke-width="0.7" />
<line x1="296.6" y1="513.5" x2="296.6" y2="511.9" stroke="#000" stroke-width="0.7" />
<line x1="299.9" y1="513.5" x2="299.9" y2="511.9" stroke="#000" stroke-width="0.7" />
<line x1="302.4" y1="513.5" x2="302.4" y2="511.9" stroke="#000" stroke-width="0.7" />
<line x1="304.4" y1="513.5" x2="304.4" y2="511.9" stroke="#000" stroke-width="0.7" />
<line x1="306.2" y1="513.5" x2="306.2" y2="511.9" stroke="#000" stroke-width="0.7" />
<line x1="307.7" y1="513.5" x2="307.7" y2="511.9" stroke="#000" stroke-width="0.7" />
<line x1="309" y1="513.5" x2="309" y2="511.9" stroke="#000" stroke-width="0.7" />
<text x="285.7" y="525.5" font-size="9" text-anchor="middle" fill="#000" font-family="Liberation Serif" font-weight="bold">10<tspan font-size="5.4" dy="-3.4">-2</tspan></text>
<line x1="310.2" y1="513.5" x2="310.2" y2="510.5" stroke="#000" stroke-width="1" />
<line x1="318" y1="513.5" x2="318" y2="511.9" stroke="#000" stroke-width="0.7" />
<line x1="322.6" y1="513.5" x2="322.6" y2="511.9" stroke="#000" stroke-width="0.7" />
<line x1="325.9" y1="513.5" x2="325.9" y2="511.9" stroke="#000" stroke-width="0.7" />
<line x1="328.4" y1="513.5" x2="328.4" y2="511.9" stroke="#000" stroke-width="0.7" />
<line x1="330.5" y1="513.5" x2="330.5" y2="511.9" stroke="#000" stroke-width="0.7" />
<line x1="332.2" y1="513.5" x2="332.2" y2="511.9" stroke="#000" stroke-width="0.7" />
<line x1="333.7" y1="513.5" x2="333.7" y2="511.9" stroke="#000" stroke-width="0.7" />
<line x1="335" y1="513.5" x2="335" y2="511.9" stroke="#000" stroke-width="0.7" />
<text x="311.7" y="525.5" font-size="9" text-anchor="middle" fill="#000" font-family="Liberation Serif" font-weight="bold">10<tspan font-size="5.4" dy="-3.4">-1</tspan></text>
<line x1="336.2" y1="513.5" x2="336.2" y2="510.5" stroke="#000" stroke-width="1" />
<line x1="344.1" y1="513.5" x2="344.1" y2="511.9" stroke="#000" stroke-width="0.7" />
<line x1="348.6" y1="513.5" x2="348.6" y2="511.9" stroke="#000" stroke-width="0.7" />
<line x1="351.9" y1="513.5" x2="351.9" y2="511.9" stroke="#000" stroke-width="0.7" />
<line x1="354.4" y1="513.5" x2="354.4" y2="511.9" stroke="#000" stroke-width="0.7" />
<line x1="356.5" y1="513.5" x2="356.5" y2="511.9" stroke="#000" stroke-width="0.7" />
<line x1="358.2" y1="513.5" x2="358.2" y2="511.9" stroke="#000" stroke-width="0.7" />
<line x1="359.7" y1="513.5" x2="359.7" y2="511.9" stroke="#000" stroke-width="0.7" />
<line x1="361.1" y1="513.5" x2="361.1" y2="511.9" stroke="#000" stroke-width="0.7" />
<text x="337.7" y="525.5" font-size="9" text-anchor="middle" fill="#000" font-family="Liberation Serif" font-weight="bold">10<tspan font-size="5.4" dy="-3.4">0</tspan></text>
<line x1="362.2" y1="513.5" x2="362.2" y2="510.5" stroke="#000" stroke-width="1" />
<line x1="370.1" y1="513.5" x2="370.1" y2="511.9" stroke="#000" stroke-width="0.7" />
<line x1="374.7" y1="513.5" x2="374.7" y2="511.9" stroke="#000" stroke-width="0.7" />
<line x1="377.9" y1="513.5" x2="377.9" y2="511.9" stroke="#000" stroke-width="0.7" />
<line x1="380.4" y1="513.5" x2="380.4" y2="511.9" stroke="#000" stroke-width="0.7" />
<line x1="382.5" y1="513.5" x2="382.5" y2="511.9" stroke="#000" stroke-width="0.7" />
<line x1="384.2" y1="513.5" x2="384.2" y2="511.9" stroke="#000" stroke-width="0.7" />
<line x1="385.7" y1="513.5" x2="385.7" y2="511.9" stroke="#000" stroke-width="0.7" />
<line x1="387.1" y1="513.5" x2="387.1" y2="511.9" stroke="#000" stroke-width="0.7" />
<text x="363.7" y="525.5" font-size="9" text-anchor="middle" fill="#000" font-family="Liberation Serif" font-weight="bold">10<tspan font-size="5.4" dy="-3.4">1</tspan></text>
<line x1="388.3" y1="513.5" x2="388.3" y2="510.5" stroke="#000" stroke-width="1" />
<line x1="396.1" y1="513.5" x2="396.1" y2="511.9" stroke="#000" stroke-width="0.7" />
<line x1="400.7" y1="513.5" x2="400.7" y2="511.9" stroke="#000" stroke-width="0.7" />
<line x1="403.9" y1="513.5" x2="403.9" y2="511.9" stroke="#000" stroke-width="0.7" />
<line x1="406.4" y1="513.5" x2="406.4" y2="511.9" stroke="#000" stroke-width="0.7" />
<line x1="408.5" y1="513.5" x2="408.5" y2="511.9" stroke="#000" stroke-width="0.7" />
<line x1="410.2" y1="513.5" x2="410.2" y2="511.9" stroke="#000" stroke-width="0.7" />
<line x1="411.8" y1="513.5" x2="411.8" y2="511.9" stroke="#000" stroke-width="0.7" />
<line x1="413.1" y1="513.5" x2="413.1" y2="511.9" stroke="#000" stroke-width="0.7" />
<text x="389.8" y="525.5" font-size="9" text-anchor="middle" fill="#000" font-family="Liberation Serif" font-weight="bold">10<tspan font-size="5.4" dy="-3.4">2</tspan></text>
<line x1="414.3" y1="513.5" x2="414.3" y2="510.5" stroke="#000" stroke-width="1" />
<line x1="422.1" y1="513.5" x2="422.1" y2="511.9" stroke="#000" stroke-width="0.7" />
<line x1="426.7" y1="513.5" x2="426.7" y2="511.9" stroke="#000" stroke-width="0.7" />
<line x1="429.9" y1="513.5" x2="429.9" y2="511.9" stroke="#000" stroke-width="0.7" />
<line x1="432.5" y1="513.5" x2="432.5" y2="511.9" stroke="#000" stroke-width="0.7" />
<line x1="434.5" y1="513.5" x2="434.5" y2="511.9" stroke="#000" stroke-width="0.7" />
<line x1="436.3" y1="513.5" x2="436.3" y2="511.9" stroke="#000" stroke-width="0.7" />
<line x1="437.8" y1="513.5" x2="437.8" y2="511.9" stroke="#000" stroke-width="0.7" />
<line x1="439.1" y1="513.5" x2="439.1" y2="511.9" stroke="#000" stroke-width="0.7" />
<text x="415.8" y="525.5" font-size="9" text-anchor="middle" fill="#000" font-family="Liberation Serif" font-weight="bold">10<tspan font-size="5.4" dy="-3.4">3</tspan></text>
<line x1="440.3" y1="513.5" x2="440.3" y2="510.5" stroke="#000" stroke-width="1" />
<line x1="448.1" y1="513.5" x2="448.1" y2="511.9" stroke="#000" stroke-width="0.7" />
<line x1="452.7" y1="513.5" x2="452.7" y2="511.9" stroke="#000" stroke-width="0.7" />
<line x1="455.9" y1="513.5" x2="455.9" y2="511.9" stroke="#000" stroke-width="0.7" />
<line x1="458.5" y1="513.5" x2="458.5" y2="511.9" stroke="#000" stroke-width="0.7" />
<line x1="460.5" y1="513.5" x2="460.5" y2="511.9" stroke="#000" stroke-width="0.7" />
<line x1="462.3" y1="513.5" x2="462.3" y2="511.9" stroke="#000" stroke-width="0.7" />
<line x1="463.8" y1="513.5" x2="463.8" y2="511.9" stroke="#000" stroke-width="0.7" />
<line x1="465.1" y1="513.5" x2="465.1" y2="511.9" stroke="#000" stroke-width="0.7" />
<text x="441.8" y="525.5" font-size="9" text-anchor="middle" fill="#000" font-family="Liberation Serif" font-weight="bold">10<tspan font-size="5.4" dy="-3.4">4</tspan></text>
<line x1="466.3" y1="513.5" x2="466.3" y2="510.5" stroke="#000" stroke-width="1" />
<text x="467.8" y="525.5" font-size="9" text-anchor="middle" fill="#000" font-family="Liberation Serif" font-weight="bold">10<tspan font-size="5.4" dy="-3.4">5</tspan></text>
<line x1="284.2" y1="513.5" x2="287.2" y2="513.5" stroke="#000" stroke-width="1" />
<line x1="284.2" y1="506.2" x2="285.8" y2="506.2" stroke="#000" stroke-width="0.7" />
<line x1="284.2" y1="502" x2="285.8" y2="502" stroke="#000" stroke-width="0.7" />
<line x1="284.2" y1="499" x2="285.8" y2="499" stroke="#000" stroke-width="0.7" />
<line x1="284.2" y1="496.6" x2="285.8" y2="496.6" stroke="#000" stroke-width="0.7" />
<line x1="284.2" y1="494.7" x2="285.8" y2="494.7" stroke="#000" stroke-width="0.7" />
<line x1="284.2" y1="493.1" x2="285.8" y2="493.1" stroke="#000" stroke-width="0.7" />
<line x1="284.2" y1="491.7" x2="285.8" y2="491.7" stroke="#000" stroke-width="0.7" />
<line x1="284.2" y1="490.5" x2="285.8" y2="490.5" stroke="#000" stroke-width="0.7" />
<text x="281.2" y="516.5" font-size="9" text-anchor="end" fill="#000" font-family="Liberation Serif" font-weight="bold">10<tspan font-size="5.4" dy="-3.4">0</tspan></text>
<line x1="284.2" y1="489.4" x2="287.2" y2="489.4" stroke="#000" stroke-width="1" />
<line x1="284.2" y1="482.1" x2="285.8" y2="482.1" stroke="#000" stroke-width="0.7" />
<line x1="284.2" y1="477.9" x2="285.8" y2="477.9" stroke="#000" stroke-width="0.7" />
<line x1="284.2" y1="474.8" x2="285.8" y2="474.8" stroke="#000" stroke-width="0.7" />
<line x1="284.2" y1="472.5" x2="285.8" y2="472.5" stroke="#000" stroke-width="0.7" />
<line x1="284.2" y1="470.6" x2="285.8" y2="470.6" stroke="#000" stroke-width="0.7" />
<line x1="284.2" y1="469" x2="285.8" y2="469" stroke="#000" stroke-width="0.7" />
<line x1="284.2" y1="467.6" x2="285.8" y2="467.6" stroke="#000" stroke-width="0.7" />
<line x1="284.2" y1="466.3" x2="285.8" y2="466.3" stroke="#000" stroke-width="0.7" />
<text x="281.2" y="492.4" font-size="9" text-anchor="end" fill="#000" font-family="Liberation Serif" font-weight="bold">10<tspan font-size="5.4" dy="-3.4">1</tspan></text>
<line x1="284.2" y1="465.2" x2="287.2" y2="465.2" stroke="#000" stroke-width="1" />
<line x1="284.2" y1="458" x2="285.8" y2="458" stroke="#000" stroke-width="0.7" />
<line x1="284.2" y1="453.7" x2="285.8" y2="453.7" stroke="#000" stroke-width="0.7" />
<line x1="284.2" y1="450.7" x2="285.8" y2="450.7" stroke="#000" stroke-width="0.7" />
<line x1="284.2" y1="448.4" x2="285.8" y2="448.4" stroke="#000" stroke-width="0.7" />
<line x1="284.2" y1="446.5" x2="285.8" y2="446.5" stroke="#000" stroke-width="0.7" />
<line x1="284.2" y1="444.8" x2="285.8" y2="444.8" stroke="#000" stroke-width="0.7" />
<line x1="284.2" y1="443.4" x2="285.8" y2="443.4" stroke="#000" stroke-width="0.7" />
<line x1="284.2" y1="442.2" x2="285.8" y2="442.2" stroke="#000" stroke-width="0.7" />
<text x="281.2" y="468.2" font-size="9" text-anchor="end" fill="#000" font-family="Liberation Serif" font-weight="bold">10<tspan font-size="5.4" dy="-3.4">2</tspan></text>
<line x1="284.2" y1="441.1" x2="287.2" y2="441.1" stroke="#000" stroke-width="1" />
<line x1="284.2" y1="433.8" x2="285.8" y2="433.8" stroke="#000" stroke-width="0.7" />
<line x1="284.2" y1="429.6" x2="285.8" y2="429.6" stroke="#000" stroke-width="0.7" />
<line x1="284.2" y1="426.6" x2="285.8" y2="426.6" stroke="#000" stroke-width="0.7" />
<line x1="284.2" y1="424.2" x2="285.8" y2="424.2" stroke="#000" stroke-width="0.7" />
<line x1="284.2" y1="422.3" x2="285.8" y2="422.3" stroke="#000" stroke-width="0.7" />
<line x1="284.2" y1="420.7" x2="285.8" y2="420.7" stroke="#000" stroke-width="0.7" />
<line x1="284.2" y1="419.3" x2="285.8" y2="419.3" stroke="#000" stroke-width="0.7" />
<line x1="284.2" y1="418.1" x2="285.8" y2="418.1" stroke="#000" stroke-width="0.7" />
<text x="281.2" y="444.1" font-size="9" text-anchor="end" fill="#000" font-family="Liberation Serif" font-weight="bold">10<tspan font-size="5.4" dy="-3.4">3</tspan></text>
<line x1="284.2" y1="417" x2="287.2" y2="417" stroke="#000" stroke-width="1" />
<line x1="284.2" y1="409.7" x2="285.8" y2="409.7" stroke="#000" stroke-width="0.7" />
<line x1="284.2" y1="405.5" x2="285.8" y2="405.5" stroke="#000" stroke-width="0.7" />
<line x1="284.2" y1="402.4" x2="285.8" y2="402.4" stroke="#000" stroke-width="0.7" />
<line x1="284.2" y1="400.1" x2="285.8" y2="400.1" stroke="#000" stroke-width="0.7" />
<line x1="284.2" y1="398.2" x2="285.8" y2="398.2" stroke="#000" stroke-width="0.7" />
<line x1="284.2" y1="396.6" x2="285.8" y2="396.6" stroke="#000" stroke-width="0.7" />
<line x1="284.2" y1="395.2" x2="285.8" y2="395.2" stroke="#000" stroke-width="0.7" />
<line x1="284.2" y1="393.9" x2="285.8" y2="393.9" stroke="#000" stroke-width="0.7" />
<text x="281.2" y="420" font-size="9" text-anchor="end" fill="#000" font-family="Liberation Serif" font-weight="bold">10<tspan font-size="5.4" dy="-3.4">4</tspan></text>
<line x1="284.2" y1="392.8" x2="287.2" y2="392.8" stroke="#000" stroke-width="1" />
<line x1="284.2" y1="385.6" x2="285.8" y2="385.6" stroke="#000" stroke-width="0.7" />
<line x1="284.2" y1="381.3" x2="285.8" y2="381.3" stroke="#000" stroke-width="0.7" />
<line x1="284.2" y1="378.3" x2="285.8" y2="378.3" stroke="#000" stroke-width="0.7" />
<line x1="284.2" y1="376" x2="285.8" y2="376" stroke="#000" stroke-width="0.7" />
<line x1="284.2" y1="374.1" x2="285.8" y2="374.1" stroke="#000" stroke-width="0.7" />
<line x1="284.2" y1="372.4" x2="285.8" y2="372.4" stroke="#000" stroke-width="0.7" />
<line x1="284.2" y1="371" x2="285.8" y2="371" stroke="#000" stroke-width="0.7" />
<line x1="284.2" y1="369.8" x2="285.8" y2="369.8" stroke="#000" stroke-width="0.7" />
<text x="281.2" y="395.8" font-size="9" text-anchor="end" fill="#000" font-family="Liberation Serif" font-weight="bold">10<tspan font-size="5.4" dy="-3.4">5</tspan></text>
<line x1="284.2" y1="368.7" x2="287.2" y2="368.7" stroke="#000" stroke-width="1" />
<text x="281.2" y="371.7" font-size="9" text-anchor="end" fill="#000" font-family="Liberation Serif" font-weight="bold">10<tspan font-size="5.4" dy="-3.4">6</tspan></text>
<line x1="466.3" y1="513.9" x2="463.3" y2="513.9" stroke="#ff0000" stroke-width="1" />
<text x="470.3" y="517.1" font-size="9.5" text-anchor="start" fill="#ff0000" font-family="Liberation Serif" font-weight="bold" >0</text>
<line x1="466.3" y1="497.7" x2="464.5" y2="497.7" stroke="#ff0000" stroke-width="1" />
<line x1="466.3" y1="481.6" x2="463.3" y2="481.6" stroke="#ff0000" stroke-width="1" />
<text x="470.3" y="484.8" font-size="9.5" text-anchor="start" fill="#ff0000" font-family="Liberation Serif" font-weight="bold" >20</text>
<line x1="466.3" y1="465.4" x2="464.5" y2="465.4" stroke="#ff0000" stroke-width="1" />
<line x1="466.3" y1="449.3" x2="463.3" y2="449.3" stroke="#ff0000" stroke-width="1" />
<text x="470.3" y="452.5" font-size="9.5" text-anchor="start" fill="#ff0000" font-family="Liberation Serif" font-weight="bold" >40</text>
<line x1="466.3" y1="433.1" x2="464.5" y2="433.1" stroke="#ff0000" stroke-width="1" />
<line x1="466.3" y1="417" x2="463.3" y2="417" stroke="#ff0000" stroke-width="1" />
<text x="470.3" y="420.2" font-size="9.5" text-anchor="start" fill="#ff0000" font-family="Liberation Serif" font-weight="bold" >60</text>
<line x1="466.3" y1="400.8" x2="464.5" y2="400.8" stroke="#ff0000" stroke-width="1" />
<line x1="466.3" y1="384.7" x2="463.3" y2="384.7" stroke="#ff0000" stroke-width="1" />
<text x="470.3" y="387.9" font-size="9.5" text-anchor="start" fill="#ff0000" font-family="Liberation Serif" font-weight="bold" >80</text>
<line x1="466.3" y1="368.5" x2="464.5" y2="368.5" stroke="#ff0000" stroke-width="1" />
<g clip-path="url(#clipc2)">
<path d="M284.2,390.4 L285.3,390.6 L286.5,391 L287.6,391.3 L288.8,391.7 L289.9,392.1 L291.1,392.6 L292.2,393.1 L293.4,393.7 L294.5,394.3 L295.7,394.9 L296.8,395.6 L297.9,396.3 L299.1,397.1 L300.2,397.8 L301.4,398.6 L302.5,399.4 L303.7,400.3 L304.8,401.1 L306,401.9 L307.1,402.8 L308.3,403.7 L309.4,404.6 L310.5,405.5 L311.7,406.4 L312.8,407.3 L314,408.2 L315.1,409.1 L316.3,410 L317.4,410.9 L318.6,411.8 L319.7,412.8 L320.8,413.7 L322,414.7 L323.1,415.6 L324.3,416.6 L325.4,417.5 L326.6,418.5 L327.7,419.4 L328.9,420.4 L330,421.4 L331.2,422.3 L332.3,423.3 L333.4,424.3 L334.6,425.3 L335.7,426.2 L336.9,427.2 L338,428.2 L339.2,429.2 L340.3,430.1 L341.5,431.1 L342.6,432.1 L343.8,433.1 L344.9,434.1 L346,435.1 L347.2,436 L348.3,437 L349.5,438 L350.6,439 L351.8,440 L352.9,440.9 L354.1,441.9 L355.2,442.9 L356.4,443.9 L357.5,444.9 L358.6,445.8 L359.8,446.8 L360.9,447.8 L362.1,448.7 L363.2,449.7 L364.4,450.7 L365.5,451.6 L366.7,452.6 L367.8,453.5 L369,454.5 L370.1,455.4 L371.2,456.3 L372.4,457.2 L373.5,458.1 L374.7,459 L375.8,459.9 L377,460.7 L378.1,461.5 L379.3,462.3 L380.4,463.1 L381.5,463.8 L382.7,464.6 L383.8,465.2 L385,465.9 L386.1,466.5 L387.3,467 L388.4,467.6 L389.6,468 L390.7,468.5 L391.9,468.9 L393,469.2 L394.1,469.5 L395.3,469.8 L396.4,470.1 L397.6,470.3 L398.7,470.5 L399.9,470.6 L401,470.8 L402.2,470.9 L403.3,471 L404.5,471.1 L405.6,471.2 L406.7,471.3 L407.9,471.3 L409,471.4 L410.2,471.4 L411.3,471.5 L412.5,471.5 L413.6,471.5 L414.8,471.6 L415.9,471.6 L417.1,471.6 L418.2,471.6 L419.3,471.6 L420.5,471.7 L421.6,471.7 L422.8,471.7 L423.9,471.7 L425.1,471.7 L426.2,471.7 L427.4,471.7 L428.5,471.7 L429.7,471.7 L430.8,471.7 L431.9,471.7 L433.1,471.7 L434.2,471.7 L435.4,471.7 L436.5,471.7 L437.7,471.7 L438.8,471.8 L440,471.8 L441.1,471.8 L442.2,471.8 L443.4,471.8 L444.5,471.8 L445.7,471.8 L446.8,471.8 L448,471.8 L449.1,471.8 L450.3,471.8 L451.4,471.8 L452.6,471.8 L453.7,471.8 L454.8,471.8 L456,471.8 L457.1,471.8 L458.3,471.8 L459.4,471.8 L460.6,471.8 L461.7,471.8 L462.9,471.9 L464,471.9 L465.2,471.9 L466.3,472" fill="none" stroke="#555555" stroke-width="0.7" />
<path d="M284.2,469.2 L285.3,465.7 L286.5,462.1 L287.6,458.4 L288.8,454.6 L289.9,450.7 L291.1,446.8 L292.2,443 L293.4,439.2 L294.5,435.5 L295.7,431.9 L296.8,428.4 L297.9,425.1 L299.1,422 L300.2,419 L301.4,416.3 L302.5,413.7 L303.7,411.3 L304.8,409.1 L306,407 L307.1,405.1 L308.3,403.3 L309.4,401.7 L310.5,400.1 L311.7,398.7 L312.8,397.4 L314,396.1 L315.1,395 L316.3,393.9 L317.4,392.8 L318.6,391.8 L319.7,390.9 L320.8,390.1 L322,389.3 L323.1,388.5 L324.3,387.8 L325.4,387.2 L326.6,386.6 L327.7,386 L328.9,385.5 L330,385 L331.2,384.6 L332.3,384.3 L333.4,383.9 L334.6,383.7 L335.7,383.4 L336.9,383.2 L338,383 L339.2,382.9 L340.3,382.8 L341.5,382.7 L342.6,382.7 L343.8,382.7 L344.9,382.8 L346,382.9 L347.2,383 L348.3,383.2 L349.5,383.4 L350.6,383.6 L351.8,383.9 L352.9,384.3 L354.1,384.6 L355.2,385.1 L356.4,385.6 L357.5,386.2 L358.6,386.8 L359.8,387.5 L360.9,388.3 L362.1,389.2 L363.2,390.1 L364.4,391.2 L365.5,392.3 L366.7,393.6 L367.8,395 L369,396.5 L370.1,398.1 L371.2,399.9 L372.4,401.9 L373.5,404 L374.7,406.2 L375.8,408.7 L377,411.3 L378.1,414.1 L379.3,417.1 L380.4,420.2 L381.5,423.6 L382.7,427 L383.8,430.6 L385,434.3 L386.1,438.2 L387.3,442 L388.4,445.9 L389.6,449.8 L390.7,453.7 L391.9,457.5 L393,461.3 L394.1,464.9 L395.3,468.4 L396.4,471.7 L397.6,474.9 L398.7,477.9 L399.9,480.7 L401,483.4 L402.2,485.8 L403.3,488.2 L404.5,490.3 L405.6,492.3 L406.7,494.1 L407.9,495.8 L409,497.3 L410.2,498.7 L411.3,500 L412.5,501.2 L413.6,502.3 L414.8,503.3 L415.9,504.2 L417.1,505 L418.2,505.8 L419.3,506.4 L420.5,507 L421.6,507.6 L422.8,508.1 L423.9,508.5 L425.1,508.9 L426.2,509.3 L427.4,509.6 L428.5,509.9 L429.7,510.1 L430.8,510.3 L431.9,510.5 L433.1,510.6 L434.2,510.7 L435.4,510.8 L436.5,510.9 L437.7,510.9 L438.8,510.9 L440,510.9 L441.1,510.8 L442.2,510.7 L443.4,510.6 L444.5,510.4 L445.7,510.3 L446.8,510 L448,509.8 L449.1,509.5 L450.3,509.1 L451.4,508.7 L452.6,508.3 L453.7,507.8 L454.8,507.2 L456,506.6 L457.1,505.8 L458.3,505 L459.4,504.2 L460.6,503.2 L461.7,502.1 L462.9,500.9 L464,499.6 L465.2,498.1 L466.3,496.5" fill="none" stroke="#555555" stroke-width="0.7" />
<path d="M284.2,394.3 L285.3,394.5 L286.5,394.7 L287.6,394.9 L288.8,395.2 L289.9,395.4 L291.1,395.7 L292.2,396.1 L293.4,396.5 L294.5,396.9 L295.7,397.3 L296.8,397.8 L297.9,398.3 L299.1,398.9 L300.2,399.4 L301.4,400.1 L302.5,400.7 L303.7,401.4 L304.8,402.1 L306,402.8 L307.1,403.6 L308.3,404.4 L309.4,405.2 L310.5,406 L311.7,406.8 L312.8,407.7 L314,408.5 L315.1,409.4 L316.3,410.3 L317.4,411.2 L318.6,412.1 L319.7,413 L320.8,413.9 L322,414.9 L323.1,415.8 L324.3,416.7 L325.4,417.7 L326.6,418.6 L327.7,419.6 L328.9,420.5 L330,421.5 L331.2,422.4 L332.3,423.4 L333.4,424.3 L334.6,425.3 L335.7,426.3 L336.9,427.2 L338,428.2 L339.2,429.2 L340.3,430.2 L341.5,431.1 L342.6,432.1 L343.8,433.1 L344.9,434.1 L346,435 L347.2,436 L348.3,437 L349.5,438 L350.6,439 L351.8,439.9 L352.9,440.9 L354.1,441.9 L355.2,442.9 L356.4,443.9 L357.5,444.8 L358.6,445.8 L359.8,446.8 L360.9,447.8 L362.1,448.7 L363.2,449.7 L364.4,450.7 L365.5,451.6 L366.7,452.6 L367.8,453.5 L369,454.5 L370.1,455.4 L371.2,456.4 L372.4,457.3 L373.5,458.2 L374.7,459.1 L375.8,459.9 L377,460.8 L378.1,461.6 L379.3,462.4 L380.4,463.2 L381.5,463.9 L382.7,464.7 L383.8,465.3 L385,466 L386.1,466.6 L387.3,467.1 L388.4,467.6 L389.6,468.1 L390.7,468.5 L391.9,468.9 L393,469.3 L394.1,469.6 L395.3,469.9 L396.4,470.1 L397.6,470.3 L398.7,470.5 L399.9,470.7 L401,470.9 L402.2,471 L403.3,471.1 L404.5,471.2 L405.6,471.3 L406.7,471.4 L407.9,471.4 L409,471.5 L410.2,471.5 L411.3,471.6 L412.5,471.6 L413.6,471.6 L414.8,471.6 L415.9,471.7 L417.1,471.7 L418.2,471.7 L419.3,471.7 L420.5,471.7 L421.6,471.7 L422.8,471.7 L423.9,471.7 L425.1,471.7 L426.2,471.7 L427.4,471.7 L428.5,471.7 L429.7,471.7 L430.8,471.7 L431.9,471.7 L433.1,471.7 L434.2,471.8 L435.4,471.8 L436.5,471.8 L437.7,471.8 L438.8,471.8 L440,471.8 L441.1,471.8 L442.2,471.8 L443.4,471.8 L444.5,471.8 L445.7,471.8 L446.8,471.8 L448,471.8 L449.1,471.8 L450.3,471.8 L451.4,471.8 L452.6,471.8 L453.7,471.8 L454.8,471.8 L456,471.8 L457.1,471.8 L458.3,471.8 L459.4,471.8 L460.6,471.8 L461.7,471.8 L462.9,471.9 L464,471.9 L465.2,471.9 L466.3,472" fill="none" stroke="#555555" stroke-width="0.7" />
<path d="M284.2,480.8 L285.3,478.2 L286.5,475.5 L287.6,472.7 L288.8,469.7 L289.9,466.6 L291.1,463.4 L292.2,460.1 L293.4,456.7 L294.5,453.3 L295.7,449.8 L296.8,446.3 L297.9,442.8 L299.1,439.4 L300.2,436 L301.4,432.7 L302.5,429.4 L303.7,426.3 L304.8,423.3 L306,420.4 L307.1,417.6 L308.3,415 L309.4,412.6 L310.5,410.2 L311.7,408 L312.8,406 L314,404 L315.1,402.3 L316.3,400.6 L317.4,399 L318.6,397.6 L319.7,396.2 L320.8,395 L322,393.8 L323.1,392.8 L324.3,391.8 L325.4,390.9 L326.6,390.1 L327.7,389.3 L328.9,388.6 L330,387.9 L331.2,387.3 L332.3,386.8 L333.4,386.3 L334.6,385.9 L335.7,385.5 L336.9,385.1 L338,384.8 L339.2,384.6 L340.3,384.3 L341.5,384.1 L342.6,384 L343.8,383.9 L344.9,383.8 L346,383.8 L347.2,383.8 L348.3,383.9 L349.5,383.9 L350.6,384.1 L351.8,384.3 L352.9,384.5 L354.1,384.8 L355.2,385.2 L356.4,385.6 L357.5,386.1 L358.6,386.7 L359.8,387.3 L360.9,388 L362.1,388.8 L363.2,389.7 L364.4,390.7 L365.5,391.8 L366.7,393.1 L367.8,394.4 L369,395.9 L370.1,397.6 L371.2,399.4 L372.4,401.3 L373.5,403.5 L374.7,405.8 L375.8,408.3 L377,410.9 L378.1,413.8 L379.3,416.8 L380.4,420 L381.5,423.4 L382.7,426.9 L383.8,430.6 L385,434.4 L386.1,438.2 L387.3,442.1 L388.4,446 L389.6,450 L390.7,453.8 L391.9,457.7 L393,461.4 L394.1,465 L395.3,468.5 L396.4,471.8 L397.6,474.9 L398.7,477.9 L399.9,480.8 L401,483.4 L402.2,485.9 L403.3,488.2 L404.5,490.3 L405.6,492.3 L406.7,494.2 L407.9,495.9 L409,497.5 L410.2,498.9 L411.3,500.2 L412.5,501.5 L413.6,502.6 L414.8,503.6 L415.9,504.5 L417.1,505.3 L418.2,506.1 L419.3,506.8 L420.5,507.4 L421.6,507.9 L422.8,508.4 L423.9,508.9 L425.1,509.3 L426.2,509.6 L427.4,509.9 L428.5,510.2 L429.7,510.4 L430.8,510.6 L431.9,510.7 L433.1,510.9 L434.2,511 L435.4,511 L436.5,511 L437.7,511.1 L438.8,511 L440,511 L441.1,510.9 L442.2,510.8 L443.4,510.6 L444.5,510.4 L445.7,510.2 L446.8,510 L448,509.7 L449.1,509.3 L450.3,509 L451.4,508.5 L452.6,508 L453.7,507.5 L454.8,506.9 L456,506.2 L457.1,505.4 L458.3,504.6 L459.4,503.6 L460.6,502.6 L461.7,501.4 L462.9,500.1 L464,498.7 L465.2,497.1 L466.3,495.4" fill="none" stroke="#555555" stroke-width="0.7" />
<path d="M284.2,419 L285.3,419.1 L286.5,419.2 L287.6,419.3 L288.8,419.5 L289.9,419.6 L291.1,419.7 L292.2,419.8 L293.4,419.9 L294.5,420 L295.7,420.1 L296.8,420.2 L297.9,420.3 L299.1,420.5 L300.2,420.6 L301.4,420.7 L302.5,420.9 L303.7,421 L304.8,421.2 L306,421.4 L307.1,421.5 L308.3,421.7 L309.4,421.9 L310.5,422.2 L311.7,422.4 L312.8,422.7 L314,423 L315.1,423.3 L316.3,423.6 L317.4,424 L318.6,424.4 L319.7,424.8 L320.8,425.3 L322,425.8 L323.1,426.3 L324.3,426.9 L325.4,427.5 L326.6,428.1 L327.7,428.7 L328.9,429.4 L330,430.1 L331.2,430.8 L332.3,431.6 L333.4,432.4 L334.6,433.2 L335.7,434 L336.9,434.8 L338,435.6 L339.2,436.5 L340.3,437.3 L341.5,438.2 L342.6,439.1 L343.8,440 L344.9,440.9 L346,441.8 L347.2,442.7 L348.3,443.6 L349.5,444.5 L350.6,445.4 L351.8,446.3 L352.9,447.2 L354.1,448.2 L355.2,449.1 L356.4,450 L357.5,450.9 L358.6,451.9 L359.8,452.8 L360.9,453.7 L362.1,454.7 L363.2,455.6 L364.4,456.5 L365.5,457.5 L366.7,458.4 L367.8,459.3 L369,460.2 L370.1,461.2 L371.2,462.1 L372.4,463 L373.5,463.9 L374.7,464.8 L375.8,465.7 L377,466.6 L378.1,467.5 L379.3,468.4 L380.4,469.3 L381.5,470.1 L382.7,471 L383.8,471.8 L385,472.7 L386.1,473.5 L387.3,474.3 L388.4,475.1 L389.6,475.8 L390.7,476.6 L391.9,477.3 L393,478 L394.1,478.6 L395.3,479.2 L396.4,479.8 L397.6,480.4 L398.7,480.9 L399.9,481.3 L401,481.8 L402.2,482.2 L403.3,482.5 L404.5,482.9 L405.6,483.2 L406.7,483.4 L407.9,483.7 L409,483.9 L410.2,484.1 L411.3,484.3 L412.5,484.4 L413.6,484.5 L414.8,484.6 L415.9,484.8 L417.1,484.8 L418.2,484.9 L419.3,485 L420.5,485 L421.6,485.1 L422.8,485.1 L423.9,485.2 L425.1,485.2 L426.2,485.3 L427.4,485.3 L428.5,485.3 L429.7,485.3 L430.8,485.4 L431.9,485.4 L433.1,485.4 L434.2,485.4 L435.4,485.4 L436.5,485.4 L437.7,485.4 L438.8,485.4 L440,485.5 L441.1,485.5 L442.2,485.5 L443.4,485.5 L444.5,485.5 L445.7,485.5 L446.8,485.5 L448,485.5 L449.1,485.5 L450.3,485.5 L451.4,485.5 L452.6,485.5 L453.7,485.6 L454.8,485.6 L456,485.6 L457.1,485.6 L458.3,485.6 L459.4,485.6 L460.6,485.7 L461.7,485.7 L462.9,485.7 L464,485.8 L465.2,485.9 L466.3,485.9" fill="none" stroke="#555555" stroke-width="0.7" />
<path d="M284.2,495.8 L285.3,495.6 L286.5,495.4 L287.6,495.1 L288.8,494.8 L289.9,494.4 L291.1,493.9 L292.2,493.4 L293.4,492.8 L294.5,492.2 L295.7,491.5 L296.8,490.6 L297.9,489.7 L299.1,488.7 L300.2,487.6 L301.4,486.4 L302.5,485.1 L303.7,483.7 L304.8,482.1 L306,480.4 L307.1,478.6 L308.3,476.6 L309.4,474.6 L310.5,472.3 L311.7,470 L312.8,467.5 L314,464.9 L315.1,462.2 L316.3,459.3 L317.4,456.4 L318.6,453.4 L319.7,450.3 L320.8,447.3 L322,444.1 L323.1,441 L324.3,437.9 L325.4,434.9 L326.6,431.9 L327.7,428.9 L328.9,426.1 L330,423.4 L331.2,420.8 L332.3,418.3 L333.4,415.9 L334.6,413.7 L335.7,411.6 L336.9,409.6 L338,407.8 L339.2,406 L340.3,404.5 L341.5,403 L342.6,401.6 L343.8,400.4 L344.9,399.3 L346,398.3 L347.2,397.3 L348.3,396.5 L349.5,395.7 L350.6,395.1 L351.8,394.5 L352.9,394 L354.1,393.6 L355.2,393.2 L356.4,392.9 L357.5,392.7 L358.6,392.6 L359.8,392.5 L360.9,392.5 L362.1,392.5 L363.2,392.7 L364.4,392.9 L365.5,393.1 L366.7,393.4 L367.8,393.8 L369,394.3 L370.1,394.9 L371.2,395.5 L372.4,396.3 L373.5,397.1 L374.7,398 L375.8,399 L377,400.2 L378.1,401.4 L379.3,402.8 L380.4,404.3 L381.5,405.9 L382.7,407.7 L383.8,409.6 L385,411.7 L386.1,413.9 L387.3,416.3 L388.4,418.8 L389.6,421.5 L390.7,424.3 L391.9,427.3 L393,430.4 L394.1,433.6 L395.3,437 L396.4,440.4 L397.6,443.8 L398.7,447.3 L399.9,450.9 L401,454.4 L402.2,457.8 L403.3,461.2 L404.5,464.6 L405.6,467.8 L406.7,470.9 L407.9,473.9 L409,476.7 L410.2,479.4 L411.3,482 L412.5,484.4 L413.6,486.6 L414.8,488.7 L415.9,490.7 L417.1,492.5 L418.2,494.2 L419.3,495.7 L420.5,497.1 L421.6,498.4 L422.8,499.6 L423.9,500.7 L425.1,501.7 L426.2,502.6 L427.4,503.4 L428.5,504.1 L429.7,504.8 L430.8,505.3 L431.9,505.9 L433.1,506.3 L434.2,506.7 L435.4,507 L436.5,507.3 L437.7,507.5 L438.8,507.6 L440,507.7 L441.1,507.7 L442.2,507.7 L443.4,507.6 L444.5,507.5 L445.7,507.3 L446.8,507 L448,506.7 L449.1,506.3 L450.3,505.8 L451.4,505.3 L452.6,504.7 L453.7,503.9 L454.8,503.1 L456,502.2 L457.1,501.2 L458.3,500 L459.4,498.7 L460.6,497.3 L461.7,495.7 L462.9,493.9 L464,491.9 L465.2,489.8 L466.3,487.4" fill="none" stroke="#555555" stroke-width="0.7" />
<path d="M284.2,421.3 L285.3,421.4 L286.5,421.5 L287.6,421.6 L288.8,421.7 L289.9,421.8 L291.1,421.9 L292.2,422 L293.4,422.2 L294.5,422.3 L295.7,422.4 L296.8,422.6 L297.9,422.7 L299.1,422.8 L300.2,423 L301.4,423.1 L302.5,423.3 L303.7,423.4 L304.8,423.6 L306,423.8 L307.1,424 L308.3,424.2 L309.4,424.4 L310.5,424.6 L311.7,424.9 L312.8,425.1 L314,425.4 L315.1,425.7 L316.3,426.1 L317.4,426.4 L318.6,426.8 L319.7,427.2 L320.8,427.6 L322,428.1 L323.1,428.6 L324.3,429.2 L325.4,429.7 L326.6,430.3 L327.7,430.9 L328.9,431.6 L330,432.3 L331.2,433 L332.3,433.7 L333.4,434.5 L334.6,435.2 L335.7,436 L336.9,436.8 L338,437.6 L339.2,438.5 L340.3,439.3 L341.5,440.2 L342.6,441.1 L343.8,441.9 L344.9,442.8 L346,443.7 L347.2,444.6 L348.3,445.5 L349.5,446.4 L350.6,447.3 L351.8,448.2 L352.9,449.1 L354.1,450 L355.2,451 L356.4,451.9 L357.5,452.8 L358.6,453.7 L359.8,454.7 L360.9,455.6 L362.1,456.5 L363.2,457.4 L364.4,458.4 L365.5,459.3 L366.7,460.2 L367.8,461.1 L369,462.1 L370.1,463 L371.2,463.9 L372.4,464.8 L373.5,465.8 L374.7,466.7 L375.8,467.6 L377,468.5 L378.1,469.4 L379.3,470.3 L380.4,471.2 L381.5,472.2 L382.7,473.1 L383.8,474 L385,474.8 L386.1,475.7 L387.3,476.6 L388.4,477.5 L389.6,478.3 L390.7,479.2 L391.9,480 L393,480.8 L394.1,481.7 L395.3,482.4 L396.4,483.2 L397.6,484 L398.7,484.7 L399.9,485.4 L401,486.1 L402.2,486.7 L403.3,487.4 L404.5,487.9 L405.6,488.5 L406.7,489 L407.9,489.5 L409,489.9 L410.2,490.3 L411.3,490.7 L412.5,491 L413.6,491.3 L414.8,491.6 L415.9,491.9 L417.1,492.1 L418.2,492.3 L419.3,492.5 L420.5,492.6 L421.6,492.8 L422.8,492.9 L423.9,493 L425.1,493.1 L426.2,493.2 L427.4,493.3 L428.5,493.3 L429.7,493.4 L430.8,493.4 L431.9,493.5 L433.1,493.5 L434.2,493.5 L435.4,493.6 L436.5,493.6 L437.7,493.6 L438.8,493.7 L440,493.7 L441.1,493.7 L442.2,493.7 L443.4,493.7 L444.5,493.7 L445.7,493.7 L446.8,493.8 L448,493.8 L449.1,493.8 L450.3,493.8 L451.4,493.8 L452.6,493.8 L453.7,493.8 L454.8,493.8 L456,493.8 L457.1,493.8 L458.3,493.9 L459.4,493.9 L460.6,493.9 L461.7,493.9 L462.9,493.9 L464,494 L465.2,494 L466.3,494" fill="none" stroke="#555555" stroke-width="0.7" />
<path d="M284.2,499.6 L285.3,498.9 L286.5,498.2 L287.6,497.5 L288.8,496.8 L289.9,496.1 L291.1,495.3 L292.2,494.5 L293.4,493.7 L294.5,492.8 L295.7,491.9 L296.8,490.9 L297.9,489.9 L299.1,488.8 L300.2,487.7 L301.4,486.4 L302.5,485.1 L303.7,483.7 L304.8,482.2 L306,480.6 L307.1,478.9 L308.3,477.1 L309.4,475.2 L310.5,473.1 L311.7,470.9 L312.8,468.6 L314,466.1 L315.1,463.6 L316.3,460.9 L317.4,458.1 L318.6,455.2 L319.7,452.3 L320.8,449.3 L322,446.3 L323.1,443.2 L324.3,440.2 L325.4,437.1 L326.6,434.1 L327.7,431.2 L328.9,428.3 L330,425.6 L331.2,422.9 L332.3,420.4 L333.4,417.9 L334.6,415.6 L335.7,413.4 L336.9,411.4 L338,409.5 L339.2,407.7 L340.3,406 L341.5,404.4 L342.6,403 L343.8,401.7 L344.9,400.4 L346,399.3 L347.2,398.3 L348.3,397.3 L349.5,396.5 L350.6,395.7 L351.8,395 L352.9,394.4 L354.1,393.9 L355.2,393.4 L356.4,393 L357.5,392.6 L358.6,392.3 L359.8,392 L360.9,391.8 L362.1,391.7 L363.2,391.6 L364.4,391.5 L365.5,391.5 L366.7,391.6 L367.8,391.7 L369,391.8 L370.1,392.1 L371.2,392.3 L372.4,392.6 L373.5,393 L374.7,393.4 L375.8,393.9 L377,394.5 L378.1,395.1 L379.3,395.9 L380.4,396.6 L381.5,397.5 L382.7,398.5 L383.8,399.5 L385,400.7 L386.1,402 L387.3,403.4 L388.4,404.9 L389.6,406.5 L390.7,408.2 L391.9,410.1 L393,412.2 L394.1,414.4 L395.3,416.7 L396.4,419.2 L397.6,421.8 L398.7,424.5 L399.9,427.4 L401,430.5 L402.2,433.6 L403.3,436.8 L404.5,440.2 L405.6,443.6 L406.7,447 L407.9,450.4 L409,453.9 L410.2,457.3 L411.3,460.6 L412.5,463.9 L413.6,467.1 L414.8,470.2 L415.9,473.2 L417.1,476 L418.2,478.7 L419.3,481.2 L420.5,483.6 L421.6,485.9 L422.8,488 L423.9,489.9 L425.1,491.7 L426.2,493.4 L427.4,495 L428.5,496.4 L429.7,497.7 L430.8,498.9 L431.9,500 L433.1,501 L434.2,501.9 L435.4,502.7 L436.5,503.4 L437.7,504 L438.8,504.6 L440,505 L441.1,505.4 L442.2,505.8 L443.4,506 L444.5,506.2 L445.7,506.4 L446.8,506.4 L448,506.4 L449.1,506.4 L450.3,506.2 L451.4,506 L452.6,505.8 L453.7,505.4 L454.8,505 L456,504.4 L457.1,503.8 L458.3,503.1 L459.4,502.3 L460.6,501.3 L461.7,500.3 L462.9,499.1 L464,497.8 L465.2,496.3 L466.3,494.7" fill="none" stroke="#555555" stroke-width="0.7" />
<use href="#sq1" x="284.2" y="390.5"/><use href="#sq1" x="286.8" y="391.3"/><use href="#sq1" x="289.4" y="392"/><use href="#sq1" x="292" y="392.6"/><use href="#sq1" x="294.6" y="394.6"/><use href="#sq1" x="297.2" y="396"/><use href="#sq1" x="299.8" y="397.4"/><use href="#sq1" x="302.4" y="399.5"/><use href="#sq1" x="305" y="401.3"/><use href="#sq1" x="307.6" y="403.3"/><use href="#sq1" x="310.2" y="405.2"/><use href="#sq1" x="312.8" y="407.4"/><use href="#sq1" x="315.4" y="409.1"/><use href="#sq1" x="318" y="411.4"/><use href="#sq1" x="320.6" y="413.4"/><use href="#sq1" x="323.2" y="415.8"/><use href="#sq1" x="325.8" y="417.8"/><use href="#sq1" x="328.4" y="419.9"/><use href="#sq1" x="331" y="422"/><use href="#sq1" x="333.6" y="424.4"/><use href="#sq1" x="336.2" y="426.7"/><use href="#sq1" x="338.8" y="428.8"/><use href="#sq1" x="341.4" y="431.5"/><use href="#sq1" x="344" y="433.6"/><use href="#sq1" x="346.6" y="434.7"/><use href="#sq1" x="349.2" y="437.2"/><use href="#sq1" x="351.8" y="440"/><use href="#sq1" x="354.4" y="442.1"/><use href="#sq1" x="357" y="444.5"/><use href="#sq1" x="359.6" y="446.7"/><use href="#sq1" x="362.2" y="449.5"/><use href="#sq1" x="364.8" y="450.7"/><use href="#sq1" x="367.4" y="453.1"/><use href="#sq1" x="370" y="456"/><use href="#sq1" x="372.6" y="457.6"/><use href="#sq1" x="375.3" y="459.6"/><use href="#sq1" x="377.9" y="461.2"/><use href="#sq1" x="380.5" y="462.6"/><use href="#sq1" x="383.1" y="464.8"/><use href="#sq1" x="385.7" y="466.3"/><use href="#sq1" x="388.3" y="467.1"/><use href="#sq1" x="390.9" y="468.3"/><use href="#sq1" x="393.5" y="469.3"/><use href="#sq1" x="396.1" y="469.7"/><use href="#sq1" x="398.7" y="470.4"/><use href="#sq1" x="401.3" y="470.8"/><use href="#sq1" x="403.9" y="471.1"/><use href="#sq1" x="406.5" y="471.1"/><use href="#sq1" x="409.1" y="471.6"/><use href="#sq1" x="411.7" y="471.8"/><use href="#sq1" x="414.3" y="471.7"/><use href="#sq1" x="416.9" y="471.4"/><use href="#sq1" x="419.5" y="471.9"/><use href="#sq1" x="422.1" y="471.5"/><use href="#sq1" x="424.7" y="472"/><use href="#sq1" x="427.3" y="471.4"/><use href="#sq1" x="429.9" y="472"/><use href="#sq1" x="432.5" y="471.7"/><use href="#sq1" x="435.1" y="471.4"/><use href="#sq1" x="437.7" y="471.7"/><use href="#sq1" x="440.3" y="471.8"/><use href="#sq1" x="442.9" y="471.8"/><use href="#sq1" x="445.5" y="471.5"/><use href="#sq1" x="448.1" y="471.4"/><use href="#sq1" x="450.7" y="471.8"/><use href="#sq1" x="453.3" y="471.6"/><use href="#sq1" x="455.9" y="471.9"/><use href="#sq1" x="458.5" y="472"/><use href="#sq1" x="461.1" y="471.3"/><use href="#sq1" x="463.7" y="472"/><use href="#sq1" x="466.3" y="472.3"/>
<use href="#sq1" x="284.2" y="469.1"/><use href="#sq1" x="286.8" y="460.8"/><use href="#sq1" x="289.4" y="452.8"/><use href="#sq1" x="292" y="443.8"/><use href="#sq1" x="294.6" y="435.5"/><use href="#sq1" x="297.2" y="427.1"/><use href="#sq1" x="299.8" y="419.5"/><use href="#sq1" x="302.4" y="413.9"/><use href="#sq1" x="305" y="408.5"/><use href="#sq1" x="307.6" y="404.6"/><use href="#sq1" x="310.2" y="400.6"/><use href="#sq1" x="312.8" y="396.8"/><use href="#sq1" x="315.4" y="394.2"/><use href="#sq1" x="318" y="392.6"/><use href="#sq1" x="320.6" y="390.5"/><use href="#sq1" x="323.2" y="388.2"/><use href="#sq1" x="325.8" y="386.9"/><use href="#sq1" x="328.4" y="385.9"/><use href="#sq1" x="331" y="384.9"/><use href="#sq1" x="333.6" y="384.2"/><use href="#sq1" x="336.2" y="383.4"/><use href="#sq1" x="338.8" y="382.9"/><use href="#sq1" x="341.4" y="382.6"/><use href="#sq1" x="344" y="383.2"/><use href="#sq1" x="346.6" y="382"/><use href="#sq1" x="349.2" y="383.3"/><use href="#sq1" x="351.8" y="383.9"/><use href="#sq1" x="354.4" y="384.2"/><use href="#sq1" x="357" y="386.1"/><use href="#sq1" x="359.6" y="387.1"/><use href="#sq1" x="362.2" y="389.6"/><use href="#sq1" x="364.8" y="391.6"/><use href="#sq1" x="367.4" y="394.8"/><use href="#sq1" x="370" y="398.5"/><use href="#sq1" x="372.6" y="402.5"/><use href="#sq1" x="375.3" y="407.1"/><use href="#sq1" x="377.9" y="412.9"/><use href="#sq1" x="380.5" y="421.1"/><use href="#sq1" x="383.1" y="428.1"/><use href="#sq1" x="385.7" y="436.3"/><use href="#sq1" x="388.3" y="445.4"/><use href="#sq1" x="390.9" y="454.1"/><use href="#sq1" x="393.5" y="463.1"/><use href="#sq1" x="396.1" y="470.6"/><use href="#sq1" x="398.7" y="477.7"/><use href="#sq1" x="401.3" y="483.6"/><use href="#sq1" x="403.9" y="489.4"/><use href="#sq1" x="406.5" y="493.2"/><use href="#sq1" x="409.1" y="497.6"/><use href="#sq1" x="411.7" y="501"/><use href="#sq1" x="414.3" y="502.3"/><use href="#sq1" x="416.9" y="503.9"/><use href="#sq1" x="419.5" y="506.7"/><use href="#sq1" x="422.1" y="508.8"/><use href="#sq1" x="424.7" y="508.4"/><use href="#sq1" x="427.3" y="509.1"/><use href="#sq1" x="429.9" y="510.4"/><use href="#sq1" x="432.5" y="510.2"/><use href="#sq1" x="435.1" y="510.6"/><use href="#sq1" x="437.7" y="510.8"/><use href="#sq1" x="440.3" y="511.1"/><use href="#sq1" x="442.9" y="510.5"/><use href="#sq1" x="445.5" y="510.4"/><use href="#sq1" x="448.1" y="509.7"/><use href="#sq1" x="450.7" y="508.6"/><use href="#sq1" x="453.3" y="507.8"/><use href="#sq1" x="455.9" y="506.2"/><use href="#sq1" x="458.5" y="504.9"/><use href="#sq1" x="461.1" y="502.3"/><use href="#sq1" x="463.7" y="499.5"/><use href="#sq1" x="466.3" y="497.1"/>
<use href="#ci1" x="284.2" y="394.3"/><use href="#ci1" x="286.8" y="394.7"/><use href="#ci1" x="289.4" y="395.5"/><use href="#ci1" x="292" y="395.9"/><use href="#ci1" x="294.6" y="396.8"/><use href="#ci1" x="297.2" y="398.1"/><use href="#ci1" x="299.8" y="399.3"/><use href="#ci1" x="302.4" y="400.3"/><use href="#ci1" x="305" y="402.5"/><use href="#ci1" x="307.6" y="403.8"/><use href="#ci1" x="310.2" y="405.4"/><use href="#ci1" x="312.8" y="407.4"/><use href="#ci1" x="315.4" y="409.5"/><use href="#ci1" x="318" y="412.2"/><use href="#ci1" x="320.6" y="413.4"/><use href="#ci1" x="323.2" y="415.9"/><use href="#ci1" x="325.8" y="417.4"/><use href="#ci1" x="328.4" y="420.2"/><use href="#ci1" x="331" y="422.6"/><use href="#ci1" x="333.6" y="424.4"/><use href="#ci1" x="336.2" y="426.5"/><use href="#ci1" x="338.8" y="429"/><use href="#ci1" x="341.4" y="431.3"/><use href="#ci1" x="344" y="433.5"/><use href="#ci1" x="346.6" y="436.1"/><use href="#ci1" x="349.2" y="437.8"/><use href="#ci1" x="351.8" y="439.8"/><use href="#ci1" x="354.4" y="442.2"/><use href="#ci1" x="357" y="444.4"/><use href="#ci1" x="359.6" y="446.7"/><use href="#ci1" x="362.2" y="448.9"/><use href="#ci1" x="364.8" y="451.1"/><use href="#ci1" x="367.4" y="452.7"/><use href="#ci1" x="370" y="455.6"/><use href="#ci1" x="372.6" y="457.3"/><use href="#ci1" x="375.3" y="459.1"/><use href="#ci1" x="377.9" y="461.6"/><use href="#ci1" x="380.5" y="463.6"/><use href="#ci1" x="383.1" y="465"/><use href="#ci1" x="385.7" y="466.4"/><use href="#ci1" x="388.3" y="467.3"/><use href="#ci1" x="390.9" y="469.5"/><use href="#ci1" x="393.5" y="469.7"/><use href="#ci1" x="396.1" y="469.7"/><use href="#ci1" x="398.7" y="470.3"/><use href="#ci1" x="401.3" y="470.9"/><use href="#ci1" x="403.9" y="470.7"/><use href="#ci1" x="406.5" y="471.4"/><use href="#ci1" x="409.1" y="471.3"/><use href="#ci1" x="411.7" y="471.9"/><use href="#ci1" x="414.3" y="471.9"/><use href="#ci1" x="416.9" y="470.9"/><use href="#ci1" x="419.5" y="471.7"/><use href="#ci1" x="422.1" y="471.2"/><use href="#ci1" x="424.7" y="472.1"/><use href="#ci1" x="427.3" y="471.8"/><use href="#ci1" x="429.9" y="471.9"/><use href="#ci1" x="432.5" y="471.4"/><use href="#ci1" x="435.1" y="472.3"/><use href="#ci1" x="437.7" y="472.4"/><use href="#ci1" x="440.3" y="471.4"/><use href="#ci1" x="442.9" y="471.9"/><use href="#ci1" x="445.5" y="471.6"/><use href="#ci1" x="448.1" y="471.8"/><use href="#ci1" x="450.7" y="471.4"/><use href="#ci1" x="453.3" y="472.3"/><use href="#ci1" x="455.9" y="471.5"/><use href="#ci1" x="458.5" y="471.7"/><use href="#ci1" x="461.1" y="472"/><use href="#ci1" x="463.7" y="471.7"/><use href="#ci1" x="466.3" y="471.9"/>
<use href="#ci1" x="284.2" y="480.6"/><use href="#ci1" x="286.8" y="474.7"/><use href="#ci1" x="289.4" y="467.6"/><use href="#ci1" x="292" y="460.5"/><use href="#ci1" x="294.6" y="452.9"/><use href="#ci1" x="297.2" y="444.9"/><use href="#ci1" x="299.8" y="437.3"/><use href="#ci1" x="302.4" y="429.6"/><use href="#ci1" x="305" y="423.1"/><use href="#ci1" x="307.6" y="416.3"/><use href="#ci1" x="310.2" y="410.8"/><use href="#ci1" x="312.8" y="405.7"/><use href="#ci1" x="315.4" y="401.6"/><use href="#ci1" x="318" y="397.7"/><use href="#ci1" x="320.6" y="395.4"/><use href="#ci1" x="323.2" y="392.2"/><use href="#ci1" x="325.8" y="390.3"/><use href="#ci1" x="328.4" y="389"/><use href="#ci1" x="331" y="387.6"/><use href="#ci1" x="333.6" y="386.1"/><use href="#ci1" x="336.2" y="384.5"/><use href="#ci1" x="338.8" y="384.8"/><use href="#ci1" x="341.4" y="384.3"/><use href="#ci1" x="344" y="383.3"/><use href="#ci1" x="346.6" y="384.1"/><use href="#ci1" x="349.2" y="383.6"/><use href="#ci1" x="351.8" y="383.9"/><use href="#ci1" x="354.4" y="385"/><use href="#ci1" x="357" y="385.8"/><use href="#ci1" x="359.6" y="387.3"/><use href="#ci1" x="362.2" y="388.3"/><use href="#ci1" x="364.8" y="391.9"/><use href="#ci1" x="367.4" y="393.8"/><use href="#ci1" x="370" y="396.9"/><use href="#ci1" x="372.6" y="402.1"/><use href="#ci1" x="375.3" y="406.9"/><use href="#ci1" x="377.9" y="413.2"/><use href="#ci1" x="380.5" y="420"/><use href="#ci1" x="383.1" y="428"/><use href="#ci1" x="385.7" y="436.7"/><use href="#ci1" x="388.3" y="445.2"/><use href="#ci1" x="390.9" y="454.6"/><use href="#ci1" x="393.5" y="462.7"/><use href="#ci1" x="396.1" y="470.4"/><use href="#ci1" x="398.7" y="477.8"/><use href="#ci1" x="401.3" y="484.1"/><use href="#ci1" x="403.9" y="489.2"/><use href="#ci1" x="406.5" y="493.4"/><use href="#ci1" x="409.1" y="497.8"/><use href="#ci1" x="411.7" y="499.9"/><use href="#ci1" x="414.3" y="502.7"/><use href="#ci1" x="416.9" y="505.2"/><use href="#ci1" x="419.5" y="506.3"/><use href="#ci1" x="422.1" y="508.1"/><use href="#ci1" x="424.7" y="509.1"/><use href="#ci1" x="427.3" y="510.2"/><use href="#ci1" x="429.9" y="510.1"/><use href="#ci1" x="432.5" y="510.5"/><use href="#ci1" x="435.1" y="511.1"/><use href="#ci1" x="437.7" y="510.1"/><use href="#ci1" x="440.3" y="512.2"/><use href="#ci1" x="442.9" y="510.4"/><use href="#ci1" x="445.5" y="510"/><use href="#ci1" x="448.1" y="510"/><use href="#ci1" x="450.7" y="508.8"/><use href="#ci1" x="453.3" y="507"/><use href="#ci1" x="455.9" y="506.5"/><use href="#ci1" x="458.5" y="504.7"/><use href="#ci1" x="461.1" y="501.9"/><use href="#ci1" x="463.7" y="499"/><use href="#ci1" x="466.3" y="495.6"/>
<use href="#tu1" x="284.2" y="418.8"/><use href="#tu1" x="286.8" y="419.4"/><use href="#tu1" x="289.4" y="419.6"/><use href="#tu1" x="292" y="419.5"/><use href="#tu1" x="294.6" y="419.6"/><use href="#tu1" x="297.2" y="420.2"/><use href="#tu1" x="299.8" y="420.3"/><use href="#tu1" x="302.4" y="421.2"/><use href="#tu1" x="305" y="421.3"/><use href="#tu1" x="307.6" y="421.9"/><use href="#tu1" x="310.2" y="422.2"/><use href="#tu1" x="312.8" y="422.8"/><use href="#tu1" x="315.4" y="423.2"/><use href="#tu1" x="318" y="424.4"/><use href="#tu1" x="320.6" y="425.7"/><use href="#tu1" x="323.2" y="426.3"/><use href="#tu1" x="325.8" y="427.5"/><use href="#tu1" x="328.4" y="429.1"/><use href="#tu1" x="331" y="430.6"/><use href="#tu1" x="333.6" y="432.3"/><use href="#tu1" x="336.2" y="434.4"/><use href="#tu1" x="338.8" y="436.1"/><use href="#tu1" x="341.4" y="438.6"/><use href="#tu1" x="344" y="440.2"/><use href="#tu1" x="346.6" y="442.3"/><use href="#tu1" x="349.2" y="444.6"/><use href="#tu1" x="351.8" y="446.3"/><use href="#tu1" x="354.4" y="448.9"/><use href="#tu1" x="357" y="450.4"/><use href="#tu1" x="359.6" y="452.4"/><use href="#tu1" x="362.2" y="454.7"/><use href="#tu1" x="364.8" y="456.9"/><use href="#tu1" x="367.4" y="458.6"/><use href="#tu1" x="370" y="461.1"/><use href="#tu1" x="372.6" y="462.7"/><use href="#tu1" x="375.3" y="465.7"/><use href="#tu1" x="377.9" y="467.3"/><use href="#tu1" x="380.5" y="469.1"/><use href="#tu1" x="383.1" y="471"/><use href="#tu1" x="385.7" y="473"/><use href="#tu1" x="388.3" y="474.9"/><use href="#tu1" x="390.9" y="476.3"/><use href="#tu1" x="393.5" y="477.9"/><use href="#tu1" x="396.1" y="479.6"/><use href="#tu1" x="398.7" y="480.7"/><use href="#tu1" x="401.3" y="482.1"/><use href="#tu1" x="403.9" y="483"/><use href="#tu1" x="406.5" y="483.4"/><use href="#tu1" x="409.1" y="484"/><use href="#tu1" x="411.7" y="483.9"/><use href="#tu1" x="414.3" y="484.8"/><use href="#tu1" x="416.9" y="484.8"/><use href="#tu1" x="419.5" y="485.1"/><use href="#tu1" x="422.1" y="485.6"/><use href="#tu1" x="424.7" y="484.5"/><use href="#tu1" x="427.3" y="485.4"/><use href="#tu1" x="429.9" y="485"/><use href="#tu1" x="432.5" y="485.6"/><use href="#tu1" x="435.1" y="485"/><use href="#tu1" x="437.7" y="485.3"/><use href="#tu1" x="440.3" y="485.5"/><use href="#tu1" x="442.9" y="485.7"/><use href="#tu1" x="445.5" y="485.5"/><use href="#tu1" x="448.1" y="485.3"/><use href="#tu1" x="450.7" y="485.4"/><use href="#tu1" x="453.3" y="485.8"/><use href="#tu1" x="455.9" y="485.6"/><use href="#tu1" x="458.5" y="485.1"/><use href="#tu1" x="461.1" y="485.9"/><use href="#tu1" x="463.7" y="485.9"/><use href="#tu1" x="466.3" y="486.2"/>
<use href="#tu1" x="284.2" y="495.7"/><use href="#tu1" x="286.8" y="495.6"/><use href="#tu1" x="289.4" y="494.1"/><use href="#tu1" x="292" y="493.8"/><use href="#tu1" x="294.6" y="491.9"/><use href="#tu1" x="297.2" y="490.6"/><use href="#tu1" x="299.8" y="488.5"/><use href="#tu1" x="302.4" y="484.9"/><use href="#tu1" x="305" y="481.8"/><use href="#tu1" x="307.6" y="477.8"/><use href="#tu1" x="310.2" y="473.5"/><use href="#tu1" x="312.8" y="467.8"/><use href="#tu1" x="315.4" y="460.9"/><use href="#tu1" x="318" y="455"/><use href="#tu1" x="320.6" y="448.2"/><use href="#tu1" x="323.2" y="441.6"/><use href="#tu1" x="325.8" y="433.2"/><use href="#tu1" x="328.4" y="427"/><use href="#tu1" x="331" y="421.6"/><use href="#tu1" x="333.6" y="415"/><use href="#tu1" x="336.2" y="410.2"/><use href="#tu1" x="338.8" y="406.8"/><use href="#tu1" x="341.4" y="403.4"/><use href="#tu1" x="344" y="399.9"/><use href="#tu1" x="346.6" y="398"/><use href="#tu1" x="349.2" y="395.9"/><use href="#tu1" x="351.8" y="395.1"/><use href="#tu1" x="354.4" y="393.5"/><use href="#tu1" x="357" y="393.2"/><use href="#tu1" x="359.6" y="392.1"/><use href="#tu1" x="362.2" y="392.5"/><use href="#tu1" x="364.8" y="392.9"/><use href="#tu1" x="367.4" y="394.2"/><use href="#tu1" x="370" y="395.1"/><use href="#tu1" x="372.6" y="396.1"/><use href="#tu1" x="375.3" y="398.8"/><use href="#tu1" x="377.9" y="401.4"/><use href="#tu1" x="380.5" y="404.3"/><use href="#tu1" x="383.1" y="408.2"/><use href="#tu1" x="385.7" y="412.9"/><use href="#tu1" x="388.3" y="417.8"/><use href="#tu1" x="390.9" y="424.8"/><use href="#tu1" x="393.5" y="431.8"/><use href="#tu1" x="396.1" y="438.9"/><use href="#tu1" x="398.7" y="447.4"/><use href="#tu1" x="401.3" y="454.6"/><use href="#tu1" x="403.9" y="462.7"/><use href="#tu1" x="406.5" y="470"/><use href="#tu1" x="409.1" y="477.6"/><use href="#tu1" x="411.7" y="482.1"/><use href="#tu1" x="414.3" y="488.1"/><use href="#tu1" x="416.9" y="492.6"/><use href="#tu1" x="419.5" y="496"/><use href="#tu1" x="422.1" y="499.4"/><use href="#tu1" x="424.7" y="501"/><use href="#tu1" x="427.3" y="502.4"/><use href="#tu1" x="429.9" y="505.2"/><use href="#tu1" x="432.5" y="505.6"/><use href="#tu1" x="435.1" y="506.8"/><use href="#tu1" x="437.7" y="507"/><use href="#tu1" x="440.3" y="508.1"/><use href="#tu1" x="442.9" y="508"/><use href="#tu1" x="445.5" y="507"/><use href="#tu1" x="448.1" y="507"/><use href="#tu1" x="450.7" y="505.7"/><use href="#tu1" x="453.3" y="504.2"/><use href="#tu1" x="455.9" y="502.3"/><use href="#tu1" x="458.5" y="499.7"/><use href="#tu1" x="461.1" y="496.8"/><use href="#tu1" x="463.7" y="492.6"/><use href="#tu1" x="466.3" y="487.3"/>
<use href="#td1" x="284.2" y="421.6"/><use href="#td1" x="286.8" y="421.3"/><use href="#td1" x="289.4" y="421.9"/><use href="#td1" x="292" y="422.2"/><use href="#td1" x="294.6" y="422.7"/><use href="#td1" x="297.2" y="422.4"/><use href="#td1" x="299.8" y="423.4"/><use href="#td1" x="302.4" y="423.3"/><use href="#td1" x="305" y="423.6"/><use href="#td1" x="307.6" y="423.9"/><use href="#td1" x="310.2" y="424.7"/><use href="#td1" x="312.8" y="425.2"/><use href="#td1" x="315.4" y="425.5"/><use href="#td1" x="318" y="426.3"/><use href="#td1" x="320.6" y="427.4"/><use href="#td1" x="323.2" y="428.5"/><use href="#td1" x="325.8" y="430.2"/><use href="#td1" x="328.4" y="431.7"/><use href="#td1" x="331" y="433.2"/><use href="#td1" x="333.6" y="434.7"/><use href="#td1" x="336.2" y="436.2"/><use href="#td1" x="338.8" y="438.2"/><use href="#td1" x="341.4" y="440.4"/><use href="#td1" x="344" y="442.8"/><use href="#td1" x="346.6" y="444.4"/><use href="#td1" x="349.2" y="446.1"/><use href="#td1" x="351.8" y="448.3"/><use href="#td1" x="354.4" y="450.2"/><use href="#td1" x="357" y="452.2"/><use href="#td1" x="359.6" y="454.5"/><use href="#td1" x="362.2" y="456.7"/><use href="#td1" x="364.8" y="459.3"/><use href="#td1" x="367.4" y="460.9"/><use href="#td1" x="370" y="463.4"/><use href="#td1" x="372.6" y="465.6"/><use href="#td1" x="375.3" y="467.2"/><use href="#td1" x="377.9" y="469.7"/><use href="#td1" x="380.5" y="471.5"/><use href="#td1" x="383.1" y="473.2"/><use href="#td1" x="385.7" y="475.4"/><use href="#td1" x="388.3" y="477.4"/><use href="#td1" x="390.9" y="479.2"/><use href="#td1" x="393.5" y="481.1"/><use href="#td1" x="396.1" y="483"/><use href="#td1" x="398.7" y="484.8"/><use href="#td1" x="401.3" y="486"/><use href="#td1" x="403.9" y="487.6"/><use href="#td1" x="406.5" y="488.4"/><use href="#td1" x="409.1" y="490"/><use href="#td1" x="411.7" y="491"/><use href="#td1" x="414.3" y="491.6"/><use href="#td1" x="416.9" y="492.1"/><use href="#td1" x="419.5" y="492.7"/><use href="#td1" x="422.1" y="492.6"/><use href="#td1" x="424.7" y="493"/><use href="#td1" x="427.3" y="493.4"/><use href="#td1" x="429.9" y="493.7"/><use href="#td1" x="432.5" y="493.6"/><use href="#td1" x="435.1" y="494.3"/><use href="#td1" x="437.7" y="493.6"/><use href="#td1" x="440.3" y="494"/><use href="#td1" x="442.9" y="494.1"/><use href="#td1" x="445.5" y="493.7"/><use href="#td1" x="448.1" y="493.5"/><use href="#td1" x="450.7" y="493.4"/><use href="#td1" x="453.3" y="493.9"/><use href="#td1" x="455.9" y="494.2"/><use href="#td1" x="458.5" y="493.9"/><use href="#td1" x="461.1" y="493.9"/><use href="#td1" x="463.7" y="493.8"/><use href="#td1" x="466.3" y="494.2"/>
<use href="#td1" x="284.2" y="498.7"/><use href="#td1" x="286.8" y="498.1"/><use href="#td1" x="289.4" y="496.4"/><use href="#td1" x="292" y="494.1"/><use href="#td1" x="294.6" y="493.6"/><use href="#td1" x="297.2" y="490"/><use href="#td1" x="299.8" y="487.7"/><use href="#td1" x="302.4" y="484.8"/><use href="#td1" x="305" y="482.4"/><use href="#td1" x="307.6" y="477.8"/><use href="#td1" x="310.2" y="474"/><use href="#td1" x="312.8" y="468.8"/><use href="#td1" x="315.4" y="463"/><use href="#td1" x="318" y="456.1"/><use href="#td1" x="320.6" y="449.7"/><use href="#td1" x="323.2" y="443.7"/><use href="#td1" x="325.8" y="435.6"/><use href="#td1" x="328.4" y="429.1"/><use href="#td1" x="331" y="423.1"/><use href="#td1" x="333.6" y="417.9"/><use href="#td1" x="336.2" y="412.6"/><use href="#td1" x="338.8" y="408.5"/><use href="#td1" x="341.4" y="404"/><use href="#td1" x="344" y="401.7"/><use href="#td1" x="346.6" y="399"/><use href="#td1" x="349.2" y="396"/><use href="#td1" x="351.8" y="395.6"/><use href="#td1" x="354.4" y="394.6"/><use href="#td1" x="357" y="392.4"/><use href="#td1" x="359.6" y="392.1"/><use href="#td1" x="362.2" y="392.2"/><use href="#td1" x="364.8" y="390.9"/><use href="#td1" x="367.4" y="390.9"/><use href="#td1" x="370" y="391.5"/><use href="#td1" x="372.6" y="392.5"/><use href="#td1" x="375.3" y="393.5"/><use href="#td1" x="377.9" y="395.2"/><use href="#td1" x="380.5" y="396.8"/><use href="#td1" x="383.1" y="398.3"/><use href="#td1" x="385.7" y="401.7"/><use href="#td1" x="388.3" y="405.4"/><use href="#td1" x="390.9" y="409"/><use href="#td1" x="393.5" y="413.4"/><use href="#td1" x="396.1" y="418.3"/><use href="#td1" x="398.7" y="424.8"/><use href="#td1" x="401.3" y="430.7"/><use href="#td1" x="403.9" y="438.8"/><use href="#td1" x="406.5" y="446.1"/><use href="#td1" x="409.1" y="454.4"/><use href="#td1" x="411.7" y="461.8"/><use href="#td1" x="414.3" y="468.5"/><use href="#td1" x="416.9" y="475.6"/><use href="#td1" x="419.5" y="482"/><use href="#td1" x="422.1" y="486.2"/><use href="#td1" x="424.7" y="490.9"/><use href="#td1" x="427.3" y="494.5"/><use href="#td1" x="429.9" y="497.3"/><use href="#td1" x="432.5" y="500.8"/><use href="#td1" x="435.1" y="503"/><use href="#td1" x="437.7" y="504.3"/><use href="#td1" x="440.3" y="505.3"/><use href="#td1" x="442.9" y="505.9"/><use href="#td1" x="445.5" y="506.5"/><use href="#td1" x="448.1" y="506.1"/><use href="#td1" x="450.7" y="506.5"/><use href="#td1" x="453.3" y="506"/><use href="#td1" x="455.9" y="504.9"/><use href="#td1" x="458.5" y="502.7"/><use href="#td1" x="461.1" y="500.9"/><use href="#td1" x="463.7" y="498.1"/><use href="#td1" x="466.3" y="495.4"/>
</g>
<use href="#sq1.2" x="424.6" y="379.8"/>
<text x="435.8" y="382.8" font-size="9" text-anchor="start" fill="#000" font-family="Liberation Serif" font-weight="bold" >0%</text>
<use href="#ci1.2" x="424.6" y="390.3"/>
<text x="435.8" y="393.3" font-size="9" text-anchor="start" fill="#000" font-family="Liberation Serif" font-weight="bold" >0.1%</text>
<use href="#tu1.2" x="424.6" y="400.8"/>
<text x="435.8" y="403.8" font-size="9" text-anchor="start" fill="#000" font-family="Liberation Serif" font-weight="bold" >1%</text>
<use href="#td1.2" x="424.6" y="410.7"/>
<text x="435.8" y="413.7" font-size="9" text-anchor="start" fill="#000" font-family="Liberation Serif" font-weight="bold" >3.5%</text>
<line x1="415.5" y1="421" x2="433.5" y2="421" stroke="#777" stroke-width="1" />
<text x="435.8" y="424" font-size="9" text-anchor="start" fill="#000" font-family="Liberation Serif" font-weight="bold" letter-spacing="-0.3">fitting</text>
<text transform="translate(263.5,441) rotate(-90)" font-size="13" text-anchor="middle" font-family="Liberation Serif" font-weight="bold">|Z|(Ω·cm<tspan font-size="5.9" dy="-4.9">2</tspan><tspan dy="4.9">)</tspan></text>
<text transform="translate(493,441.2) rotate(-90)" font-size="12.5" text-anchor="middle" fill="#ff0000" font-family="Liberation Serif" font-weight="bold">-θ/°</text>
<text x="375.5" y="542.3" font-size="12.5" text-anchor="middle" fill="#000" font-family="Liberation Serif" font-weight="bold" >Frequency(Hz)</text>
<line x1="347.2" y1="460.8" x2="361.1" y2="460.8" stroke="#000" stroke-width="1" />
<path d="M344.2,460.8 l4,-1.8 l0,3.6 Z" fill="#000"/>
<line x1="423.2" y1="444.3" x2="441.3" y2="444.3" stroke="#ff0000" stroke-width="1" />
<path d="M444.3,444.3 l-4,-1.8 l0,3.6 Z" fill="#ff0000"/>
<text x="245" y="374.5" font-size="15" font-family="Liberation Serif" font-weight="bold">(c<tspan font-size="8" dy="2.9" dx="0.6">2</tspan><tspan dy="-2.9" dx="0.3">)</tspan></text>
</svg></body></html>
